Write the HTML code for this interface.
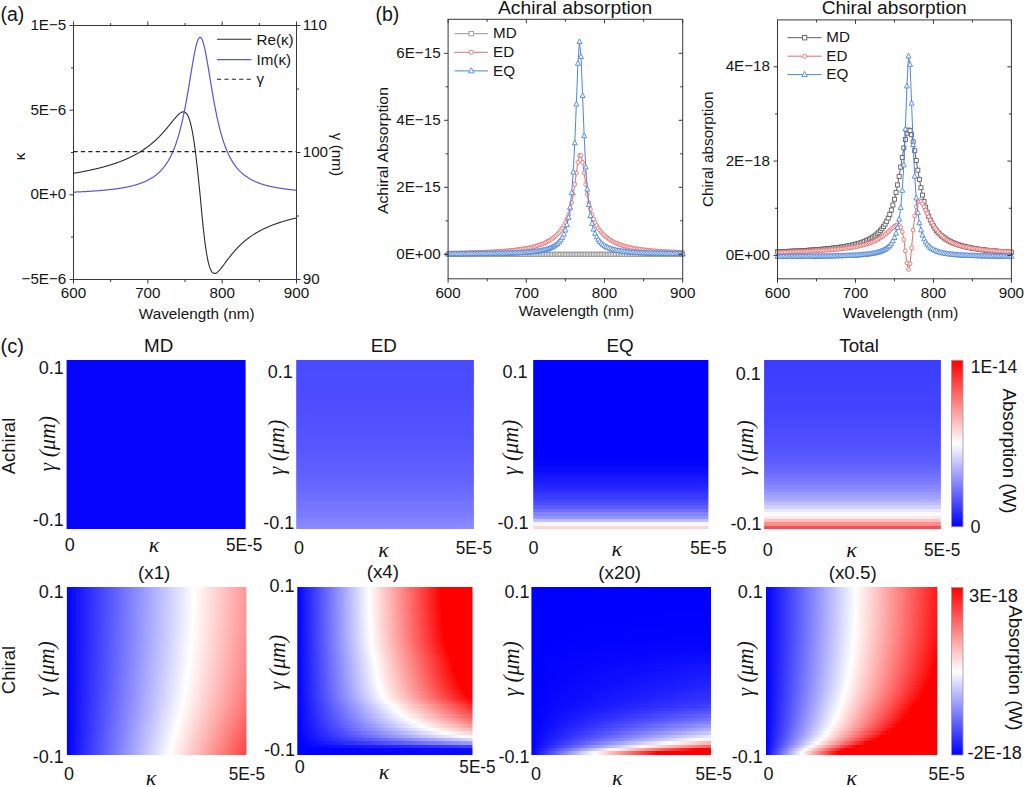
<!DOCTYPE html>
<html><head><meta charset="utf-8"><style>html,body{margin:0;padding:0;background:#fff;width:1025px;height:787px;overflow:hidden}svg{display:block}</style></head>
<body><svg width="1025" height="787" viewBox="0 0 1025 787"><defs><linearGradient id="g0_0"><stop offset="0.0000" stop-color="rgb(0,0,255)"/><stop offset="0.7072" stop-color="rgb(255,255,255)"/><stop offset="1.0000" stop-color="rgb(255,149,149)"/></linearGradient><linearGradient id="g0_1"><stop offset="0.0000" stop-color="rgb(0,0,255)"/><stop offset="0.7070" stop-color="rgb(255,255,255)"/><stop offset="1.0000" stop-color="rgb(255,149,149)"/></linearGradient><linearGradient id="g0_2"><stop offset="0.0000" stop-color="rgb(0,0,255)"/><stop offset="0.7067" stop-color="rgb(255,255,255)"/><stop offset="1.0000" stop-color="rgb(255,149,149)"/></linearGradient><linearGradient id="g0_3"><stop offset="0.0000" stop-color="rgb(0,0,255)"/><stop offset="0.7063" stop-color="rgb(255,255,255)"/><stop offset="1.0000" stop-color="rgb(255,149,149)"/></linearGradient><linearGradient id="g0_4"><stop offset="0.0000" stop-color="rgb(0,0,255)"/><stop offset="0.7058" stop-color="rgb(255,255,255)"/><stop offset="1.0000" stop-color="rgb(255,149,149)"/></linearGradient><linearGradient id="g0_5"><stop offset="0.0000" stop-color="rgb(0,0,255)"/><stop offset="0.7052" stop-color="rgb(255,255,255)"/><stop offset="1.0000" stop-color="rgb(255,148,148)"/></linearGradient><linearGradient id="g0_6"><stop offset="0.0000" stop-color="rgb(0,0,255)"/><stop offset="0.7045" stop-color="rgb(255,255,255)"/><stop offset="1.0000" stop-color="rgb(255,148,148)"/></linearGradient><linearGradient id="g0_7"><stop offset="0.0000" stop-color="rgb(0,0,255)"/><stop offset="0.7037" stop-color="rgb(255,255,255)"/><stop offset="1.0000" stop-color="rgb(255,148,148)"/></linearGradient><linearGradient id="g0_8"><stop offset="0.0000" stop-color="rgb(0,0,255)"/><stop offset="0.7029" stop-color="rgb(255,255,255)"/><stop offset="1.0000" stop-color="rgb(255,147,147)"/></linearGradient><linearGradient id="g0_9"><stop offset="0.0000" stop-color="rgb(0,0,255)"/><stop offset="0.7021" stop-color="rgb(255,255,255)"/><stop offset="1.0000" stop-color="rgb(255,147,147)"/></linearGradient><linearGradient id="g0_10"><stop offset="0.0000" stop-color="rgb(0,0,255)"/><stop offset="0.7012" stop-color="rgb(255,255,255)"/><stop offset="1.0000" stop-color="rgb(255,146,146)"/></linearGradient><linearGradient id="g0_11"><stop offset="0.0000" stop-color="rgb(0,0,255)"/><stop offset="0.7003" stop-color="rgb(255,255,255)"/><stop offset="1.0000" stop-color="rgb(255,146,146)"/></linearGradient><linearGradient id="g0_12"><stop offset="0.0000" stop-color="rgb(0,0,255)"/><stop offset="0.6993" stop-color="rgb(255,255,255)"/><stop offset="1.0000" stop-color="rgb(255,145,145)"/></linearGradient><linearGradient id="g0_13"><stop offset="0.0000" stop-color="rgb(0,0,255)"/><stop offset="0.6981" stop-color="rgb(255,255,255)"/><stop offset="1.0000" stop-color="rgb(255,145,145)"/></linearGradient><linearGradient id="g0_14"><stop offset="0.0000" stop-color="rgb(0,0,255)"/><stop offset="0.6968" stop-color="rgb(255,255,255)"/><stop offset="1.0000" stop-color="rgb(255,144,144)"/></linearGradient><linearGradient id="g0_15"><stop offset="0.0000" stop-color="rgb(0,0,255)"/><stop offset="0.6952" stop-color="rgb(255,255,255)"/><stop offset="1.0000" stop-color="rgb(255,143,143)"/></linearGradient><linearGradient id="g0_16"><stop offset="0.0000" stop-color="rgb(0,0,255)"/><stop offset="0.6936" stop-color="rgb(255,255,255)"/><stop offset="1.0000" stop-color="rgb(255,142,142)"/></linearGradient><linearGradient id="g0_17"><stop offset="0.0000" stop-color="rgb(0,0,255)"/><stop offset="0.6918" stop-color="rgb(255,255,255)"/><stop offset="1.0000" stop-color="rgb(255,141,141)"/></linearGradient><linearGradient id="g0_18"><stop offset="0.0000" stop-color="rgb(0,0,255)"/><stop offset="0.6899" stop-color="rgb(255,255,255)"/><stop offset="1.0000" stop-color="rgb(255,140,140)"/></linearGradient><linearGradient id="g0_19"><stop offset="0.0000" stop-color="rgb(0,0,255)"/><stop offset="0.6879" stop-color="rgb(255,255,255)"/><stop offset="1.0000" stop-color="rgb(255,139,139)"/></linearGradient><linearGradient id="g0_20"><stop offset="0.0000" stop-color="rgb(0,0,255)"/><stop offset="0.6858" stop-color="rgb(255,255,255)"/><stop offset="1.0000" stop-color="rgb(255,138,138)"/></linearGradient><linearGradient id="g0_21"><stop offset="0.0000" stop-color="rgb(0,0,255)"/><stop offset="0.6836" stop-color="rgb(255,255,255)"/><stop offset="1.0000" stop-color="rgb(255,137,137)"/></linearGradient><linearGradient id="g0_22"><stop offset="0.0000" stop-color="rgb(0,0,255)"/><stop offset="0.6814" stop-color="rgb(255,255,255)"/><stop offset="1.0000" stop-color="rgb(255,136,136)"/></linearGradient><linearGradient id="g0_23"><stop offset="0.0000" stop-color="rgb(0,0,255)"/><stop offset="0.6791" stop-color="rgb(255,255,255)"/><stop offset="1.0000" stop-color="rgb(255,135,135)"/></linearGradient><linearGradient id="g0_24"><stop offset="0.0000" stop-color="rgb(0,0,255)"/><stop offset="0.6768" stop-color="rgb(255,255,255)"/><stop offset="1.0000" stop-color="rgb(255,133,133)"/></linearGradient><linearGradient id="g0_25"><stop offset="0.0000" stop-color="rgb(0,0,255)"/><stop offset="0.6745" stop-color="rgb(255,255,255)"/><stop offset="1.0000" stop-color="rgb(255,132,132)"/></linearGradient><linearGradient id="g0_26"><stop offset="0.0000" stop-color="rgb(0,0,255)"/><stop offset="0.6720" stop-color="rgb(255,255,255)"/><stop offset="1.0000" stop-color="rgb(255,131,131)"/></linearGradient><linearGradient id="g0_27"><stop offset="0.0000" stop-color="rgb(0,0,255)"/><stop offset="0.6694" stop-color="rgb(255,255,255)"/><stop offset="1.0000" stop-color="rgb(255,129,129)"/></linearGradient><linearGradient id="g0_28"><stop offset="0.0000" stop-color="rgb(0,0,255)"/><stop offset="0.6666" stop-color="rgb(255,255,255)"/><stop offset="1.0000" stop-color="rgb(255,127,127)"/></linearGradient><linearGradient id="g0_29"><stop offset="0.0000" stop-color="rgb(0,0,255)"/><stop offset="0.6636" stop-color="rgb(255,255,255)"/><stop offset="1.0000" stop-color="rgb(255,126,126)"/></linearGradient><linearGradient id="g0_30"><stop offset="0.0000" stop-color="rgb(0,0,255)"/><stop offset="0.6605" stop-color="rgb(255,255,255)"/><stop offset="1.0000" stop-color="rgb(255,124,124)"/></linearGradient><linearGradient id="g0_31"><stop offset="0.0000" stop-color="rgb(0,0,255)"/><stop offset="0.6572" stop-color="rgb(255,255,255)"/><stop offset="1.0000" stop-color="rgb(255,122,122)"/></linearGradient><linearGradient id="g0_32"><stop offset="0.0000" stop-color="rgb(0,0,255)"/><stop offset="0.6538" stop-color="rgb(255,255,255)"/><stop offset="1.0000" stop-color="rgb(255,120,120)"/></linearGradient><linearGradient id="g0_33"><stop offset="0.0000" stop-color="rgb(0,0,255)"/><stop offset="0.6502" stop-color="rgb(255,255,255)"/><stop offset="1.0000" stop-color="rgb(255,118,118)"/></linearGradient><linearGradient id="g0_34"><stop offset="0.0000" stop-color="rgb(0,0,255)"/><stop offset="0.6465" stop-color="rgb(255,255,255)"/><stop offset="1.0000" stop-color="rgb(255,116,116)"/></linearGradient><linearGradient id="g0_35"><stop offset="0.0000" stop-color="rgb(0,0,255)"/><stop offset="0.6427" stop-color="rgb(255,255,255)"/><stop offset="1.0000" stop-color="rgb(255,113,113)"/></linearGradient><linearGradient id="g0_36"><stop offset="0.0000" stop-color="rgb(0,0,255)"/><stop offset="0.6384" stop-color="rgb(255,255,255)"/><stop offset="1.0000" stop-color="rgb(255,111,111)"/></linearGradient><linearGradient id="g0_37"><stop offset="0.0000" stop-color="rgb(0,0,255)"/><stop offset="0.6336" stop-color="rgb(255,255,255)"/><stop offset="1.0000" stop-color="rgb(255,108,108)"/></linearGradient><linearGradient id="g0_38"><stop offset="0.0000" stop-color="rgb(0,0,255)"/><stop offset="0.6283" stop-color="rgb(255,255,255)"/><stop offset="1.0000" stop-color="rgb(255,104,104)"/></linearGradient><linearGradient id="g0_39"><stop offset="0.0000" stop-color="rgb(0,0,255)"/><stop offset="0.6229" stop-color="rgb(255,255,255)"/><stop offset="1.0000" stop-color="rgb(255,101,101)"/></linearGradient><linearGradient id="g0_40"><stop offset="0.0000" stop-color="rgb(0,0,255)"/><stop offset="0.6175" stop-color="rgb(255,255,255)"/><stop offset="1.0000" stop-color="rgb(255,97,97)"/></linearGradient><linearGradient id="g0_41"><stop offset="0.0000" stop-color="rgb(0,0,255)"/><stop offset="0.6123" stop-color="rgb(255,255,255)"/><stop offset="1.0000" stop-color="rgb(255,94,94)"/></linearGradient><linearGradient id="g0_42"><stop offset="0.0000" stop-color="rgb(0,0,255)"/><stop offset="0.6073" stop-color="rgb(255,255,255)"/><stop offset="1.0000" stop-color="rgb(255,90,90)"/></linearGradient><linearGradient id="g0_43"><stop offset="0.0000" stop-color="rgb(0,0,255)"/><stop offset="0.6024" stop-color="rgb(255,255,255)"/><stop offset="1.0000" stop-color="rgb(255,87,87)"/></linearGradient><linearGradient id="g0_44"><stop offset="0.0000" stop-color="rgb(0,0,255)"/><stop offset="0.5975" stop-color="rgb(255,255,255)"/><stop offset="1.0000" stop-color="rgb(255,83,83)"/></linearGradient><linearGradient id="g0_45"><stop offset="0.0000" stop-color="rgb(0,0,255)"/><stop offset="0.5927" stop-color="rgb(255,255,255)"/><stop offset="1.0000" stop-color="rgb(255,80,80)"/></linearGradient><linearGradient id="g0_46"><stop offset="0.0000" stop-color="rgb(0,0,255)"/><stop offset="0.5879" stop-color="rgb(255,255,255)"/><stop offset="1.0000" stop-color="rgb(255,76,76)"/></linearGradient><linearGradient id="g0_47"><stop offset="0.0000" stop-color="rgb(0,0,255)"/><stop offset="0.5831" stop-color="rgb(255,255,255)"/><stop offset="1.0000" stop-color="rgb(255,73,73)"/></linearGradient><linearGradient id="g0_48"><stop offset="0.0000" stop-color="rgb(0,0,255)"/><stop offset="0.5784" stop-color="rgb(255,255,255)"/><stop offset="1.0000" stop-color="rgb(255,69,69)"/></linearGradient><linearGradient id="g0_49"><stop offset="0.0000" stop-color="rgb(0,0,255)"/><stop offset="0.5738" stop-color="rgb(255,255,255)"/><stop offset="1.0000" stop-color="rgb(255,66,66)"/></linearGradient><linearGradient id="g1_0"><stop offset="0.0000" stop-color="rgb(0,0,255)"/><stop offset="0.4098" stop-color="rgb(255,255,255)"/><stop offset="0.8197" stop-color="rgb(255,0,0)"/><stop offset="1.0000" stop-color="rgb(255,0,0)"/></linearGradient><linearGradient id="g1_1"><stop offset="0.0000" stop-color="rgb(0,0,255)"/><stop offset="0.4099" stop-color="rgb(255,255,255)"/><stop offset="0.8199" stop-color="rgb(255,0,0)"/><stop offset="1.0000" stop-color="rgb(255,0,0)"/></linearGradient><linearGradient id="g1_2"><stop offset="0.0000" stop-color="rgb(0,0,255)"/><stop offset="0.4101" stop-color="rgb(255,255,255)"/><stop offset="0.8202" stop-color="rgb(255,0,0)"/><stop offset="1.0000" stop-color="rgb(255,0,0)"/></linearGradient><linearGradient id="g1_3"><stop offset="0.0000" stop-color="rgb(0,0,255)"/><stop offset="0.4104" stop-color="rgb(255,255,255)"/><stop offset="0.8208" stop-color="rgb(255,0,0)"/><stop offset="1.0000" stop-color="rgb(255,0,0)"/></linearGradient><linearGradient id="g1_4"><stop offset="0.0000" stop-color="rgb(0,0,255)"/><stop offset="0.4107" stop-color="rgb(255,255,255)"/><stop offset="0.8215" stop-color="rgb(255,0,0)"/><stop offset="1.0000" stop-color="rgb(255,0,0)"/></linearGradient><linearGradient id="g1_5"><stop offset="0.0000" stop-color="rgb(0,0,255)"/><stop offset="0.4112" stop-color="rgb(255,255,255)"/><stop offset="0.8223" stop-color="rgb(255,0,0)"/><stop offset="1.0000" stop-color="rgb(255,0,0)"/></linearGradient><linearGradient id="g1_6"><stop offset="0.0000" stop-color="rgb(0,0,255)"/><stop offset="0.4117" stop-color="rgb(255,255,255)"/><stop offset="0.8234" stop-color="rgb(255,0,0)"/><stop offset="1.0000" stop-color="rgb(255,0,0)"/></linearGradient><linearGradient id="g1_7"><stop offset="0.0000" stop-color="rgb(0,0,255)"/><stop offset="0.4123" stop-color="rgb(255,255,255)"/><stop offset="0.8246" stop-color="rgb(255,0,0)"/><stop offset="1.0000" stop-color="rgb(255,0,0)"/></linearGradient><linearGradient id="g1_8"><stop offset="0.0000" stop-color="rgb(0,0,255)"/><stop offset="0.4129" stop-color="rgb(255,255,255)"/><stop offset="0.8259" stop-color="rgb(255,0,0)"/><stop offset="1.0000" stop-color="rgb(255,0,0)"/></linearGradient><linearGradient id="g1_9"><stop offset="0.0000" stop-color="rgb(0,0,255)"/><stop offset="0.4137" stop-color="rgb(255,255,255)"/><stop offset="0.8274" stop-color="rgb(255,0,0)"/><stop offset="1.0000" stop-color="rgb(255,0,0)"/></linearGradient><linearGradient id="g1_10"><stop offset="0.0000" stop-color="rgb(0,0,255)"/><stop offset="0.4145" stop-color="rgb(255,255,255)"/><stop offset="0.8290" stop-color="rgb(255,0,0)"/><stop offset="1.0000" stop-color="rgb(255,0,0)"/></linearGradient><linearGradient id="g1_11"><stop offset="0.0000" stop-color="rgb(0,0,255)"/><stop offset="0.4154" stop-color="rgb(255,255,255)"/><stop offset="0.8308" stop-color="rgb(255,0,0)"/><stop offset="1.0000" stop-color="rgb(255,0,0)"/></linearGradient><linearGradient id="g1_12"><stop offset="0.0000" stop-color="rgb(0,0,255)"/><stop offset="0.4164" stop-color="rgb(255,255,255)"/><stop offset="0.8328" stop-color="rgb(255,0,0)"/><stop offset="1.0000" stop-color="rgb(255,0,0)"/></linearGradient><linearGradient id="g1_13"><stop offset="0.0000" stop-color="rgb(0,0,255)"/><stop offset="0.4174" stop-color="rgb(255,255,255)"/><stop offset="0.8348" stop-color="rgb(255,0,0)"/><stop offset="1.0000" stop-color="rgb(255,0,0)"/></linearGradient><linearGradient id="g1_14"><stop offset="0.0000" stop-color="rgb(0,0,255)"/><stop offset="0.4185" stop-color="rgb(255,255,255)"/><stop offset="0.8370" stop-color="rgb(255,0,0)"/><stop offset="1.0000" stop-color="rgb(255,0,0)"/></linearGradient><linearGradient id="g1_15"><stop offset="0.0000" stop-color="rgb(0,0,255)"/><stop offset="0.4197" stop-color="rgb(255,255,255)"/><stop offset="0.8394" stop-color="rgb(255,0,0)"/><stop offset="1.0000" stop-color="rgb(255,0,0)"/></linearGradient><linearGradient id="g1_16"><stop offset="0.0000" stop-color="rgb(0,0,255)"/><stop offset="0.4212" stop-color="rgb(255,255,255)"/><stop offset="0.8423" stop-color="rgb(255,0,0)"/><stop offset="1.0000" stop-color="rgb(255,0,0)"/></linearGradient><linearGradient id="g1_17"><stop offset="0.0000" stop-color="rgb(0,0,255)"/><stop offset="0.4238" stop-color="rgb(255,255,255)"/><stop offset="0.8475" stop-color="rgb(255,0,0)"/><stop offset="1.0000" stop-color="rgb(255,0,0)"/></linearGradient><linearGradient id="g1_18"><stop offset="0.0000" stop-color="rgb(0,0,255)"/><stop offset="0.4272" stop-color="rgb(255,255,255)"/><stop offset="0.8545" stop-color="rgb(255,0,0)"/><stop offset="1.0000" stop-color="rgb(255,0,0)"/></linearGradient><linearGradient id="g1_19"><stop offset="0.0000" stop-color="rgb(0,0,255)"/><stop offset="0.4312" stop-color="rgb(255,255,255)"/><stop offset="0.8624" stop-color="rgb(255,0,0)"/><stop offset="1.0000" stop-color="rgb(255,0,0)"/></linearGradient><linearGradient id="g1_20"><stop offset="0.0000" stop-color="rgb(0,0,255)"/><stop offset="0.4353" stop-color="rgb(255,255,255)"/><stop offset="0.8707" stop-color="rgb(255,0,0)"/><stop offset="1.0000" stop-color="rgb(255,0,0)"/></linearGradient><linearGradient id="g1_21"><stop offset="0.0000" stop-color="rgb(0,0,255)"/><stop offset="0.4391" stop-color="rgb(255,255,255)"/><stop offset="0.8783" stop-color="rgb(255,0,0)"/><stop offset="1.0000" stop-color="rgb(255,0,0)"/></linearGradient><linearGradient id="g1_22"><stop offset="0.0000" stop-color="rgb(0,0,255)"/><stop offset="0.4423" stop-color="rgb(255,255,255)"/><stop offset="0.8846" stop-color="rgb(255,0,0)"/><stop offset="1.0000" stop-color="rgb(255,0,0)"/></linearGradient><linearGradient id="g1_23"><stop offset="0.0000" stop-color="rgb(0,0,255)"/><stop offset="0.4452" stop-color="rgb(255,255,255)"/><stop offset="0.8904" stop-color="rgb(255,0,0)"/><stop offset="1.0000" stop-color="rgb(255,0,0)"/></linearGradient><linearGradient id="g1_24"><stop offset="0.0000" stop-color="rgb(0,0,255)"/><stop offset="0.4479" stop-color="rgb(255,255,255)"/><stop offset="0.8959" stop-color="rgb(255,0,0)"/><stop offset="1.0000" stop-color="rgb(255,0,0)"/></linearGradient><linearGradient id="g1_25"><stop offset="0.0000" stop-color="rgb(0,0,255)"/><stop offset="0.4508" stop-color="rgb(255,255,255)"/><stop offset="0.9016" stop-color="rgb(255,0,0)"/><stop offset="1.0000" stop-color="rgb(255,0,0)"/></linearGradient><linearGradient id="g1_26"><stop offset="0.0000" stop-color="rgb(0,0,255)"/><stop offset="0.4540" stop-color="rgb(255,255,255)"/><stop offset="0.9079" stop-color="rgb(255,0,0)"/><stop offset="1.0000" stop-color="rgb(255,0,0)"/></linearGradient><linearGradient id="g1_27"><stop offset="0.0000" stop-color="rgb(0,0,255)"/><stop offset="0.4577" stop-color="rgb(255,255,255)"/><stop offset="0.9153" stop-color="rgb(255,0,0)"/><stop offset="1.0000" stop-color="rgb(255,0,0)"/></linearGradient><linearGradient id="g1_28"><stop offset="0.0000" stop-color="rgb(0,0,255)"/><stop offset="0.4620" stop-color="rgb(255,255,255)"/><stop offset="0.9240" stop-color="rgb(255,0,0)"/><stop offset="1.0000" stop-color="rgb(255,0,0)"/></linearGradient><linearGradient id="g1_29"><stop offset="0.0000" stop-color="rgb(0,0,255)"/><stop offset="0.4669" stop-color="rgb(255,255,255)"/><stop offset="0.9338" stop-color="rgb(255,0,0)"/><stop offset="1.0000" stop-color="rgb(255,0,0)"/></linearGradient><linearGradient id="g1_30"><stop offset="0.0000" stop-color="rgb(0,0,255)"/><stop offset="0.4726" stop-color="rgb(255,255,255)"/><stop offset="0.9451" stop-color="rgb(255,0,0)"/><stop offset="1.0000" stop-color="rgb(255,0,0)"/></linearGradient><linearGradient id="g1_31"><stop offset="0.0000" stop-color="rgb(0,0,255)"/><stop offset="0.4794" stop-color="rgb(255,255,255)"/><stop offset="0.9588" stop-color="rgb(255,0,0)"/><stop offset="1.0000" stop-color="rgb(255,0,0)"/></linearGradient><linearGradient id="g1_32"><stop offset="0.0000" stop-color="rgb(0,0,255)"/><stop offset="0.4879" stop-color="rgb(255,255,255)"/><stop offset="0.9758" stop-color="rgb(255,0,0)"/><stop offset="1.0000" stop-color="rgb(255,0,0)"/></linearGradient><linearGradient id="g1_33"><stop offset="0.0000" stop-color="rgb(0,0,255)"/><stop offset="0.4990" stop-color="rgb(255,255,255)"/><stop offset="0.9981" stop-color="rgb(255,0,0)"/><stop offset="1.0000" stop-color="rgb(255,0,0)"/></linearGradient><linearGradient id="g1_34"><stop offset="0.0000" stop-color="rgb(0,0,255)"/><stop offset="0.5193" stop-color="rgb(255,255,255)"/><stop offset="1.0000" stop-color="rgb(255,19,19)"/></linearGradient><linearGradient id="g1_35"><stop offset="0.0000" stop-color="rgb(0,0,255)"/><stop offset="0.5425" stop-color="rgb(255,255,255)"/><stop offset="1.0000" stop-color="rgb(255,40,40)"/></linearGradient><linearGradient id="g1_36"><stop offset="0.0000" stop-color="rgb(0,0,255)"/><stop offset="0.5610" stop-color="rgb(255,255,255)"/><stop offset="1.0000" stop-color="rgb(255,55,55)"/></linearGradient><linearGradient id="g1_37"><stop offset="0.0000" stop-color="rgb(0,0,255)"/><stop offset="0.5796" stop-color="rgb(255,255,255)"/><stop offset="1.0000" stop-color="rgb(255,70,70)"/></linearGradient><linearGradient id="g1_38"><stop offset="0.0000" stop-color="rgb(0,0,255)"/><stop offset="0.6032" stop-color="rgb(255,255,255)"/><stop offset="1.0000" stop-color="rgb(255,87,87)"/></linearGradient><linearGradient id="g1_39"><stop offset="0.0000" stop-color="rgb(0,0,255)"/><stop offset="0.6328" stop-color="rgb(255,255,255)"/><stop offset="1.0000" stop-color="rgb(255,107,107)"/></linearGradient><linearGradient id="g1_40"><stop offset="0.0000" stop-color="rgb(0,0,255)"/><stop offset="0.6673" stop-color="rgb(255,255,255)"/><stop offset="1.0000" stop-color="rgb(255,128,128)"/></linearGradient><linearGradient id="g1_41"><stop offset="0.0000" stop-color="rgb(0,0,255)"/><stop offset="0.7094" stop-color="rgb(255,255,255)"/><stop offset="1.0000" stop-color="rgb(255,151,151)"/></linearGradient><linearGradient id="g1_42"><stop offset="0.0000" stop-color="rgb(0,0,255)"/><stop offset="0.7658" stop-color="rgb(255,255,255)"/><stop offset="1.0000" stop-color="rgb(255,177,177)"/></linearGradient><linearGradient id="g1_43"><stop offset="0.0000" stop-color="rgb(0,0,255)"/><stop offset="0.8438" stop-color="rgb(255,255,255)"/><stop offset="1.0000" stop-color="rgb(255,208,208)"/></linearGradient><linearGradient id="g1_44"><stop offset="0.0000" stop-color="rgb(0,0,255)"/><stop offset="0.9474" stop-color="rgb(255,255,255)"/><stop offset="1.0000" stop-color="rgb(255,241,241)"/></linearGradient><linearGradient id="g1_45"><stop offset="0.0000" stop-color="rgb(0,0,255)"/><stop offset="1.0000" stop-color="rgb(216,216,255)"/></linearGradient><linearGradient id="g1_46"><stop offset="0.0000" stop-color="rgb(0,0,255)"/><stop offset="1.0000" stop-color="rgb(160,160,255)"/></linearGradient><linearGradient id="g1_47"><stop offset="0.0000" stop-color="rgb(0,0,255)"/><stop offset="1.0000" stop-color="rgb(68,68,255)"/></linearGradient><linearGradient id="g1_48"><stop offset="0.0000" stop-color="rgb(0,0,255)"/><stop offset="1.0000" stop-color="rgb(14,14,255)"/></linearGradient><linearGradient id="g1_49"><stop offset="0.0000" stop-color="rgb(0,0,255)"/><stop offset="1.0000" stop-color="rgb(10,10,255)"/></linearGradient><linearGradient id="g2_0"><stop offset="0.0000" stop-color="rgb(0,0,255)"/><stop offset="1.0000" stop-color="rgb(0,0,255)"/></linearGradient><linearGradient id="g2_1"><stop offset="0.0000" stop-color="rgb(0,0,255)"/><stop offset="1.0000" stop-color="rgb(0,0,255)"/></linearGradient><linearGradient id="g2_2"><stop offset="0.0000" stop-color="rgb(0,0,255)"/><stop offset="1.0000" stop-color="rgb(0,0,255)"/></linearGradient><linearGradient id="g2_3"><stop offset="0.0000" stop-color="rgb(0,0,255)"/><stop offset="1.0000" stop-color="rgb(0,0,255)"/></linearGradient><linearGradient id="g2_4"><stop offset="0.0000" stop-color="rgb(0,0,255)"/><stop offset="1.0000" stop-color="rgb(0,0,255)"/></linearGradient><linearGradient id="g2_5"><stop offset="0.0000" stop-color="rgb(0,0,255)"/><stop offset="1.0000" stop-color="rgb(0,0,255)"/></linearGradient><linearGradient id="g2_6"><stop offset="0.0000" stop-color="rgb(0,0,255)"/><stop offset="1.0000" stop-color="rgb(0,0,255)"/></linearGradient><linearGradient id="g2_7"><stop offset="0.0000" stop-color="rgb(0,0,255)"/><stop offset="1.0000" stop-color="rgb(1,1,255)"/></linearGradient><linearGradient id="g2_8"><stop offset="0.0000" stop-color="rgb(0,0,255)"/><stop offset="1.0000" stop-color="rgb(1,1,255)"/></linearGradient><linearGradient id="g2_9"><stop offset="0.0000" stop-color="rgb(0,0,255)"/><stop offset="1.0000" stop-color="rgb(1,1,255)"/></linearGradient><linearGradient id="g2_10"><stop offset="0.0000" stop-color="rgb(0,0,255)"/><stop offset="1.0000" stop-color="rgb(1,1,255)"/></linearGradient><linearGradient id="g2_11"><stop offset="0.0000" stop-color="rgb(0,0,255)"/><stop offset="1.0000" stop-color="rgb(1,1,255)"/></linearGradient><linearGradient id="g2_12"><stop offset="0.0000" stop-color="rgb(0,0,255)"/><stop offset="1.0000" stop-color="rgb(2,2,255)"/></linearGradient><linearGradient id="g2_13"><stop offset="0.0000" stop-color="rgb(0,0,255)"/><stop offset="1.0000" stop-color="rgb(2,2,255)"/></linearGradient><linearGradient id="g2_14"><stop offset="0.0000" stop-color="rgb(0,0,255)"/><stop offset="1.0000" stop-color="rgb(2,2,255)"/></linearGradient><linearGradient id="g2_15"><stop offset="0.0000" stop-color="rgb(0,0,255)"/><stop offset="1.0000" stop-color="rgb(3,3,255)"/></linearGradient><linearGradient id="g2_16"><stop offset="0.0000" stop-color="rgb(0,0,255)"/><stop offset="1.0000" stop-color="rgb(4,4,255)"/></linearGradient><linearGradient id="g2_17"><stop offset="0.0000" stop-color="rgb(0,0,255)"/><stop offset="1.0000" stop-color="rgb(5,5,255)"/></linearGradient><linearGradient id="g2_18"><stop offset="0.0000" stop-color="rgb(0,0,255)"/><stop offset="1.0000" stop-color="rgb(7,7,255)"/></linearGradient><linearGradient id="g2_19"><stop offset="0.0000" stop-color="rgb(0,0,255)"/><stop offset="1.0000" stop-color="rgb(9,9,255)"/></linearGradient><linearGradient id="g2_20"><stop offset="0.0000" stop-color="rgb(0,0,255)"/><stop offset="1.0000" stop-color="rgb(11,11,255)"/></linearGradient><linearGradient id="g2_21"><stop offset="0.0000" stop-color="rgb(0,0,255)"/><stop offset="1.0000" stop-color="rgb(13,13,255)"/></linearGradient><linearGradient id="g2_22"><stop offset="0.0000" stop-color="rgb(0,0,255)"/><stop offset="1.0000" stop-color="rgb(16,16,255)"/></linearGradient><linearGradient id="g2_23"><stop offset="0.0000" stop-color="rgb(0,0,255)"/><stop offset="1.0000" stop-color="rgb(19,19,255)"/></linearGradient><linearGradient id="g2_24"><stop offset="0.0000" stop-color="rgb(0,0,255)"/><stop offset="1.0000" stop-color="rgb(22,22,255)"/></linearGradient><linearGradient id="g2_25"><stop offset="0.0000" stop-color="rgb(0,0,255)"/><stop offset="1.0000" stop-color="rgb(24,24,255)"/></linearGradient><linearGradient id="g2_26"><stop offset="0.0000" stop-color="rgb(0,0,255)"/><stop offset="1.0000" stop-color="rgb(27,27,255)"/></linearGradient><linearGradient id="g2_27"><stop offset="0.0000" stop-color="rgb(0,0,255)"/><stop offset="1.0000" stop-color="rgb(30,30,255)"/></linearGradient><linearGradient id="g2_28"><stop offset="0.0000" stop-color="rgb(0,0,255)"/><stop offset="1.0000" stop-color="rgb(33,33,255)"/></linearGradient><linearGradient id="g2_29"><stop offset="0.0000" stop-color="rgb(0,0,255)"/><stop offset="1.0000" stop-color="rgb(36,36,255)"/></linearGradient><linearGradient id="g2_30"><stop offset="0.0000" stop-color="rgb(0,0,255)"/><stop offset="1.0000" stop-color="rgb(40,40,255)"/></linearGradient><linearGradient id="g2_31"><stop offset="0.0000" stop-color="rgb(0,0,255)"/><stop offset="1.0000" stop-color="rgb(44,44,255)"/></linearGradient><linearGradient id="g2_32"><stop offset="0.0000" stop-color="rgb(0,0,255)"/><stop offset="1.0000" stop-color="rgb(48,48,255)"/></linearGradient><linearGradient id="g2_33"><stop offset="0.0000" stop-color="rgb(0,0,255)"/><stop offset="1.0000" stop-color="rgb(52,52,255)"/></linearGradient><linearGradient id="g2_34"><stop offset="0.0000" stop-color="rgb(0,0,255)"/><stop offset="1.0000" stop-color="rgb(58,58,255)"/></linearGradient><linearGradient id="g2_35"><stop offset="0.0000" stop-color="rgb(0,0,255)"/><stop offset="1.0000" stop-color="rgb(65,65,255)"/></linearGradient><linearGradient id="g2_36"><stop offset="0.0000" stop-color="rgb(0,0,255)"/><stop offset="1.0000" stop-color="rgb(76,76,255)"/></linearGradient><linearGradient id="g2_37"><stop offset="0.0000" stop-color="rgb(0,0,255)"/><stop offset="1.0000" stop-color="rgb(89,89,255)"/></linearGradient><linearGradient id="g2_38"><stop offset="0.0000" stop-color="rgb(0,0,255)"/><stop offset="1.0000" stop-color="rgb(102,102,255)"/></linearGradient><linearGradient id="g2_39"><stop offset="0.0000" stop-color="rgb(0,0,255)"/><stop offset="1.0000" stop-color="rgb(117,117,255)"/></linearGradient><linearGradient id="g2_40"><stop offset="0.0000" stop-color="rgb(0,0,255)"/><stop offset="1.0000" stop-color="rgb(134,134,255)"/></linearGradient><linearGradient id="g2_41"><stop offset="0.0000" stop-color="rgb(0,0,255)"/><stop offset="1.0000" stop-color="rgb(155,155,255)"/></linearGradient><linearGradient id="g2_42"><stop offset="0.0000" stop-color="rgb(0,0,255)"/><stop offset="1.0000" stop-color="rgb(177,177,255)"/></linearGradient><linearGradient id="g2_43"><stop offset="0.0000" stop-color="rgb(0,0,255)"/><stop offset="1.0000" stop-color="rgb(203,203,255)"/></linearGradient><linearGradient id="g2_44"><stop offset="0.0000" stop-color="rgb(0,0,255)"/><stop offset="1.0000" stop-color="rgb(236,236,255)"/></linearGradient><linearGradient id="g2_45"><stop offset="0.0000" stop-color="rgb(0,0,255)"/><stop offset="0.9373" stop-color="rgb(255,255,255)"/><stop offset="1.0000" stop-color="rgb(255,238,238)"/></linearGradient><linearGradient id="g2_46"><stop offset="0.0000" stop-color="rgb(0,0,255)"/><stop offset="0.7681" stop-color="rgb(255,255,255)"/><stop offset="1.0000" stop-color="rgb(255,178,178)"/></linearGradient><linearGradient id="g2_47"><stop offset="0.0000" stop-color="rgb(0,0,255)"/><stop offset="0.6143" stop-color="rgb(255,255,255)"/><stop offset="1.0000" stop-color="rgb(255,95,95)"/></linearGradient><linearGradient id="g2_48"><stop offset="0.0000" stop-color="rgb(0,0,255)"/><stop offset="0.4554" stop-color="rgb(255,255,255)"/><stop offset="0.9108" stop-color="rgb(255,0,0)"/><stop offset="1.0000" stop-color="rgb(255,0,0)"/></linearGradient><linearGradient id="g2_49"><stop offset="0.0000" stop-color="rgb(0,0,255)"/><stop offset="0.3533" stop-color="rgb(255,255,255)"/><stop offset="0.7066" stop-color="rgb(255,0,0)"/><stop offset="1.0000" stop-color="rgb(255,0,0)"/></linearGradient><linearGradient id="g3_0"><stop offset="0.0000" stop-color="rgb(0,0,255)"/><stop offset="0.5235" stop-color="rgb(255,255,255)"/><stop offset="1.0000" stop-color="rgb(255,23,23)"/></linearGradient><linearGradient id="g3_1"><stop offset="0.0000" stop-color="rgb(0,0,255)"/><stop offset="0.5234" stop-color="rgb(255,255,255)"/><stop offset="1.0000" stop-color="rgb(255,23,23)"/></linearGradient><linearGradient id="g3_2"><stop offset="0.0000" stop-color="rgb(0,0,255)"/><stop offset="0.5232" stop-color="rgb(255,255,255)"/><stop offset="1.0000" stop-color="rgb(255,23,23)"/></linearGradient><linearGradient id="g3_3"><stop offset="0.0000" stop-color="rgb(0,0,255)"/><stop offset="0.5229" stop-color="rgb(255,255,255)"/><stop offset="1.0000" stop-color="rgb(255,22,22)"/></linearGradient><linearGradient id="g3_4"><stop offset="0.0000" stop-color="rgb(0,0,255)"/><stop offset="0.5225" stop-color="rgb(255,255,255)"/><stop offset="1.0000" stop-color="rgb(255,22,22)"/></linearGradient><linearGradient id="g3_5"><stop offset="0.0000" stop-color="rgb(0,0,255)"/><stop offset="0.5221" stop-color="rgb(255,255,255)"/><stop offset="1.0000" stop-color="rgb(255,22,22)"/></linearGradient><linearGradient id="g3_6"><stop offset="0.0000" stop-color="rgb(0,0,255)"/><stop offset="0.5216" stop-color="rgb(255,255,255)"/><stop offset="1.0000" stop-color="rgb(255,21,21)"/></linearGradient><linearGradient id="g3_7"><stop offset="0.0000" stop-color="rgb(0,0,255)"/><stop offset="0.5210" stop-color="rgb(255,255,255)"/><stop offset="1.0000" stop-color="rgb(255,21,21)"/></linearGradient><linearGradient id="g3_8"><stop offset="0.0000" stop-color="rgb(0,0,255)"/><stop offset="0.5203" stop-color="rgb(255,255,255)"/><stop offset="1.0000" stop-color="rgb(255,20,20)"/></linearGradient><linearGradient id="g3_9"><stop offset="0.0000" stop-color="rgb(0,0,255)"/><stop offset="0.5196" stop-color="rgb(255,255,255)"/><stop offset="1.0000" stop-color="rgb(255,19,19)"/></linearGradient><linearGradient id="g3_10"><stop offset="0.0000" stop-color="rgb(0,0,255)"/><stop offset="0.5189" stop-color="rgb(255,255,255)"/><stop offset="1.0000" stop-color="rgb(255,19,19)"/></linearGradient><linearGradient id="g3_11"><stop offset="0.0000" stop-color="rgb(0,0,255)"/><stop offset="0.5181" stop-color="rgb(255,255,255)"/><stop offset="1.0000" stop-color="rgb(255,18,18)"/></linearGradient><linearGradient id="g3_12"><stop offset="0.0000" stop-color="rgb(0,0,255)"/><stop offset="0.5172" stop-color="rgb(255,255,255)"/><stop offset="1.0000" stop-color="rgb(255,17,17)"/></linearGradient><linearGradient id="g3_13"><stop offset="0.0000" stop-color="rgb(0,0,255)"/><stop offset="0.5158" stop-color="rgb(255,255,255)"/><stop offset="1.0000" stop-color="rgb(255,16,16)"/></linearGradient><linearGradient id="g3_14"><stop offset="0.0000" stop-color="rgb(0,0,255)"/><stop offset="0.5142" stop-color="rgb(255,255,255)"/><stop offset="1.0000" stop-color="rgb(255,14,14)"/></linearGradient><linearGradient id="g3_15"><stop offset="0.0000" stop-color="rgb(0,0,255)"/><stop offset="0.5123" stop-color="rgb(255,255,255)"/><stop offset="1.0000" stop-color="rgb(255,12,12)"/></linearGradient><linearGradient id="g3_16"><stop offset="0.0000" stop-color="rgb(0,0,255)"/><stop offset="0.5102" stop-color="rgb(255,255,255)"/><stop offset="1.0000" stop-color="rgb(255,10,10)"/></linearGradient><linearGradient id="g3_17"><stop offset="0.0000" stop-color="rgb(0,0,255)"/><stop offset="0.5079" stop-color="rgb(255,255,255)"/><stop offset="1.0000" stop-color="rgb(255,8,8)"/></linearGradient><linearGradient id="g3_18"><stop offset="0.0000" stop-color="rgb(0,0,255)"/><stop offset="0.5055" stop-color="rgb(255,255,255)"/><stop offset="1.0000" stop-color="rgb(255,6,6)"/></linearGradient><linearGradient id="g3_19"><stop offset="0.0000" stop-color="rgb(0,0,255)"/><stop offset="0.5030" stop-color="rgb(255,255,255)"/><stop offset="1.0000" stop-color="rgb(255,3,3)"/></linearGradient><linearGradient id="g3_20"><stop offset="0.0000" stop-color="rgb(0,0,255)"/><stop offset="0.5005" stop-color="rgb(255,255,255)"/><stop offset="1.0000" stop-color="rgb(255,0,0)"/></linearGradient><linearGradient id="g3_21"><stop offset="0.0000" stop-color="rgb(0,0,255)"/><stop offset="0.4979" stop-color="rgb(255,255,255)"/><stop offset="0.9958" stop-color="rgb(255,0,0)"/><stop offset="1.0000" stop-color="rgb(255,0,0)"/></linearGradient><linearGradient id="g3_22"><stop offset="0.0000" stop-color="rgb(0,0,255)"/><stop offset="0.4953" stop-color="rgb(255,255,255)"/><stop offset="0.9906" stop-color="rgb(255,0,0)"/><stop offset="1.0000" stop-color="rgb(255,0,0)"/></linearGradient><linearGradient id="g3_23"><stop offset="0.0000" stop-color="rgb(0,0,255)"/><stop offset="0.4925" stop-color="rgb(255,255,255)"/><stop offset="0.9850" stop-color="rgb(255,0,0)"/><stop offset="1.0000" stop-color="rgb(255,0,0)"/></linearGradient><linearGradient id="g3_24"><stop offset="0.0000" stop-color="rgb(0,0,255)"/><stop offset="0.4894" stop-color="rgb(255,255,255)"/><stop offset="0.9788" stop-color="rgb(255,0,0)"/><stop offset="1.0000" stop-color="rgb(255,0,0)"/></linearGradient><linearGradient id="g3_25"><stop offset="0.0000" stop-color="rgb(0,0,255)"/><stop offset="0.4861" stop-color="rgb(255,255,255)"/><stop offset="0.9721" stop-color="rgb(255,0,0)"/><stop offset="1.0000" stop-color="rgb(255,0,0)"/></linearGradient><linearGradient id="g3_26"><stop offset="0.0000" stop-color="rgb(0,0,255)"/><stop offset="0.4825" stop-color="rgb(255,255,255)"/><stop offset="0.9649" stop-color="rgb(255,0,0)"/><stop offset="1.0000" stop-color="rgb(255,0,0)"/></linearGradient><linearGradient id="g3_27"><stop offset="0.0000" stop-color="rgb(0,0,255)"/><stop offset="0.4786" stop-color="rgb(255,255,255)"/><stop offset="0.9572" stop-color="rgb(255,0,0)"/><stop offset="1.0000" stop-color="rgb(255,0,0)"/></linearGradient><linearGradient id="g3_28"><stop offset="0.0000" stop-color="rgb(0,0,255)"/><stop offset="0.4743" stop-color="rgb(255,255,255)"/><stop offset="0.9487" stop-color="rgb(255,0,0)"/><stop offset="1.0000" stop-color="rgb(255,0,0)"/></linearGradient><linearGradient id="g3_29"><stop offset="0.0000" stop-color="rgb(0,0,255)"/><stop offset="0.4697" stop-color="rgb(255,255,255)"/><stop offset="0.9394" stop-color="rgb(255,0,0)"/><stop offset="1.0000" stop-color="rgb(255,0,0)"/></linearGradient><linearGradient id="g3_30"><stop offset="0.0000" stop-color="rgb(0,0,255)"/><stop offset="0.4647" stop-color="rgb(255,255,255)"/><stop offset="0.9294" stop-color="rgb(255,0,0)"/><stop offset="1.0000" stop-color="rgb(255,0,0)"/></linearGradient><linearGradient id="g3_31"><stop offset="0.0000" stop-color="rgb(0,0,255)"/><stop offset="0.4593" stop-color="rgb(255,255,255)"/><stop offset="0.9186" stop-color="rgb(255,0,0)"/><stop offset="1.0000" stop-color="rgb(255,0,0)"/></linearGradient><linearGradient id="g3_32"><stop offset="0.0000" stop-color="rgb(0,0,255)"/><stop offset="0.4535" stop-color="rgb(255,255,255)"/><stop offset="0.9071" stop-color="rgb(255,0,0)"/><stop offset="1.0000" stop-color="rgb(255,0,0)"/></linearGradient><linearGradient id="g3_33"><stop offset="0.0000" stop-color="rgb(0,0,255)"/><stop offset="0.4471" stop-color="rgb(255,255,255)"/><stop offset="0.8942" stop-color="rgb(255,0,0)"/><stop offset="1.0000" stop-color="rgb(255,0,0)"/></linearGradient><linearGradient id="g3_34"><stop offset="0.0000" stop-color="rgb(0,0,255)"/><stop offset="0.4400" stop-color="rgb(255,255,255)"/><stop offset="0.8801" stop-color="rgb(255,0,0)"/><stop offset="1.0000" stop-color="rgb(255,0,0)"/></linearGradient><linearGradient id="g3_35"><stop offset="0.0000" stop-color="rgb(0,0,255)"/><stop offset="0.4327" stop-color="rgb(255,255,255)"/><stop offset="0.8653" stop-color="rgb(255,0,0)"/><stop offset="1.0000" stop-color="rgb(255,0,0)"/></linearGradient><linearGradient id="g3_36"><stop offset="0.0000" stop-color="rgb(0,0,255)"/><stop offset="0.4251" stop-color="rgb(255,255,255)"/><stop offset="0.8502" stop-color="rgb(255,0,0)"/><stop offset="1.0000" stop-color="rgb(255,0,0)"/></linearGradient><linearGradient id="g3_37"><stop offset="0.0000" stop-color="rgb(0,0,255)"/><stop offset="0.4175" stop-color="rgb(255,255,255)"/><stop offset="0.8351" stop-color="rgb(255,0,0)"/><stop offset="1.0000" stop-color="rgb(255,0,0)"/></linearGradient><linearGradient id="g3_38"><stop offset="0.0000" stop-color="rgb(0,0,255)"/><stop offset="0.4101" stop-color="rgb(255,255,255)"/><stop offset="0.8202" stop-color="rgb(255,0,0)"/><stop offset="1.0000" stop-color="rgb(255,0,0)"/></linearGradient><linearGradient id="g3_39"><stop offset="0.0000" stop-color="rgb(0,0,255)"/><stop offset="0.4022" stop-color="rgb(255,255,255)"/><stop offset="0.8044" stop-color="rgb(255,0,0)"/><stop offset="1.0000" stop-color="rgb(255,0,0)"/></linearGradient><linearGradient id="g3_40"><stop offset="0.0000" stop-color="rgb(0,0,255)"/><stop offset="0.3931" stop-color="rgb(255,255,255)"/><stop offset="0.7862" stop-color="rgb(255,0,0)"/><stop offset="1.0000" stop-color="rgb(255,0,0)"/></linearGradient><linearGradient id="g3_41"><stop offset="0.0000" stop-color="rgb(0,0,255)"/><stop offset="0.3823" stop-color="rgb(255,255,255)"/><stop offset="0.7646" stop-color="rgb(255,0,0)"/><stop offset="1.0000" stop-color="rgb(255,0,0)"/></linearGradient><linearGradient id="g3_42"><stop offset="0.0000" stop-color="rgb(0,0,255)"/><stop offset="0.3692" stop-color="rgb(255,255,255)"/><stop offset="0.7384" stop-color="rgb(255,0,0)"/><stop offset="1.0000" stop-color="rgb(255,0,0)"/></linearGradient><linearGradient id="g3_43"><stop offset="0.0000" stop-color="rgb(0,0,255)"/><stop offset="0.3544" stop-color="rgb(255,255,255)"/><stop offset="0.7088" stop-color="rgb(255,0,0)"/><stop offset="1.0000" stop-color="rgb(255,0,0)"/></linearGradient><linearGradient id="g3_44"><stop offset="0.0000" stop-color="rgb(0,0,255)"/><stop offset="0.3379" stop-color="rgb(255,255,255)"/><stop offset="0.6759" stop-color="rgb(255,0,0)"/><stop offset="1.0000" stop-color="rgb(255,0,0)"/></linearGradient><linearGradient id="g3_45"><stop offset="0.0000" stop-color="rgb(0,0,255)"/><stop offset="0.3186" stop-color="rgb(255,255,255)"/><stop offset="0.6372" stop-color="rgb(255,0,0)"/><stop offset="1.0000" stop-color="rgb(255,0,0)"/></linearGradient><linearGradient id="g3_46"><stop offset="0.0000" stop-color="rgb(0,0,255)"/><stop offset="0.2955" stop-color="rgb(255,255,255)"/><stop offset="0.5910" stop-color="rgb(255,0,0)"/><stop offset="1.0000" stop-color="rgb(255,0,0)"/></linearGradient><linearGradient id="g3_47"><stop offset="0.0000" stop-color="rgb(0,0,255)"/><stop offset="0.2618" stop-color="rgb(255,255,255)"/><stop offset="0.5235" stop-color="rgb(255,0,0)"/><stop offset="1.0000" stop-color="rgb(255,0,0)"/></linearGradient><linearGradient id="g3_48"><stop offset="0.0000" stop-color="rgb(0,0,255)"/><stop offset="0.2299" stop-color="rgb(255,255,255)"/><stop offset="0.4598" stop-color="rgb(255,0,0)"/><stop offset="1.0000" stop-color="rgb(255,0,0)"/></linearGradient><linearGradient id="g3_49"><stop offset="0.0000" stop-color="rgb(0,0,255)"/><stop offset="0.2085" stop-color="rgb(255,255,255)"/><stop offset="0.4170" stop-color="rgb(255,0,0)"/><stop offset="1.0000" stop-color="rgb(255,0,0)"/></linearGradient><linearGradient id="cb360" x1="0" y1="1" x2="0" y2="0"><stop offset="0" stop-color="rgb(0,0,255)"/><stop offset="0.5" stop-color="rgb(255,255,255)"/><stop offset="1" stop-color="rgb(255,0,0)"/></linearGradient><linearGradient id="cb587" x1="0" y1="1" x2="0" y2="0"><stop offset="0" stop-color="rgb(0,0,255)"/><stop offset="0.5" stop-color="rgb(255,255,255)"/><stop offset="1" stop-color="rgb(255,0,0)"/></linearGradient></defs><rect width="1025" height="787" fill="#fff"/><text x="0.50" y="21.00" style="font-family:'Liberation Sans',sans-serif;font-size:19.5px;" text-anchor="start" fill="#151515">(a)</text><rect x="73.5" y="25.5" width="223.0" height="254.0" fill="none" stroke="#383838" stroke-width="1"/><line x1="73.50" y1="279.50" x2="73.50" y2="283.50" stroke="#383838" stroke-width="1" /><line x1="73.50" y1="25.50" x2="73.50" y2="21.50" stroke="#383838" stroke-width="1" /><text x="73.50" y="297.90" style="font-family:'Liberation Sans',sans-serif;font-size:15.2px;" text-anchor="middle" fill="#151515">600</text><line x1="110.67" y1="279.50" x2="110.67" y2="282.00" stroke="#383838" stroke-width="1" /><line x1="110.67" y1="25.50" x2="110.67" y2="23.00" stroke="#383838" stroke-width="1" /><line x1="147.83" y1="279.50" x2="147.83" y2="283.50" stroke="#383838" stroke-width="1" /><line x1="147.83" y1="25.50" x2="147.83" y2="21.50" stroke="#383838" stroke-width="1" /><text x="147.83" y="297.90" style="font-family:'Liberation Sans',sans-serif;font-size:15.2px;" text-anchor="middle" fill="#151515">700</text><line x1="185.00" y1="279.50" x2="185.00" y2="282.00" stroke="#383838" stroke-width="1" /><line x1="185.00" y1="25.50" x2="185.00" y2="23.00" stroke="#383838" stroke-width="1" /><line x1="222.17" y1="279.50" x2="222.17" y2="283.50" stroke="#383838" stroke-width="1" /><line x1="222.17" y1="25.50" x2="222.17" y2="21.50" stroke="#383838" stroke-width="1" /><text x="222.17" y="297.90" style="font-family:'Liberation Sans',sans-serif;font-size:15.2px;" text-anchor="middle" fill="#151515">800</text><line x1="259.33" y1="279.50" x2="259.33" y2="282.00" stroke="#383838" stroke-width="1" /><line x1="259.33" y1="25.50" x2="259.33" y2="23.00" stroke="#383838" stroke-width="1" /><line x1="296.50" y1="279.50" x2="296.50" y2="283.50" stroke="#383838" stroke-width="1" /><line x1="296.50" y1="25.50" x2="296.50" y2="21.50" stroke="#383838" stroke-width="1" /><text x="296.50" y="297.90" style="font-family:'Liberation Sans',sans-serif;font-size:15.2px;" text-anchor="middle" fill="#151515">900</text><line x1="69.50" y1="279.50" x2="73.50" y2="279.50" stroke="#383838" stroke-width="1" /><line x1="71.00" y1="237.17" x2="73.50" y2="237.17" stroke="#383838" stroke-width="1" /><line x1="69.50" y1="194.83" x2="73.50" y2="194.83" stroke="#383838" stroke-width="1" /><line x1="71.00" y1="152.50" x2="73.50" y2="152.50" stroke="#383838" stroke-width="1" /><line x1="69.50" y1="110.17" x2="73.50" y2="110.17" stroke="#383838" stroke-width="1" /><line x1="71.00" y1="67.83" x2="73.50" y2="67.83" stroke="#383838" stroke-width="1" /><line x1="69.50" y1="25.50" x2="73.50" y2="25.50" stroke="#383838" stroke-width="1" /><text x="66.30" y="30.10" style="font-family:'Liberation Sans',sans-serif;font-size:15.2px;" text-anchor="end" fill="#151515">1E−5</text><text x="66.30" y="114.77" style="font-family:'Liberation Sans',sans-serif;font-size:15.2px;" text-anchor="end" fill="#151515">5E−6</text><text x="66.30" y="199.43" style="font-family:'Liberation Sans',sans-serif;font-size:15.2px;" text-anchor="end" fill="#151515">0E+0</text><text x="66.30" y="284.10" style="font-family:'Liberation Sans',sans-serif;font-size:15.2px;" text-anchor="end" fill="#151515">−5E−6</text><line x1="296.50" y1="279.50" x2="300.50" y2="279.50" stroke="#383838" stroke-width="1" /><text x="302.70" y="284.40" style="font-family:'Liberation Sans',sans-serif;font-size:15.2px;" text-anchor="start" fill="#151515">90</text><line x1="296.50" y1="216.00" x2="299.00" y2="216.00" stroke="#383838" stroke-width="1" /><line x1="296.50" y1="152.50" x2="300.50" y2="152.50" stroke="#383838" stroke-width="1" /><text x="302.70" y="157.40" style="font-family:'Liberation Sans',sans-serif;font-size:15.2px;" text-anchor="start" fill="#151515">100</text><line x1="296.50" y1="89.00" x2="299.00" y2="89.00" stroke="#383838" stroke-width="1" /><line x1="296.50" y1="25.50" x2="300.50" y2="25.50" stroke="#383838" stroke-width="1" /><text x="302.70" y="30.40" style="font-family:'Liberation Sans',sans-serif;font-size:15.2px;" text-anchor="start" fill="#151515">110</text><text x="196.70" y="319.30" style="font-family:'Liberation Sans',sans-serif;font-size:15.3px;" text-anchor="middle" fill="#151515" textLength="115.7" lengthAdjust="spacingAndGlyphs">Wavelength (nm)</text><text x="25.00" y="156.50" style="font-family:'Liberation Sans',sans-serif;font-size:15.3px;" text-anchor="middle" fill="#151515" transform="rotate(-90 25.00 156.50)">κ</text><text x="332.00" y="154.50" style="font-family:'Liberation Sans',sans-serif;font-size:15.3px;" text-anchor="middle" fill="#151515" transform="rotate(90 332.00 154.50)">γ (nm)</text><polyline points="73.50,173.28 73.87,173.22 74.24,173.16 74.61,173.10 74.99,173.04 75.36,172.97 75.73,172.91 76.10,172.85 76.47,172.78 76.84,172.72 77.22,172.66 77.59,172.59 77.96,172.53 78.33,172.46 78.70,172.39 79.08,172.33 79.45,172.26 79.82,172.19 80.19,172.13 80.56,172.06 80.93,171.99 81.31,171.92 81.68,171.85 82.05,171.78 82.42,171.71 82.79,171.64 83.16,171.57 83.53,171.50 83.91,171.43 84.28,171.36 84.65,171.29 85.02,171.21 85.39,171.14 85.77,171.07 86.14,170.99 86.51,170.92 86.88,170.84 87.25,170.77 87.62,170.69 88.00,170.61 88.37,170.54 88.74,170.46 89.11,170.38 89.48,170.30 89.85,170.22 90.22,170.14 90.60,170.06 90.97,169.98 91.34,169.90 91.71,169.82 92.08,169.74 92.45,169.66 92.83,169.57 93.20,169.49 93.57,169.40 93.94,169.32 94.31,169.23 94.69,169.15 95.06,169.06 95.43,168.98 95.80,168.89 96.17,168.80 96.54,168.71 96.91,168.62 97.29,168.53 97.66,168.44 98.03,168.35 98.40,168.26 98.77,168.17 99.14,168.07 99.52,167.98 99.89,167.89 100.26,167.79 100.63,167.69 101.00,167.60 101.38,167.50 101.75,167.40 102.12,167.31 102.49,167.21 102.86,167.11 103.23,167.01 103.61,166.91 103.98,166.81 104.35,166.70 104.72,166.60 105.09,166.50 105.46,166.39 105.84,166.29 106.21,166.18 106.58,166.07 106.95,165.97 107.32,165.86 107.69,165.75 108.06,165.64 108.44,165.53 108.81,165.42 109.18,165.30 109.55,165.19 109.92,165.08 110.30,164.96 110.67,164.84 111.04,164.73 111.41,164.61 111.78,164.49 112.15,164.37 112.53,164.25 112.90,164.13 113.27,164.01 113.64,163.89 114.01,163.76 114.38,163.64 114.75,163.51 115.13,163.39 115.50,163.26 115.87,163.13 116.24,163.00 116.61,162.87 116.98,162.74 117.36,162.60 117.73,162.47 118.10,162.33 118.47,162.20 118.84,162.06 119.22,161.92 119.59,161.78 119.96,161.64 120.33,161.50 120.70,161.36 121.07,161.21 121.44,161.07 121.82,160.92 122.19,160.78 122.56,160.63 122.93,160.48 123.30,160.33 123.67,160.17 124.05,160.02 124.42,159.86 124.79,159.71 125.16,159.55 125.53,159.39 125.91,159.23 126.28,159.07 126.65,158.91 127.02,158.74 127.39,158.57 127.76,158.41 128.13,158.24 128.51,158.07 128.88,157.90 129.25,157.72 129.62,157.55 129.99,157.37 130.37,157.19 130.74,157.01 131.11,156.83 131.48,156.65 131.85,156.47 132.22,156.28 132.59,156.09 132.97,155.90 133.34,155.71 133.71,155.52 134.08,155.32 134.45,155.13 134.82,154.93 135.20,154.73 135.57,154.53 135.94,154.32 136.31,154.12 136.68,153.91 137.06,153.70 137.43,153.49 137.80,153.27 138.17,153.06 138.54,152.84 138.91,152.62 139.28,152.40 139.66,152.17 140.03,151.95 140.40,151.72 140.77,151.49 141.14,151.26 141.51,151.02 141.89,150.78 142.26,150.55 142.63,150.30 143.00,150.06 143.37,149.81 143.75,149.56 144.12,149.31 144.49,149.06 144.86,148.80 145.23,148.54 145.60,148.28 145.97,148.02 146.35,147.75 146.72,147.48 147.09,147.21 147.46,146.93 147.83,146.66 148.20,146.38 148.58,146.09 148.95,145.81 149.32,145.52 149.69,145.23 150.06,144.93 150.44,144.63 150.81,144.33 151.18,144.03 151.55,143.72 151.92,143.41 152.29,143.10 152.67,142.78 153.04,142.46 153.41,142.14 153.78,141.82 154.15,141.49 154.52,141.15 154.89,140.82 155.27,140.48 155.64,140.14 156.01,139.79 156.38,139.44 156.75,139.09 157.12,138.74 157.50,138.38 157.87,138.01 158.24,137.65 158.61,137.28 158.98,136.90 159.36,136.53 159.73,136.15 160.10,135.76 160.47,135.38 160.84,134.99 161.21,134.59 161.58,134.19 161.96,133.79 162.33,133.39 162.70,132.98 163.07,132.57 163.44,132.15 163.81,131.73 164.19,131.31 164.56,130.89 164.93,130.46 165.30,130.03 165.67,129.60 166.05,129.16 166.42,128.72 166.79,128.28 167.16,127.83 167.53,127.39 167.90,126.94 168.28,126.48 168.65,126.03 169.02,125.58 169.39,125.12 169.76,124.66 170.13,124.20 170.50,123.74 170.88,123.28 171.25,122.82 171.62,122.36 171.99,121.90 172.36,121.44 172.74,120.98 173.11,120.52 173.48,120.07 173.85,119.62 174.22,119.17 174.59,118.73 174.97,118.29 175.34,117.85 175.71,117.42 176.08,117.00 176.45,116.59 176.82,116.18 177.19,115.79 177.57,115.40 177.94,115.03 178.31,114.67 178.68,114.33 179.05,114.00 179.43,113.68 179.80,113.39 180.17,113.11 180.54,112.86 180.91,112.63 181.28,112.43 181.66,112.25 182.03,112.11 182.40,111.99 182.77,111.91 183.14,111.87 183.51,111.86 183.88,111.90 184.26,111.98 184.63,112.12 185.00,112.30 185.37,112.53 185.74,112.83 186.12,113.18 186.49,113.60 186.86,114.09 187.23,114.65 187.60,115.28 187.97,115.99 188.34,116.79 188.72,117.67 189.09,118.64 189.46,119.71 189.83,120.87 190.20,122.14 190.57,123.51 190.95,124.99 191.32,126.58 191.69,128.28 192.06,130.09 192.43,132.03 192.81,134.08 193.18,136.25 193.55,138.54 193.92,140.95 194.29,143.48 194.66,146.12 195.03,148.88 195.41,151.75 195.78,154.72 196.15,157.80 196.52,160.97 196.89,164.24 197.26,167.58 197.64,171.01 198.01,174.50 198.38,178.05 198.75,181.64 199.12,185.28 199.50,188.94 199.87,192.62 200.24,196.44 200.61,200.47 200.98,204.47 201.35,208.43 201.72,212.34 202.10,216.18 202.47,219.94 202.84,223.61 203.21,227.18 203.58,230.63 203.96,233.96 204.33,237.15 204.70,240.21 205.07,243.12 205.44,245.89 205.81,248.51 206.19,250.98 206.56,253.30 206.93,255.47 207.30,257.50 207.67,259.37 208.04,261.11 208.41,262.70 208.79,264.16 209.16,265.49 209.53,266.70 209.90,267.78 210.27,268.75 210.65,269.61 211.02,270.37 211.39,271.03 211.76,271.59 212.13,272.07 212.50,272.47 212.88,272.79 213.25,273.04 213.62,273.22 213.99,273.34 214.36,273.39 214.73,273.40 215.10,273.36 215.48,273.26 215.85,273.13 216.22,272.96 216.59,272.75 216.96,272.51 217.34,272.23 217.71,271.93 218.08,271.61 218.45,271.26 218.82,270.89 219.19,270.50 219.56,270.10 219.94,269.68 220.31,269.24 220.68,268.80 221.05,268.34 221.42,267.88 221.79,267.41 222.17,266.93 222.54,266.44 222.91,265.95 223.28,265.46 223.65,264.96 224.03,264.46 224.40,263.96 224.77,263.46 225.14,262.95 225.51,262.45 225.88,261.95 226.25,261.44 226.63,260.94 227.00,260.44 227.37,259.95 227.74,259.45 228.11,258.96 228.49,258.47 228.86,257.98 229.23,257.50 229.60,257.02 229.97,256.54 230.34,256.07 230.72,255.60 231.09,255.13 231.46,254.67 231.83,254.21 232.20,253.76 232.57,253.31 232.94,252.87 233.32,252.42 233.69,251.99 234.06,251.56 234.43,251.13 234.80,250.71 235.18,250.29 235.55,249.87 235.92,249.47 236.29,249.06 236.66,248.66 237.03,248.26 237.41,247.87 237.78,247.48 238.15,247.10 238.52,246.72 238.89,246.35 239.26,245.98 239.63,245.61 240.01,245.25 240.38,244.89 240.75,244.54 241.12,244.19 241.49,243.84 241.87,243.50 242.24,243.16 242.61,242.83 242.98,242.50 243.35,242.17 243.72,241.85 244.09,241.53 244.47,241.21 244.84,240.90 245.21,240.59 245.58,240.29 245.95,239.99 246.32,239.69 246.70,239.39 247.07,239.10 247.44,238.82 247.81,238.53 248.18,238.25 248.56,237.97 248.93,237.70 249.30,237.43 249.67,237.16 250.04,236.89 250.41,236.63 250.78,236.37 251.16,236.11 251.53,235.86 251.90,235.61 252.27,235.36 252.64,235.11 253.01,234.87 253.39,234.63 253.76,234.39 254.13,234.15 254.50,233.92 254.87,233.69 255.25,233.46 255.62,233.24 255.99,233.01 256.36,232.79 256.73,232.58 257.10,232.36 257.48,232.15 257.85,231.93 258.22,231.72 258.59,231.52 258.96,231.31 259.33,231.11 259.71,230.91 260.08,230.71 260.45,230.51 260.82,230.32 261.19,230.13 261.56,229.93 261.94,229.75 262.31,229.56 262.68,229.37 263.05,229.19 263.42,229.01 263.79,228.83 264.16,228.65 264.54,228.47 264.91,228.30 265.28,228.13 265.65,227.96 266.02,227.79 266.39,227.62 266.77,227.45 267.14,227.29 267.51,227.13 267.88,226.96 268.25,226.80 268.62,226.65 269.00,226.49 269.37,226.33 269.74,226.18 270.11,226.03 270.48,225.87 270.86,225.72 271.23,225.58 271.60,225.43 271.97,225.28 272.34,225.14 272.71,225.00 273.09,224.85 273.46,224.71 273.83,224.57 274.20,224.44 274.57,224.30 274.94,224.16 275.31,224.03 275.69,223.90 276.06,223.76 276.43,223.63 276.80,223.50 277.17,223.37 277.54,223.25 277.92,223.12 278.29,222.99 278.66,222.87 279.03,222.75 279.40,222.62 279.77,222.50 280.15,222.38 280.52,222.26 280.89,222.14 281.26,222.03 281.63,221.91 282.00,221.80 282.38,221.68 282.75,221.57 283.12,221.45 283.49,221.34 283.86,221.23 284.24,221.12 284.61,221.01 284.98,220.91 285.35,220.80 285.72,220.69 286.09,220.59 286.47,220.48 286.84,220.38 287.21,220.27 287.58,220.17 287.95,220.07 288.32,219.97 288.69,219.87 289.07,219.77 289.44,219.67 289.81,219.57 290.18,219.48 290.55,219.38 290.93,219.29 291.30,219.19 291.67,219.10 292.04,219.00 292.41,218.91 292.78,218.82 293.15,218.73 293.53,218.64 293.90,218.55 294.27,218.46 294.64,218.37 295.01,218.28 295.38,218.19 295.76,218.11 296.13,218.02 296.50,217.94" fill="none" stroke="#2a2a2a" stroke-width="1.1" stroke-linejoin="round" /><polyline points="73.50,192.13 73.87,192.12 74.24,192.10 74.61,192.08 74.99,192.07 75.36,192.05 75.73,192.04 76.10,192.02 76.47,192.00 76.84,191.99 77.22,191.97 77.59,191.95 77.96,191.93 78.33,191.92 78.70,191.90 79.08,191.88 79.45,191.86 79.82,191.85 80.19,191.83 80.56,191.81 80.93,191.79 81.31,191.77 81.68,191.75 82.05,191.73 82.42,191.71 82.79,191.70 83.16,191.68 83.53,191.66 83.91,191.64 84.28,191.62 84.65,191.60 85.02,191.58 85.39,191.55 85.77,191.53 86.14,191.51 86.51,191.49 86.88,191.47 87.25,191.45 87.62,191.43 88.00,191.40 88.37,191.38 88.74,191.36 89.11,191.34 89.48,191.31 89.85,191.29 90.22,191.27 90.60,191.24 90.97,191.22 91.34,191.19 91.71,191.17 92.08,191.15 92.45,191.12 92.83,191.10 93.20,191.07 93.57,191.04 93.94,191.02 94.31,190.99 94.69,190.97 95.06,190.94 95.43,190.91 95.80,190.88 96.17,190.86 96.54,190.83 96.91,190.80 97.29,190.77 97.66,190.74 98.03,190.71 98.40,190.69 98.77,190.66 99.14,190.63 99.52,190.60 99.89,190.56 100.26,190.53 100.63,190.50 101.00,190.47 101.38,190.44 101.75,190.41 102.12,190.37 102.49,190.34 102.86,190.31 103.23,190.27 103.61,190.24 103.98,190.20 104.35,190.17 104.72,190.13 105.09,190.10 105.46,190.06 105.84,190.03 106.21,189.99 106.58,189.95 106.95,189.91 107.32,189.88 107.69,189.84 108.06,189.80 108.44,189.76 108.81,189.72 109.18,189.68 109.55,189.64 109.92,189.60 110.30,189.55 110.67,189.51 111.04,189.47 111.41,189.42 111.78,189.38 112.15,189.34 112.53,189.29 112.90,189.24 113.27,189.20 113.64,189.15 114.01,189.10 114.38,189.06 114.75,189.01 115.13,188.96 115.50,188.91 115.87,188.86 116.24,188.81 116.61,188.76 116.98,188.70 117.36,188.65 117.73,188.60 118.10,188.54 118.47,188.49 118.84,188.43 119.22,188.37 119.59,188.32 119.96,188.26 120.33,188.20 120.70,188.14 121.07,188.08 121.44,188.02 121.82,187.96 122.19,187.89 122.56,187.83 122.93,187.77 123.30,187.70 123.67,187.63 124.05,187.57 124.42,187.50 124.79,187.43 125.16,187.36 125.53,187.29 125.91,187.22 126.28,187.14 126.65,187.07 127.02,186.99 127.39,186.92 127.76,186.84 128.13,186.76 128.51,186.68 128.88,186.60 129.25,186.52 129.62,186.44 129.99,186.35 130.37,186.27 130.74,186.18 131.11,186.09 131.48,186.00 131.85,185.91 132.22,185.82 132.59,185.72 132.97,185.63 133.34,185.53 133.71,185.43 134.08,185.33 134.45,185.23 134.82,185.13 135.20,185.02 135.57,184.92 135.94,184.81 136.31,184.70 136.68,184.59 137.06,184.48 137.43,184.36 137.80,184.24 138.17,184.13 138.54,184.00 138.91,183.88 139.28,183.76 139.66,183.63 140.03,183.50 140.40,183.37 140.77,183.24 141.14,183.10 141.51,182.96 141.89,182.82 142.26,182.68 142.63,182.53 143.00,182.39 143.37,182.23 143.75,182.08 144.12,181.93 144.49,181.77 144.86,181.60 145.23,181.44 145.60,181.27 145.97,181.10 146.35,180.93 146.72,180.75 147.09,180.57 147.46,180.39 147.83,180.20 148.20,180.01 148.58,179.82 148.95,179.62 149.32,179.42 149.69,179.21 150.06,179.00 150.44,178.79 150.81,178.57 151.18,178.35 151.55,178.12 151.92,177.89 152.29,177.65 152.67,177.41 153.04,177.17 153.41,176.92 153.78,176.66 154.15,176.40 154.52,176.14 154.89,175.86 155.27,175.59 155.64,175.30 156.01,175.01 156.38,174.72 156.75,174.42 157.12,174.11 157.50,173.80 157.87,173.47 158.24,173.15 158.61,172.81 158.98,172.47 159.36,172.12 159.73,171.76 160.10,171.39 160.47,171.01 160.84,170.63 161.21,170.24 161.58,169.84 161.96,169.43 162.33,169.01 162.70,168.58 163.07,168.14 163.44,167.69 163.81,167.23 164.19,166.75 164.56,166.27 164.93,165.77 165.30,165.27 165.67,164.75 166.05,164.22 166.42,163.67 166.79,163.11 167.16,162.54 167.53,161.95 167.90,161.35 168.28,160.74 168.65,160.10 169.02,159.46 169.39,158.79 169.76,158.11 170.13,157.41 170.50,156.69 170.88,155.96 171.25,155.20 171.62,154.43 171.99,153.63 172.36,152.82 172.74,151.98 173.11,151.12 173.48,150.24 173.85,149.34 174.22,148.41 174.59,147.46 174.97,146.48 175.34,145.47 175.71,144.44 176.08,143.38 176.45,142.30 176.82,141.18 177.19,140.04 177.57,138.86 177.94,137.65 178.31,136.42 178.68,135.15 179.05,133.84 179.43,132.50 179.80,131.13 180.17,129.73 180.54,128.28 180.91,126.80 181.28,125.29 181.66,123.73 182.03,122.14 182.40,120.51 182.77,118.84 183.14,117.14 183.51,115.39 183.88,113.61 184.26,111.78 184.63,109.92 185.00,108.02 185.37,106.08 185.74,104.11 186.12,102.10 186.49,100.05 186.86,97.97 187.23,95.86 187.60,93.72 187.97,91.56 188.34,89.36 188.72,87.15 189.09,84.91 189.46,82.66 189.83,80.40 190.20,78.13 190.57,75.86 190.95,73.59 191.32,71.32 191.69,69.07 192.06,66.84 192.43,64.64 192.81,62.46 193.18,60.33 193.55,58.25 193.92,56.22 194.29,54.25 194.66,52.35 195.03,50.53 195.41,48.80 195.78,47.17 196.15,45.63 196.52,44.21 196.89,42.90 197.26,41.72 197.64,40.67 198.01,39.75 198.38,38.98 198.75,38.35 199.12,37.88 199.50,37.55 199.87,37.38 200.24,37.37 200.61,37.51 200.98,37.80 201.35,38.25 201.72,38.84 202.10,39.59 202.47,40.48 202.84,41.50 203.21,42.66 203.58,43.94 203.96,45.34 204.33,46.85 204.70,48.47 205.07,50.18 205.44,51.98 205.81,53.86 206.19,55.82 206.56,57.84 206.93,59.91 207.30,62.03 207.67,64.20 208.04,66.40 208.41,68.63 208.79,70.87 209.16,73.13 209.53,75.40 209.90,77.68 210.27,79.95 210.65,82.21 211.02,84.46 211.39,86.70 211.76,88.92 212.13,91.12 212.50,93.29 212.88,95.44 213.25,97.55 213.62,99.64 213.99,101.69 214.36,103.71 214.73,105.69 215.10,107.64 215.48,109.54 215.85,111.41 216.22,113.24 216.59,115.04 216.96,116.79 217.34,118.50 217.71,120.18 218.08,121.82 218.45,123.42 218.82,124.98 219.19,126.50 219.56,127.99 219.94,129.44 220.31,130.85 220.68,132.23 221.05,133.58 221.42,134.89 221.79,136.16 222.17,137.41 222.54,138.62 222.91,139.80 223.28,140.95 223.65,142.08 224.03,143.17 224.40,144.23 224.77,145.27 225.14,146.28 225.51,147.26 225.88,148.22 226.25,149.15 226.63,150.06 227.00,150.95 227.37,151.81 227.74,152.65 228.11,153.47 228.49,154.27 228.86,155.05 229.23,155.81 229.60,156.55 229.97,157.27 230.34,157.97 230.72,158.66 231.09,159.32 231.46,159.97 231.83,160.61 232.20,161.23 232.57,161.83 232.94,162.42 233.32,163.00 233.69,163.56 234.06,164.11 234.43,164.64 234.80,165.16 235.18,165.67 235.55,166.17 235.92,166.66 236.29,167.13 236.66,167.59 237.03,168.05 237.41,168.49 237.78,168.92 238.15,169.34 238.52,169.76 238.89,170.16 239.26,170.55 239.63,170.94 240.01,171.32 240.38,171.68 240.75,172.04 241.12,172.40 241.49,172.74 241.87,173.08 242.24,173.41 242.61,173.73 242.98,174.05 243.35,174.36 243.72,174.66 244.09,174.96 244.47,175.25 244.84,175.53 245.21,175.81 245.58,176.08 245.95,176.35 246.32,176.61 246.70,176.87 247.07,177.12 247.44,177.37 247.81,177.61 248.18,177.84 248.56,178.08 248.93,178.30 249.30,178.53 249.67,178.74 250.04,178.96 250.41,179.17 250.78,179.38 251.16,179.58 251.53,179.78 251.90,179.97 252.27,180.16 252.64,180.35 253.01,180.53 253.39,180.72 253.76,180.89 254.13,181.07 254.50,181.24 254.87,181.41 255.25,181.57 255.62,181.73 255.99,181.89 256.36,182.05 256.73,182.20 257.10,182.36 257.48,182.50 257.85,182.65 258.22,182.79 258.59,182.93 258.96,183.07 259.33,183.21 259.71,183.34 260.08,183.47 260.45,183.60 260.82,183.73 261.19,183.86 261.56,183.98 261.94,184.10 262.31,184.22 262.68,184.34 263.05,184.45 263.42,184.57 263.79,184.68 264.16,184.79 264.54,184.90 264.91,185.00 265.28,185.11 265.65,185.21 266.02,185.31 266.39,185.41 266.77,185.51 267.14,185.61 267.51,185.70 267.88,185.80 268.25,185.89 268.62,185.98 269.00,186.07 269.37,186.16 269.74,186.25 270.11,186.33 270.48,186.42 270.86,186.50 271.23,186.58 271.60,186.67 271.97,186.75 272.34,186.82 272.71,186.90 273.09,186.98 273.46,187.05 273.83,187.13 274.20,187.20 274.57,187.27 274.94,187.35 275.31,187.42 275.69,187.48 276.06,187.55 276.43,187.62 276.80,187.69 277.17,187.75 277.54,187.82 277.92,187.88 278.29,187.94 278.66,188.01 279.03,188.07 279.40,188.13 279.77,188.19 280.15,188.25 280.52,188.31 280.89,188.36 281.26,188.42 281.63,188.48 282.00,188.53 282.38,188.59 282.75,188.64 283.12,188.69 283.49,188.75 283.86,188.80 284.24,188.85 284.61,188.90 284.98,188.95 285.35,189.00 285.72,189.05 286.09,189.09 286.47,189.14 286.84,189.19 287.21,189.24 287.58,189.28 287.95,189.33 288.32,189.37 288.69,189.42 289.07,189.46 289.44,189.50 289.81,189.54 290.18,189.59 290.55,189.63 290.93,189.67 291.30,189.71 291.67,189.75 292.04,189.79 292.41,189.83 292.78,189.87 293.15,189.91 293.53,189.94 293.90,189.98 294.27,190.02 294.64,190.06 295.01,190.09 295.38,190.13 295.76,190.16 296.13,190.20 296.50,190.23" fill="none" stroke="#5a55d0" stroke-width="1.2" stroke-linejoin="round" /><line x1="73.50" y1="151.60" x2="296.50" y2="151.60" stroke="#222" stroke-width="1.1" stroke-dasharray="4.2,3.2"/><line x1="217.00" y1="39.30" x2="251.50" y2="39.30" stroke="#2a2a2a" stroke-width="1.1" /><line x1="217.00" y1="59.60" x2="251.50" y2="59.60" stroke="#5a55d0" stroke-width="1.2" /><line x1="217.00" y1="79.30" x2="251.50" y2="79.30" stroke="#222" stroke-width="1.1" stroke-dasharray="4.2,3.2"/><text x="256.50" y="44.80" style="font-family:'Liberation Sans',sans-serif;font-size:15.2px;" text-anchor="start" fill="#151515">Re(κ)</text><text x="256.50" y="65.10" style="font-family:'Liberation Sans',sans-serif;font-size:15.2px;" text-anchor="start" fill="#151515">Im(κ)</text><text x="256.50" y="84.00" style="font-family:'Liberation Sans',sans-serif;font-size:15.2px;" text-anchor="start" fill="#151515">γ</text><text x="375.50" y="21.00" style="font-family:'Liberation Sans',sans-serif;font-size:19.5px;" text-anchor="start" fill="#151515">(b)</text><polyline points="448.10,254.30 449.66,254.30 451.23,254.30 452.79,254.30 454.36,254.30 455.92,254.30 457.48,254.30 459.05,254.30 460.61,254.30 462.18,254.30 463.74,254.30 465.30,254.30 466.87,254.30 468.43,254.30 470.00,254.30 471.56,254.30 473.12,254.30 474.69,254.30 476.25,254.30 477.82,254.30 479.38,254.30 480.94,254.30 482.51,254.30 484.07,254.30 485.64,254.30 487.20,254.30 488.76,254.30 490.33,254.30 491.89,254.30 493.46,254.30 495.02,254.30 496.58,254.30 498.15,254.30 499.71,254.30 501.28,254.30 502.84,254.30 504.40,254.30 505.97,254.30 507.53,254.30 509.10,254.30 510.66,254.30 512.22,254.30 513.79,254.30 515.35,254.30 516.92,254.30 518.48,254.30 520.04,254.30 521.61,254.30 523.17,254.30 524.74,254.30 526.30,254.30 527.86,254.30 529.43,254.30 530.99,254.30 532.56,254.30 534.12,254.30 535.68,254.30 537.25,254.30 538.81,254.30 540.38,254.30 541.94,254.30 543.50,254.30 545.07,254.30 546.63,254.30 548.20,254.30 549.76,254.30 551.32,254.30 552.89,254.30 554.45,254.30 556.02,254.30 557.58,254.30 559.14,254.30 560.71,254.30 562.27,254.30 563.84,254.30 565.40,254.30 566.96,254.30 568.53,254.30 570.09,254.30 571.66,254.30 573.22,254.30 574.78,254.30 576.35,254.30 577.91,254.30 579.48,254.30 581.04,254.30 582.60,254.30 584.17,254.30 585.73,254.30 587.30,254.30 588.86,254.30 590.42,254.30 591.99,254.30 593.55,254.30 595.12,254.30 596.68,254.30 598.24,254.30 599.81,254.30 601.37,254.30 602.94,254.30 604.50,254.30 606.06,254.30 607.63,254.30 609.19,254.30 610.76,254.30 612.32,254.30 613.88,254.30 615.45,254.30 617.01,254.30 618.58,254.30 620.14,254.30 621.70,254.30 623.27,254.30 624.83,254.30 626.40,254.30 627.96,254.30 629.52,254.30 631.09,254.30 632.65,254.30 634.22,254.30 635.78,254.30 637.34,254.30 638.91,254.30 640.47,254.30 642.04,254.30 643.60,254.30 645.16,254.30 646.73,254.30 648.29,254.30 649.86,254.30 651.42,254.30 652.98,254.30 654.55,254.30 656.11,254.30 657.68,254.30 659.24,254.30 660.80,254.30 662.37,254.30 663.93,254.30 665.50,254.30 667.06,254.30 668.62,254.30 670.19,254.30 671.75,254.30 673.32,254.30 674.88,254.30 676.44,254.30 678.01,254.30 679.57,254.30 681.14,254.30 682.70,254.30" fill="none" stroke="rgb(150,150,150)" stroke-width="1.0" stroke-linejoin="round" /><rect x="446.10" y="252.30" width="4.00" height="4.00" fill="white" stroke="rgb(150,150,150)" stroke-width="0.9"/><rect x="447.66" y="252.30" width="4.00" height="4.00" fill="white" stroke="rgb(150,150,150)" stroke-width="0.9"/><rect x="449.23" y="252.30" width="4.00" height="4.00" fill="white" stroke="rgb(150,150,150)" stroke-width="0.9"/><rect x="450.79" y="252.30" width="4.00" height="4.00" fill="white" stroke="rgb(150,150,150)" stroke-width="0.9"/><rect x="452.36" y="252.30" width="4.00" height="4.00" fill="white" stroke="rgb(150,150,150)" stroke-width="0.9"/><rect x="453.92" y="252.30" width="4.00" height="4.00" fill="white" stroke="rgb(150,150,150)" stroke-width="0.9"/><rect x="455.48" y="252.30" width="4.00" height="4.00" fill="white" stroke="rgb(150,150,150)" stroke-width="0.9"/><rect x="457.05" y="252.30" width="4.00" height="4.00" fill="white" stroke="rgb(150,150,150)" stroke-width="0.9"/><rect x="458.61" y="252.30" width="4.00" height="4.00" fill="white" stroke="rgb(150,150,150)" stroke-width="0.9"/><rect x="460.18" y="252.30" width="4.00" height="4.00" fill="white" stroke="rgb(150,150,150)" stroke-width="0.9"/><rect x="461.74" y="252.30" width="4.00" height="4.00" fill="white" stroke="rgb(150,150,150)" stroke-width="0.9"/><rect x="463.30" y="252.30" width="4.00" height="4.00" fill="white" stroke="rgb(150,150,150)" stroke-width="0.9"/><rect x="464.87" y="252.30" width="4.00" height="4.00" fill="white" stroke="rgb(150,150,150)" stroke-width="0.9"/><rect x="466.43" y="252.30" width="4.00" height="4.00" fill="white" stroke="rgb(150,150,150)" stroke-width="0.9"/><rect x="468.00" y="252.30" width="4.00" height="4.00" fill="white" stroke="rgb(150,150,150)" stroke-width="0.9"/><rect x="469.56" y="252.30" width="4.00" height="4.00" fill="white" stroke="rgb(150,150,150)" stroke-width="0.9"/><rect x="471.12" y="252.30" width="4.00" height="4.00" fill="white" stroke="rgb(150,150,150)" stroke-width="0.9"/><rect x="472.69" y="252.30" width="4.00" height="4.00" fill="white" stroke="rgb(150,150,150)" stroke-width="0.9"/><rect x="474.25" y="252.30" width="4.00" height="4.00" fill="white" stroke="rgb(150,150,150)" stroke-width="0.9"/><rect x="475.82" y="252.30" width="4.00" height="4.00" fill="white" stroke="rgb(150,150,150)" stroke-width="0.9"/><rect x="477.38" y="252.30" width="4.00" height="4.00" fill="white" stroke="rgb(150,150,150)" stroke-width="0.9"/><rect x="478.94" y="252.30" width="4.00" height="4.00" fill="white" stroke="rgb(150,150,150)" stroke-width="0.9"/><rect x="480.51" y="252.30" width="4.00" height="4.00" fill="white" stroke="rgb(150,150,150)" stroke-width="0.9"/><rect x="482.07" y="252.30" width="4.00" height="4.00" fill="white" stroke="rgb(150,150,150)" stroke-width="0.9"/><rect x="483.64" y="252.30" width="4.00" height="4.00" fill="white" stroke="rgb(150,150,150)" stroke-width="0.9"/><rect x="485.20" y="252.30" width="4.00" height="4.00" fill="white" stroke="rgb(150,150,150)" stroke-width="0.9"/><rect x="486.76" y="252.30" width="4.00" height="4.00" fill="white" stroke="rgb(150,150,150)" stroke-width="0.9"/><rect x="488.33" y="252.30" width="4.00" height="4.00" fill="white" stroke="rgb(150,150,150)" stroke-width="0.9"/><rect x="489.89" y="252.30" width="4.00" height="4.00" fill="white" stroke="rgb(150,150,150)" stroke-width="0.9"/><rect x="491.46" y="252.30" width="4.00" height="4.00" fill="white" stroke="rgb(150,150,150)" stroke-width="0.9"/><rect x="493.02" y="252.30" width="4.00" height="4.00" fill="white" stroke="rgb(150,150,150)" stroke-width="0.9"/><rect x="494.58" y="252.30" width="4.00" height="4.00" fill="white" stroke="rgb(150,150,150)" stroke-width="0.9"/><rect x="496.15" y="252.30" width="4.00" height="4.00" fill="white" stroke="rgb(150,150,150)" stroke-width="0.9"/><rect x="497.71" y="252.30" width="4.00" height="4.00" fill="white" stroke="rgb(150,150,150)" stroke-width="0.9"/><rect x="499.28" y="252.30" width="4.00" height="4.00" fill="white" stroke="rgb(150,150,150)" stroke-width="0.9"/><rect x="500.84" y="252.30" width="4.00" height="4.00" fill="white" stroke="rgb(150,150,150)" stroke-width="0.9"/><rect x="502.40" y="252.30" width="4.00" height="4.00" fill="white" stroke="rgb(150,150,150)" stroke-width="0.9"/><rect x="503.97" y="252.30" width="4.00" height="4.00" fill="white" stroke="rgb(150,150,150)" stroke-width="0.9"/><rect x="505.53" y="252.30" width="4.00" height="4.00" fill="white" stroke="rgb(150,150,150)" stroke-width="0.9"/><rect x="507.10" y="252.30" width="4.00" height="4.00" fill="white" stroke="rgb(150,150,150)" stroke-width="0.9"/><rect x="508.66" y="252.30" width="4.00" height="4.00" fill="white" stroke="rgb(150,150,150)" stroke-width="0.9"/><rect x="510.22" y="252.30" width="4.00" height="4.00" fill="white" stroke="rgb(150,150,150)" stroke-width="0.9"/><rect x="511.79" y="252.30" width="4.00" height="4.00" fill="white" stroke="rgb(150,150,150)" stroke-width="0.9"/><rect x="513.35" y="252.30" width="4.00" height="4.00" fill="white" stroke="rgb(150,150,150)" stroke-width="0.9"/><rect x="514.92" y="252.30" width="4.00" height="4.00" fill="white" stroke="rgb(150,150,150)" stroke-width="0.9"/><rect x="516.48" y="252.30" width="4.00" height="4.00" fill="white" stroke="rgb(150,150,150)" stroke-width="0.9"/><rect x="518.04" y="252.30" width="4.00" height="4.00" fill="white" stroke="rgb(150,150,150)" stroke-width="0.9"/><rect x="519.61" y="252.30" width="4.00" height="4.00" fill="white" stroke="rgb(150,150,150)" stroke-width="0.9"/><rect x="521.17" y="252.30" width="4.00" height="4.00" fill="white" stroke="rgb(150,150,150)" stroke-width="0.9"/><rect x="522.74" y="252.30" width="4.00" height="4.00" fill="white" stroke="rgb(150,150,150)" stroke-width="0.9"/><rect x="524.30" y="252.30" width="4.00" height="4.00" fill="white" stroke="rgb(150,150,150)" stroke-width="0.9"/><rect x="525.86" y="252.30" width="4.00" height="4.00" fill="white" stroke="rgb(150,150,150)" stroke-width="0.9"/><rect x="527.43" y="252.30" width="4.00" height="4.00" fill="white" stroke="rgb(150,150,150)" stroke-width="0.9"/><rect x="528.99" y="252.30" width="4.00" height="4.00" fill="white" stroke="rgb(150,150,150)" stroke-width="0.9"/><rect x="530.56" y="252.30" width="4.00" height="4.00" fill="white" stroke="rgb(150,150,150)" stroke-width="0.9"/><rect x="532.12" y="252.30" width="4.00" height="4.00" fill="white" stroke="rgb(150,150,150)" stroke-width="0.9"/><rect x="533.68" y="252.30" width="4.00" height="4.00" fill="white" stroke="rgb(150,150,150)" stroke-width="0.9"/><rect x="535.25" y="252.30" width="4.00" height="4.00" fill="white" stroke="rgb(150,150,150)" stroke-width="0.9"/><rect x="536.81" y="252.30" width="4.00" height="4.00" fill="white" stroke="rgb(150,150,150)" stroke-width="0.9"/><rect x="538.38" y="252.30" width="4.00" height="4.00" fill="white" stroke="rgb(150,150,150)" stroke-width="0.9"/><rect x="539.94" y="252.30" width="4.00" height="4.00" fill="white" stroke="rgb(150,150,150)" stroke-width="0.9"/><rect x="541.50" y="252.30" width="4.00" height="4.00" fill="white" stroke="rgb(150,150,150)" stroke-width="0.9"/><rect x="543.07" y="252.30" width="4.00" height="4.00" fill="white" stroke="rgb(150,150,150)" stroke-width="0.9"/><rect x="544.63" y="252.30" width="4.00" height="4.00" fill="white" stroke="rgb(150,150,150)" stroke-width="0.9"/><rect x="546.20" y="252.30" width="4.00" height="4.00" fill="white" stroke="rgb(150,150,150)" stroke-width="0.9"/><rect x="547.76" y="252.30" width="4.00" height="4.00" fill="white" stroke="rgb(150,150,150)" stroke-width="0.9"/><rect x="549.32" y="252.30" width="4.00" height="4.00" fill="white" stroke="rgb(150,150,150)" stroke-width="0.9"/><rect x="550.89" y="252.30" width="4.00" height="4.00" fill="white" stroke="rgb(150,150,150)" stroke-width="0.9"/><rect x="552.45" y="252.30" width="4.00" height="4.00" fill="white" stroke="rgb(150,150,150)" stroke-width="0.9"/><rect x="554.02" y="252.30" width="4.00" height="4.00" fill="white" stroke="rgb(150,150,150)" stroke-width="0.9"/><rect x="555.58" y="252.30" width="4.00" height="4.00" fill="white" stroke="rgb(150,150,150)" stroke-width="0.9"/><rect x="557.14" y="252.30" width="4.00" height="4.00" fill="white" stroke="rgb(150,150,150)" stroke-width="0.9"/><rect x="558.71" y="252.30" width="4.00" height="4.00" fill="white" stroke="rgb(150,150,150)" stroke-width="0.9"/><rect x="560.27" y="252.30" width="4.00" height="4.00" fill="white" stroke="rgb(150,150,150)" stroke-width="0.9"/><rect x="561.84" y="252.30" width="4.00" height="4.00" fill="white" stroke="rgb(150,150,150)" stroke-width="0.9"/><rect x="563.40" y="252.30" width="4.00" height="4.00" fill="white" stroke="rgb(150,150,150)" stroke-width="0.9"/><rect x="564.96" y="252.30" width="4.00" height="4.00" fill="white" stroke="rgb(150,150,150)" stroke-width="0.9"/><rect x="566.53" y="252.30" width="4.00" height="4.00" fill="white" stroke="rgb(150,150,150)" stroke-width="0.9"/><rect x="568.09" y="252.30" width="4.00" height="4.00" fill="white" stroke="rgb(150,150,150)" stroke-width="0.9"/><rect x="569.66" y="252.30" width="4.00" height="4.00" fill="white" stroke="rgb(150,150,150)" stroke-width="0.9"/><rect x="571.22" y="252.30" width="4.00" height="4.00" fill="white" stroke="rgb(150,150,150)" stroke-width="0.9"/><rect x="572.78" y="252.30" width="4.00" height="4.00" fill="white" stroke="rgb(150,150,150)" stroke-width="0.9"/><rect x="574.35" y="252.30" width="4.00" height="4.00" fill="white" stroke="rgb(150,150,150)" stroke-width="0.9"/><rect x="575.91" y="252.30" width="4.00" height="4.00" fill="white" stroke="rgb(150,150,150)" stroke-width="0.9"/><rect x="577.48" y="252.30" width="4.00" height="4.00" fill="white" stroke="rgb(150,150,150)" stroke-width="0.9"/><rect x="579.04" y="252.30" width="4.00" height="4.00" fill="white" stroke="rgb(150,150,150)" stroke-width="0.9"/><rect x="580.60" y="252.30" width="4.00" height="4.00" fill="white" stroke="rgb(150,150,150)" stroke-width="0.9"/><rect x="582.17" y="252.30" width="4.00" height="4.00" fill="white" stroke="rgb(150,150,150)" stroke-width="0.9"/><rect x="583.73" y="252.30" width="4.00" height="4.00" fill="white" stroke="rgb(150,150,150)" stroke-width="0.9"/><rect x="585.30" y="252.30" width="4.00" height="4.00" fill="white" stroke="rgb(150,150,150)" stroke-width="0.9"/><rect x="586.86" y="252.30" width="4.00" height="4.00" fill="white" stroke="rgb(150,150,150)" stroke-width="0.9"/><rect x="588.42" y="252.30" width="4.00" height="4.00" fill="white" stroke="rgb(150,150,150)" stroke-width="0.9"/><rect x="589.99" y="252.30" width="4.00" height="4.00" fill="white" stroke="rgb(150,150,150)" stroke-width="0.9"/><rect x="591.55" y="252.30" width="4.00" height="4.00" fill="white" stroke="rgb(150,150,150)" stroke-width="0.9"/><rect x="593.12" y="252.30" width="4.00" height="4.00" fill="white" stroke="rgb(150,150,150)" stroke-width="0.9"/><rect x="594.68" y="252.30" width="4.00" height="4.00" fill="white" stroke="rgb(150,150,150)" stroke-width="0.9"/><rect x="596.24" y="252.30" width="4.00" height="4.00" fill="white" stroke="rgb(150,150,150)" stroke-width="0.9"/><rect x="597.81" y="252.30" width="4.00" height="4.00" fill="white" stroke="rgb(150,150,150)" stroke-width="0.9"/><rect x="599.37" y="252.30" width="4.00" height="4.00" fill="white" stroke="rgb(150,150,150)" stroke-width="0.9"/><rect x="600.94" y="252.30" width="4.00" height="4.00" fill="white" stroke="rgb(150,150,150)" stroke-width="0.9"/><rect x="602.50" y="252.30" width="4.00" height="4.00" fill="white" stroke="rgb(150,150,150)" stroke-width="0.9"/><rect x="604.06" y="252.30" width="4.00" height="4.00" fill="white" stroke="rgb(150,150,150)" stroke-width="0.9"/><rect x="605.63" y="252.30" width="4.00" height="4.00" fill="white" stroke="rgb(150,150,150)" stroke-width="0.9"/><rect x="607.19" y="252.30" width="4.00" height="4.00" fill="white" stroke="rgb(150,150,150)" stroke-width="0.9"/><rect x="608.76" y="252.30" width="4.00" height="4.00" fill="white" stroke="rgb(150,150,150)" stroke-width="0.9"/><rect x="610.32" y="252.30" width="4.00" height="4.00" fill="white" stroke="rgb(150,150,150)" stroke-width="0.9"/><rect x="611.88" y="252.30" width="4.00" height="4.00" fill="white" stroke="rgb(150,150,150)" stroke-width="0.9"/><rect x="613.45" y="252.30" width="4.00" height="4.00" fill="white" stroke="rgb(150,150,150)" stroke-width="0.9"/><rect x="615.01" y="252.30" width="4.00" height="4.00" fill="white" stroke="rgb(150,150,150)" stroke-width="0.9"/><rect x="616.58" y="252.30" width="4.00" height="4.00" fill="white" stroke="rgb(150,150,150)" stroke-width="0.9"/><rect x="618.14" y="252.30" width="4.00" height="4.00" fill="white" stroke="rgb(150,150,150)" stroke-width="0.9"/><rect x="619.70" y="252.30" width="4.00" height="4.00" fill="white" stroke="rgb(150,150,150)" stroke-width="0.9"/><rect x="621.27" y="252.30" width="4.00" height="4.00" fill="white" stroke="rgb(150,150,150)" stroke-width="0.9"/><rect x="622.83" y="252.30" width="4.00" height="4.00" fill="white" stroke="rgb(150,150,150)" stroke-width="0.9"/><rect x="624.40" y="252.30" width="4.00" height="4.00" fill="white" stroke="rgb(150,150,150)" stroke-width="0.9"/><rect x="625.96" y="252.30" width="4.00" height="4.00" fill="white" stroke="rgb(150,150,150)" stroke-width="0.9"/><rect x="627.52" y="252.30" width="4.00" height="4.00" fill="white" stroke="rgb(150,150,150)" stroke-width="0.9"/><rect x="629.09" y="252.30" width="4.00" height="4.00" fill="white" stroke="rgb(150,150,150)" stroke-width="0.9"/><rect x="630.65" y="252.30" width="4.00" height="4.00" fill="white" stroke="rgb(150,150,150)" stroke-width="0.9"/><rect x="632.22" y="252.30" width="4.00" height="4.00" fill="white" stroke="rgb(150,150,150)" stroke-width="0.9"/><rect x="633.78" y="252.30" width="4.00" height="4.00" fill="white" stroke="rgb(150,150,150)" stroke-width="0.9"/><rect x="635.34" y="252.30" width="4.00" height="4.00" fill="white" stroke="rgb(150,150,150)" stroke-width="0.9"/><rect x="636.91" y="252.30" width="4.00" height="4.00" fill="white" stroke="rgb(150,150,150)" stroke-width="0.9"/><rect x="638.47" y="252.30" width="4.00" height="4.00" fill="white" stroke="rgb(150,150,150)" stroke-width="0.9"/><rect x="640.04" y="252.30" width="4.00" height="4.00" fill="white" stroke="rgb(150,150,150)" stroke-width="0.9"/><rect x="641.60" y="252.30" width="4.00" height="4.00" fill="white" stroke="rgb(150,150,150)" stroke-width="0.9"/><rect x="643.16" y="252.30" width="4.00" height="4.00" fill="white" stroke="rgb(150,150,150)" stroke-width="0.9"/><rect x="644.73" y="252.30" width="4.00" height="4.00" fill="white" stroke="rgb(150,150,150)" stroke-width="0.9"/><rect x="646.29" y="252.30" width="4.00" height="4.00" fill="white" stroke="rgb(150,150,150)" stroke-width="0.9"/><rect x="647.86" y="252.30" width="4.00" height="4.00" fill="white" stroke="rgb(150,150,150)" stroke-width="0.9"/><rect x="649.42" y="252.30" width="4.00" height="4.00" fill="white" stroke="rgb(150,150,150)" stroke-width="0.9"/><rect x="650.98" y="252.30" width="4.00" height="4.00" fill="white" stroke="rgb(150,150,150)" stroke-width="0.9"/><rect x="652.55" y="252.30" width="4.00" height="4.00" fill="white" stroke="rgb(150,150,150)" stroke-width="0.9"/><rect x="654.11" y="252.30" width="4.00" height="4.00" fill="white" stroke="rgb(150,150,150)" stroke-width="0.9"/><rect x="655.68" y="252.30" width="4.00" height="4.00" fill="white" stroke="rgb(150,150,150)" stroke-width="0.9"/><rect x="657.24" y="252.30" width="4.00" height="4.00" fill="white" stroke="rgb(150,150,150)" stroke-width="0.9"/><rect x="658.80" y="252.30" width="4.00" height="4.00" fill="white" stroke="rgb(150,150,150)" stroke-width="0.9"/><rect x="660.37" y="252.30" width="4.00" height="4.00" fill="white" stroke="rgb(150,150,150)" stroke-width="0.9"/><rect x="661.93" y="252.30" width="4.00" height="4.00" fill="white" stroke="rgb(150,150,150)" stroke-width="0.9"/><rect x="663.50" y="252.30" width="4.00" height="4.00" fill="white" stroke="rgb(150,150,150)" stroke-width="0.9"/><rect x="665.06" y="252.30" width="4.00" height="4.00" fill="white" stroke="rgb(150,150,150)" stroke-width="0.9"/><rect x="666.62" y="252.30" width="4.00" height="4.00" fill="white" stroke="rgb(150,150,150)" stroke-width="0.9"/><rect x="668.19" y="252.30" width="4.00" height="4.00" fill="white" stroke="rgb(150,150,150)" stroke-width="0.9"/><rect x="669.75" y="252.30" width="4.00" height="4.00" fill="white" stroke="rgb(150,150,150)" stroke-width="0.9"/><rect x="671.32" y="252.30" width="4.00" height="4.00" fill="white" stroke="rgb(150,150,150)" stroke-width="0.9"/><rect x="672.88" y="252.30" width="4.00" height="4.00" fill="white" stroke="rgb(150,150,150)" stroke-width="0.9"/><rect x="674.44" y="252.30" width="4.00" height="4.00" fill="white" stroke="rgb(150,150,150)" stroke-width="0.9"/><rect x="676.01" y="252.30" width="4.00" height="4.00" fill="white" stroke="rgb(150,150,150)" stroke-width="0.9"/><rect x="677.57" y="252.30" width="4.00" height="4.00" fill="white" stroke="rgb(150,150,150)" stroke-width="0.9"/><rect x="679.14" y="252.30" width="4.00" height="4.00" fill="white" stroke="rgb(150,150,150)" stroke-width="0.9"/><rect x="680.70" y="252.30" width="4.00" height="4.00" fill="white" stroke="rgb(150,150,150)" stroke-width="0.9"/><polyline points="448.10,253.15 449.66,253.12 451.23,253.09 452.79,253.06 454.36,253.03 455.92,253.00 457.48,252.97 459.05,252.94 460.61,252.90 462.18,252.87 463.74,252.83 465.30,252.79 466.87,252.75 468.43,252.71 470.00,252.67 471.56,252.62 473.12,252.57 474.69,252.52 476.25,252.47 477.82,252.42 479.38,252.36 480.94,252.31 482.51,252.25 484.07,252.18 485.64,252.12 487.20,252.05 488.76,251.98 490.33,251.90 491.89,251.82 493.46,251.74 495.02,251.65 496.58,251.56 498.15,251.46 499.71,251.36 501.28,251.25 502.84,251.14 504.40,251.02 505.97,250.89 507.53,250.76 509.10,250.62 510.66,250.47 512.22,250.31 513.79,250.14 515.35,249.97 516.92,249.78 518.48,249.58 520.04,249.36 521.61,249.13 523.17,248.89 524.74,248.63 526.30,248.35 527.86,248.05 529.43,247.73 530.99,247.39 532.56,247.02 534.12,246.62 535.68,246.19 537.25,245.72 538.81,245.22 540.38,244.68 541.94,244.09 543.50,243.45 545.07,242.75 546.63,241.99 548.20,241.16 549.76,240.24 551.32,239.24 552.89,238.13 554.45,236.91 556.02,235.54 557.58,234.02 559.14,232.31 560.71,230.38 562.27,228.16 563.84,225.59 565.40,222.59 566.96,219.00 568.53,214.66 570.09,209.32 571.66,202.67 573.22,194.41 574.78,184.39 576.35,173.10 577.91,162.34 579.48,155.43 581.04,155.43 582.60,162.34 584.17,173.10 585.73,184.39 587.30,194.41 588.86,202.67 590.42,209.32 591.99,214.66 593.55,219.00 595.12,222.59 596.68,225.59 598.24,228.16 599.81,230.38 601.37,232.31 602.94,234.02 604.50,235.54 606.06,236.91 607.63,238.13 609.19,239.24 610.76,240.24 612.32,241.16 613.88,241.99 615.45,242.75 617.01,243.45 618.58,244.09 620.14,244.68 621.70,245.22 623.27,245.72 624.83,246.19 626.40,246.62 627.96,247.02 629.52,247.39 631.09,247.73 632.65,248.05 634.22,248.35 635.78,248.63 637.34,248.89 638.91,249.13 640.47,249.36 642.04,249.58 643.60,249.78 645.16,249.97 646.73,250.14 648.29,250.31 649.86,250.47 651.42,250.62 652.98,250.76 654.55,250.89 656.11,251.02 657.68,251.14 659.24,251.25 660.80,251.36 662.37,251.46 663.93,251.56 665.50,251.65 667.06,251.74 668.62,251.82 670.19,251.90 671.75,251.98 673.32,252.05 674.88,252.12 676.44,252.18 678.01,252.25 679.57,252.31 681.14,252.36 682.70,252.42" fill="none" stroke="rgb(234,108,108)" stroke-width="1.0" stroke-linejoin="round" /><circle cx="448.10" cy="253.15" r="1.90" fill="white" stroke="rgb(234,108,108)" stroke-width="0.9"/><circle cx="449.66" cy="253.12" r="1.90" fill="white" stroke="rgb(234,108,108)" stroke-width="0.9"/><circle cx="451.23" cy="253.09" r="1.90" fill="white" stroke="rgb(234,108,108)" stroke-width="0.9"/><circle cx="452.79" cy="253.06" r="1.90" fill="white" stroke="rgb(234,108,108)" stroke-width="0.9"/><circle cx="454.36" cy="253.03" r="1.90" fill="white" stroke="rgb(234,108,108)" stroke-width="0.9"/><circle cx="455.92" cy="253.00" r="1.90" fill="white" stroke="rgb(234,108,108)" stroke-width="0.9"/><circle cx="457.48" cy="252.97" r="1.90" fill="white" stroke="rgb(234,108,108)" stroke-width="0.9"/><circle cx="459.05" cy="252.94" r="1.90" fill="white" stroke="rgb(234,108,108)" stroke-width="0.9"/><circle cx="460.61" cy="252.90" r="1.90" fill="white" stroke="rgb(234,108,108)" stroke-width="0.9"/><circle cx="462.18" cy="252.87" r="1.90" fill="white" stroke="rgb(234,108,108)" stroke-width="0.9"/><circle cx="463.74" cy="252.83" r="1.90" fill="white" stroke="rgb(234,108,108)" stroke-width="0.9"/><circle cx="465.30" cy="252.79" r="1.90" fill="white" stroke="rgb(234,108,108)" stroke-width="0.9"/><circle cx="466.87" cy="252.75" r="1.90" fill="white" stroke="rgb(234,108,108)" stroke-width="0.9"/><circle cx="468.43" cy="252.71" r="1.90" fill="white" stroke="rgb(234,108,108)" stroke-width="0.9"/><circle cx="470.00" cy="252.67" r="1.90" fill="white" stroke="rgb(234,108,108)" stroke-width="0.9"/><circle cx="471.56" cy="252.62" r="1.90" fill="white" stroke="rgb(234,108,108)" stroke-width="0.9"/><circle cx="473.12" cy="252.57" r="1.90" fill="white" stroke="rgb(234,108,108)" stroke-width="0.9"/><circle cx="474.69" cy="252.52" r="1.90" fill="white" stroke="rgb(234,108,108)" stroke-width="0.9"/><circle cx="476.25" cy="252.47" r="1.90" fill="white" stroke="rgb(234,108,108)" stroke-width="0.9"/><circle cx="477.82" cy="252.42" r="1.90" fill="white" stroke="rgb(234,108,108)" stroke-width="0.9"/><circle cx="479.38" cy="252.36" r="1.90" fill="white" stroke="rgb(234,108,108)" stroke-width="0.9"/><circle cx="480.94" cy="252.31" r="1.90" fill="white" stroke="rgb(234,108,108)" stroke-width="0.9"/><circle cx="482.51" cy="252.25" r="1.90" fill="white" stroke="rgb(234,108,108)" stroke-width="0.9"/><circle cx="484.07" cy="252.18" r="1.90" fill="white" stroke="rgb(234,108,108)" stroke-width="0.9"/><circle cx="485.64" cy="252.12" r="1.90" fill="white" stroke="rgb(234,108,108)" stroke-width="0.9"/><circle cx="487.20" cy="252.05" r="1.90" fill="white" stroke="rgb(234,108,108)" stroke-width="0.9"/><circle cx="488.76" cy="251.98" r="1.90" fill="white" stroke="rgb(234,108,108)" stroke-width="0.9"/><circle cx="490.33" cy="251.90" r="1.90" fill="white" stroke="rgb(234,108,108)" stroke-width="0.9"/><circle cx="491.89" cy="251.82" r="1.90" fill="white" stroke="rgb(234,108,108)" stroke-width="0.9"/><circle cx="493.46" cy="251.74" r="1.90" fill="white" stroke="rgb(234,108,108)" stroke-width="0.9"/><circle cx="495.02" cy="251.65" r="1.90" fill="white" stroke="rgb(234,108,108)" stroke-width="0.9"/><circle cx="496.58" cy="251.56" r="1.90" fill="white" stroke="rgb(234,108,108)" stroke-width="0.9"/><circle cx="498.15" cy="251.46" r="1.90" fill="white" stroke="rgb(234,108,108)" stroke-width="0.9"/><circle cx="499.71" cy="251.36" r="1.90" fill="white" stroke="rgb(234,108,108)" stroke-width="0.9"/><circle cx="501.28" cy="251.25" r="1.90" fill="white" stroke="rgb(234,108,108)" stroke-width="0.9"/><circle cx="502.84" cy="251.14" r="1.90" fill="white" stroke="rgb(234,108,108)" stroke-width="0.9"/><circle cx="504.40" cy="251.02" r="1.90" fill="white" stroke="rgb(234,108,108)" stroke-width="0.9"/><circle cx="505.97" cy="250.89" r="1.90" fill="white" stroke="rgb(234,108,108)" stroke-width="0.9"/><circle cx="507.53" cy="250.76" r="1.90" fill="white" stroke="rgb(234,108,108)" stroke-width="0.9"/><circle cx="509.10" cy="250.62" r="1.90" fill="white" stroke="rgb(234,108,108)" stroke-width="0.9"/><circle cx="510.66" cy="250.47" r="1.90" fill="white" stroke="rgb(234,108,108)" stroke-width="0.9"/><circle cx="512.22" cy="250.31" r="1.90" fill="white" stroke="rgb(234,108,108)" stroke-width="0.9"/><circle cx="513.79" cy="250.14" r="1.90" fill="white" stroke="rgb(234,108,108)" stroke-width="0.9"/><circle cx="515.35" cy="249.97" r="1.90" fill="white" stroke="rgb(234,108,108)" stroke-width="0.9"/><circle cx="516.92" cy="249.78" r="1.90" fill="white" stroke="rgb(234,108,108)" stroke-width="0.9"/><circle cx="518.48" cy="249.58" r="1.90" fill="white" stroke="rgb(234,108,108)" stroke-width="0.9"/><circle cx="520.04" cy="249.36" r="1.90" fill="white" stroke="rgb(234,108,108)" stroke-width="0.9"/><circle cx="521.61" cy="249.13" r="1.90" fill="white" stroke="rgb(234,108,108)" stroke-width="0.9"/><circle cx="523.17" cy="248.89" r="1.90" fill="white" stroke="rgb(234,108,108)" stroke-width="0.9"/><circle cx="524.74" cy="248.63" r="1.90" fill="white" stroke="rgb(234,108,108)" stroke-width="0.9"/><circle cx="526.30" cy="248.35" r="1.90" fill="white" stroke="rgb(234,108,108)" stroke-width="0.9"/><circle cx="527.86" cy="248.05" r="1.90" fill="white" stroke="rgb(234,108,108)" stroke-width="0.9"/><circle cx="529.43" cy="247.73" r="1.90" fill="white" stroke="rgb(234,108,108)" stroke-width="0.9"/><circle cx="530.99" cy="247.39" r="1.90" fill="white" stroke="rgb(234,108,108)" stroke-width="0.9"/><circle cx="532.56" cy="247.02" r="1.90" fill="white" stroke="rgb(234,108,108)" stroke-width="0.9"/><circle cx="534.12" cy="246.62" r="1.90" fill="white" stroke="rgb(234,108,108)" stroke-width="0.9"/><circle cx="535.68" cy="246.19" r="1.90" fill="white" stroke="rgb(234,108,108)" stroke-width="0.9"/><circle cx="537.25" cy="245.72" r="1.90" fill="white" stroke="rgb(234,108,108)" stroke-width="0.9"/><circle cx="538.81" cy="245.22" r="1.90" fill="white" stroke="rgb(234,108,108)" stroke-width="0.9"/><circle cx="540.38" cy="244.68" r="1.90" fill="white" stroke="rgb(234,108,108)" stroke-width="0.9"/><circle cx="541.94" cy="244.09" r="1.90" fill="white" stroke="rgb(234,108,108)" stroke-width="0.9"/><circle cx="543.50" cy="243.45" r="1.90" fill="white" stroke="rgb(234,108,108)" stroke-width="0.9"/><circle cx="545.07" cy="242.75" r="1.90" fill="white" stroke="rgb(234,108,108)" stroke-width="0.9"/><circle cx="546.63" cy="241.99" r="1.90" fill="white" stroke="rgb(234,108,108)" stroke-width="0.9"/><circle cx="548.20" cy="241.16" r="1.90" fill="white" stroke="rgb(234,108,108)" stroke-width="0.9"/><circle cx="549.76" cy="240.24" r="1.90" fill="white" stroke="rgb(234,108,108)" stroke-width="0.9"/><circle cx="551.32" cy="239.24" r="1.90" fill="white" stroke="rgb(234,108,108)" stroke-width="0.9"/><circle cx="552.89" cy="238.13" r="1.90" fill="white" stroke="rgb(234,108,108)" stroke-width="0.9"/><circle cx="554.45" cy="236.91" r="1.90" fill="white" stroke="rgb(234,108,108)" stroke-width="0.9"/><circle cx="556.02" cy="235.54" r="1.90" fill="white" stroke="rgb(234,108,108)" stroke-width="0.9"/><circle cx="557.58" cy="234.02" r="1.90" fill="white" stroke="rgb(234,108,108)" stroke-width="0.9"/><circle cx="559.14" cy="232.31" r="1.90" fill="white" stroke="rgb(234,108,108)" stroke-width="0.9"/><circle cx="560.71" cy="230.38" r="1.90" fill="white" stroke="rgb(234,108,108)" stroke-width="0.9"/><circle cx="562.27" cy="228.16" r="1.90" fill="white" stroke="rgb(234,108,108)" stroke-width="0.9"/><circle cx="563.84" cy="225.59" r="1.90" fill="white" stroke="rgb(234,108,108)" stroke-width="0.9"/><circle cx="565.40" cy="222.59" r="1.90" fill="white" stroke="rgb(234,108,108)" stroke-width="0.9"/><circle cx="566.96" cy="219.00" r="1.90" fill="white" stroke="rgb(234,108,108)" stroke-width="0.9"/><circle cx="568.53" cy="214.66" r="1.90" fill="white" stroke="rgb(234,108,108)" stroke-width="0.9"/><circle cx="570.09" cy="209.32" r="1.90" fill="white" stroke="rgb(234,108,108)" stroke-width="0.9"/><circle cx="571.66" cy="202.67" r="1.90" fill="white" stroke="rgb(234,108,108)" stroke-width="0.9"/><circle cx="573.22" cy="194.41" r="1.90" fill="white" stroke="rgb(234,108,108)" stroke-width="0.9"/><circle cx="574.78" cy="184.39" r="1.90" fill="white" stroke="rgb(234,108,108)" stroke-width="0.9"/><circle cx="576.35" cy="173.10" r="1.90" fill="white" stroke="rgb(234,108,108)" stroke-width="0.9"/><circle cx="577.91" cy="162.34" r="1.90" fill="white" stroke="rgb(234,108,108)" stroke-width="0.9"/><circle cx="579.48" cy="155.43" r="1.90" fill="white" stroke="rgb(234,108,108)" stroke-width="0.9"/><circle cx="581.04" cy="155.43" r="1.90" fill="white" stroke="rgb(234,108,108)" stroke-width="0.9"/><circle cx="582.60" cy="162.34" r="1.90" fill="white" stroke="rgb(234,108,108)" stroke-width="0.9"/><circle cx="584.17" cy="173.10" r="1.90" fill="white" stroke="rgb(234,108,108)" stroke-width="0.9"/><circle cx="585.73" cy="184.39" r="1.90" fill="white" stroke="rgb(234,108,108)" stroke-width="0.9"/><circle cx="587.30" cy="194.41" r="1.90" fill="white" stroke="rgb(234,108,108)" stroke-width="0.9"/><circle cx="588.86" cy="202.67" r="1.90" fill="white" stroke="rgb(234,108,108)" stroke-width="0.9"/><circle cx="590.42" cy="209.32" r="1.90" fill="white" stroke="rgb(234,108,108)" stroke-width="0.9"/><circle cx="591.99" cy="214.66" r="1.90" fill="white" stroke="rgb(234,108,108)" stroke-width="0.9"/><circle cx="593.55" cy="219.00" r="1.90" fill="white" stroke="rgb(234,108,108)" stroke-width="0.9"/><circle cx="595.12" cy="222.59" r="1.90" fill="white" stroke="rgb(234,108,108)" stroke-width="0.9"/><circle cx="596.68" cy="225.59" r="1.90" fill="white" stroke="rgb(234,108,108)" stroke-width="0.9"/><circle cx="598.24" cy="228.16" r="1.90" fill="white" stroke="rgb(234,108,108)" stroke-width="0.9"/><circle cx="599.81" cy="230.38" r="1.90" fill="white" stroke="rgb(234,108,108)" stroke-width="0.9"/><circle cx="601.37" cy="232.31" r="1.90" fill="white" stroke="rgb(234,108,108)" stroke-width="0.9"/><circle cx="602.94" cy="234.02" r="1.90" fill="white" stroke="rgb(234,108,108)" stroke-width="0.9"/><circle cx="604.50" cy="235.54" r="1.90" fill="white" stroke="rgb(234,108,108)" stroke-width="0.9"/><circle cx="606.06" cy="236.91" r="1.90" fill="white" stroke="rgb(234,108,108)" stroke-width="0.9"/><circle cx="607.63" cy="238.13" r="1.90" fill="white" stroke="rgb(234,108,108)" stroke-width="0.9"/><circle cx="609.19" cy="239.24" r="1.90" fill="white" stroke="rgb(234,108,108)" stroke-width="0.9"/><circle cx="610.76" cy="240.24" r="1.90" fill="white" stroke="rgb(234,108,108)" stroke-width="0.9"/><circle cx="612.32" cy="241.16" r="1.90" fill="white" stroke="rgb(234,108,108)" stroke-width="0.9"/><circle cx="613.88" cy="241.99" r="1.90" fill="white" stroke="rgb(234,108,108)" stroke-width="0.9"/><circle cx="615.45" cy="242.75" r="1.90" fill="white" stroke="rgb(234,108,108)" stroke-width="0.9"/><circle cx="617.01" cy="243.45" r="1.90" fill="white" stroke="rgb(234,108,108)" stroke-width="0.9"/><circle cx="618.58" cy="244.09" r="1.90" fill="white" stroke="rgb(234,108,108)" stroke-width="0.9"/><circle cx="620.14" cy="244.68" r="1.90" fill="white" stroke="rgb(234,108,108)" stroke-width="0.9"/><circle cx="621.70" cy="245.22" r="1.90" fill="white" stroke="rgb(234,108,108)" stroke-width="0.9"/><circle cx="623.27" cy="245.72" r="1.90" fill="white" stroke="rgb(234,108,108)" stroke-width="0.9"/><circle cx="624.83" cy="246.19" r="1.90" fill="white" stroke="rgb(234,108,108)" stroke-width="0.9"/><circle cx="626.40" cy="246.62" r="1.90" fill="white" stroke="rgb(234,108,108)" stroke-width="0.9"/><circle cx="627.96" cy="247.02" r="1.90" fill="white" stroke="rgb(234,108,108)" stroke-width="0.9"/><circle cx="629.52" cy="247.39" r="1.90" fill="white" stroke="rgb(234,108,108)" stroke-width="0.9"/><circle cx="631.09" cy="247.73" r="1.90" fill="white" stroke="rgb(234,108,108)" stroke-width="0.9"/><circle cx="632.65" cy="248.05" r="1.90" fill="white" stroke="rgb(234,108,108)" stroke-width="0.9"/><circle cx="634.22" cy="248.35" r="1.90" fill="white" stroke="rgb(234,108,108)" stroke-width="0.9"/><circle cx="635.78" cy="248.63" r="1.90" fill="white" stroke="rgb(234,108,108)" stroke-width="0.9"/><circle cx="637.34" cy="248.89" r="1.90" fill="white" stroke="rgb(234,108,108)" stroke-width="0.9"/><circle cx="638.91" cy="249.13" r="1.90" fill="white" stroke="rgb(234,108,108)" stroke-width="0.9"/><circle cx="640.47" cy="249.36" r="1.90" fill="white" stroke="rgb(234,108,108)" stroke-width="0.9"/><circle cx="642.04" cy="249.58" r="1.90" fill="white" stroke="rgb(234,108,108)" stroke-width="0.9"/><circle cx="643.60" cy="249.78" r="1.90" fill="white" stroke="rgb(234,108,108)" stroke-width="0.9"/><circle cx="645.16" cy="249.97" r="1.90" fill="white" stroke="rgb(234,108,108)" stroke-width="0.9"/><circle cx="646.73" cy="250.14" r="1.90" fill="white" stroke="rgb(234,108,108)" stroke-width="0.9"/><circle cx="648.29" cy="250.31" r="1.90" fill="white" stroke="rgb(234,108,108)" stroke-width="0.9"/><circle cx="649.86" cy="250.47" r="1.90" fill="white" stroke="rgb(234,108,108)" stroke-width="0.9"/><circle cx="651.42" cy="250.62" r="1.90" fill="white" stroke="rgb(234,108,108)" stroke-width="0.9"/><circle cx="652.98" cy="250.76" r="1.90" fill="white" stroke="rgb(234,108,108)" stroke-width="0.9"/><circle cx="654.55" cy="250.89" r="1.90" fill="white" stroke="rgb(234,108,108)" stroke-width="0.9"/><circle cx="656.11" cy="251.02" r="1.90" fill="white" stroke="rgb(234,108,108)" stroke-width="0.9"/><circle cx="657.68" cy="251.14" r="1.90" fill="white" stroke="rgb(234,108,108)" stroke-width="0.9"/><circle cx="659.24" cy="251.25" r="1.90" fill="white" stroke="rgb(234,108,108)" stroke-width="0.9"/><circle cx="660.80" cy="251.36" r="1.90" fill="white" stroke="rgb(234,108,108)" stroke-width="0.9"/><circle cx="662.37" cy="251.46" r="1.90" fill="white" stroke="rgb(234,108,108)" stroke-width="0.9"/><circle cx="663.93" cy="251.56" r="1.90" fill="white" stroke="rgb(234,108,108)" stroke-width="0.9"/><circle cx="665.50" cy="251.65" r="1.90" fill="white" stroke="rgb(234,108,108)" stroke-width="0.9"/><circle cx="667.06" cy="251.74" r="1.90" fill="white" stroke="rgb(234,108,108)" stroke-width="0.9"/><circle cx="668.62" cy="251.82" r="1.90" fill="white" stroke="rgb(234,108,108)" stroke-width="0.9"/><circle cx="670.19" cy="251.90" r="1.90" fill="white" stroke="rgb(234,108,108)" stroke-width="0.9"/><circle cx="671.75" cy="251.98" r="1.90" fill="white" stroke="rgb(234,108,108)" stroke-width="0.9"/><circle cx="673.32" cy="252.05" r="1.90" fill="white" stroke="rgb(234,108,108)" stroke-width="0.9"/><circle cx="674.88" cy="252.12" r="1.90" fill="white" stroke="rgb(234,108,108)" stroke-width="0.9"/><circle cx="676.44" cy="252.18" r="1.90" fill="white" stroke="rgb(234,108,108)" stroke-width="0.9"/><circle cx="678.01" cy="252.25" r="1.90" fill="white" stroke="rgb(234,108,108)" stroke-width="0.9"/><circle cx="679.57" cy="252.31" r="1.90" fill="white" stroke="rgb(234,108,108)" stroke-width="0.9"/><circle cx="681.14" cy="252.36" r="1.90" fill="white" stroke="rgb(234,108,108)" stroke-width="0.9"/><circle cx="682.70" cy="252.42" r="1.90" fill="white" stroke="rgb(234,108,108)" stroke-width="0.9"/><polyline points="448.10,253.98 449.66,253.98 451.23,253.97 452.79,253.96 454.36,253.95 455.92,253.94 457.48,253.93 459.05,253.92 460.61,253.91 462.18,253.90 463.74,253.89 465.30,253.88 466.87,253.87 468.43,253.86 470.00,253.84 471.56,253.83 473.12,253.82 474.69,253.80 476.25,253.79 477.82,253.77 479.38,253.75 480.94,253.74 482.51,253.72 484.07,253.70 485.64,253.68 487.20,253.66 488.76,253.64 490.33,253.61 491.89,253.59 493.46,253.56 495.02,253.54 496.58,253.51 498.15,253.48 499.71,253.44 501.28,253.41 502.84,253.37 504.40,253.33 505.97,253.29 507.53,253.25 509.10,253.20 510.66,253.15 512.22,253.10 513.79,253.04 515.35,252.98 516.92,252.91 518.48,252.84 520.04,252.76 521.61,252.68 523.17,252.59 524.74,252.49 526.30,252.39 527.86,252.27 529.43,252.14 530.99,252.00 532.56,251.85 534.12,251.68 535.68,251.49 537.25,251.28 538.81,251.05 540.38,250.79 541.94,250.50 543.50,250.17 545.07,249.80 546.63,249.37 548.20,248.88 549.76,248.31 551.32,247.66 552.89,246.88 554.45,245.97 556.02,244.88 557.58,243.57 559.14,241.97 560.71,239.99 562.27,237.50 563.84,234.34 565.40,230.24 566.96,224.80 568.53,217.45 570.09,207.27 571.66,192.86 573.22,172.21 574.78,142.92 576.35,104.23 577.91,63.44 579.48,41.78 581.04,56.73 582.60,95.76 584.17,135.87 585.73,167.12 587.30,189.31 588.86,204.78 590.42,215.68 591.99,223.51 593.55,229.27 595.12,233.61 596.68,236.93 598.24,239.53 599.81,241.60 601.37,243.27 602.94,244.64 604.50,245.77 606.06,246.71 607.63,247.51 609.19,248.19 610.76,248.77 612.32,249.28 613.88,249.72 615.45,250.10 617.01,250.44 618.58,250.74 620.14,251.00 621.70,251.24 623.27,251.45 624.83,251.64 626.40,251.82 627.96,251.97 629.52,252.11 631.09,252.24 632.65,252.36 634.22,252.47 635.78,252.57 637.34,252.66 638.91,252.75 640.47,252.83 642.04,252.90 643.60,252.97 645.16,253.03 646.73,253.09 648.29,253.14 649.86,253.19 651.42,253.24 652.98,253.28 654.55,253.33 656.11,253.36 657.68,253.40 659.24,253.44 660.80,253.47 662.37,253.50 663.93,253.53 665.50,253.56 667.06,253.58 668.62,253.61 670.19,253.63 671.75,253.65 673.32,253.68 674.88,253.70 676.44,253.72 678.01,253.73 679.57,253.75 681.14,253.77 682.70,253.78" fill="none" stroke="rgb(78,134,222)" stroke-width="1.0" stroke-linejoin="round" /><path d="M448.10,251.08 L450.60,255.78 L445.60,255.78 Z" fill="white" stroke="rgb(78,134,222)" stroke-width="0.9"/><path d="M449.66,251.08 L452.16,255.78 L447.16,255.78 Z" fill="white" stroke="rgb(78,134,222)" stroke-width="0.9"/><path d="M451.23,251.07 L453.73,255.77 L448.73,255.77 Z" fill="white" stroke="rgb(78,134,222)" stroke-width="0.9"/><path d="M452.79,251.06 L455.29,255.76 L450.29,255.76 Z" fill="white" stroke="rgb(78,134,222)" stroke-width="0.9"/><path d="M454.36,251.05 L456.86,255.75 L451.86,255.75 Z" fill="white" stroke="rgb(78,134,222)" stroke-width="0.9"/><path d="M455.92,251.04 L458.42,255.74 L453.42,255.74 Z" fill="white" stroke="rgb(78,134,222)" stroke-width="0.9"/><path d="M457.48,251.03 L459.98,255.73 L454.98,255.73 Z" fill="white" stroke="rgb(78,134,222)" stroke-width="0.9"/><path d="M459.05,251.02 L461.55,255.72 L456.55,255.72 Z" fill="white" stroke="rgb(78,134,222)" stroke-width="0.9"/><path d="M460.61,251.01 L463.11,255.71 L458.11,255.71 Z" fill="white" stroke="rgb(78,134,222)" stroke-width="0.9"/><path d="M462.18,251.00 L464.68,255.70 L459.68,255.70 Z" fill="white" stroke="rgb(78,134,222)" stroke-width="0.9"/><path d="M463.74,250.99 L466.24,255.69 L461.24,255.69 Z" fill="white" stroke="rgb(78,134,222)" stroke-width="0.9"/><path d="M465.30,250.98 L467.80,255.68 L462.80,255.68 Z" fill="white" stroke="rgb(78,134,222)" stroke-width="0.9"/><path d="M466.87,250.97 L469.37,255.67 L464.37,255.67 Z" fill="white" stroke="rgb(78,134,222)" stroke-width="0.9"/><path d="M468.43,250.96 L470.93,255.66 L465.93,255.66 Z" fill="white" stroke="rgb(78,134,222)" stroke-width="0.9"/><path d="M470.00,250.94 L472.50,255.64 L467.50,255.64 Z" fill="white" stroke="rgb(78,134,222)" stroke-width="0.9"/><path d="M471.56,250.93 L474.06,255.63 L469.06,255.63 Z" fill="white" stroke="rgb(78,134,222)" stroke-width="0.9"/><path d="M473.12,250.92 L475.62,255.62 L470.62,255.62 Z" fill="white" stroke="rgb(78,134,222)" stroke-width="0.9"/><path d="M474.69,250.90 L477.19,255.60 L472.19,255.60 Z" fill="white" stroke="rgb(78,134,222)" stroke-width="0.9"/><path d="M476.25,250.89 L478.75,255.59 L473.75,255.59 Z" fill="white" stroke="rgb(78,134,222)" stroke-width="0.9"/><path d="M477.82,250.87 L480.32,255.57 L475.32,255.57 Z" fill="white" stroke="rgb(78,134,222)" stroke-width="0.9"/><path d="M479.38,250.85 L481.88,255.55 L476.88,255.55 Z" fill="white" stroke="rgb(78,134,222)" stroke-width="0.9"/><path d="M480.94,250.84 L483.44,255.54 L478.44,255.54 Z" fill="white" stroke="rgb(78,134,222)" stroke-width="0.9"/><path d="M482.51,250.82 L485.01,255.52 L480.01,255.52 Z" fill="white" stroke="rgb(78,134,222)" stroke-width="0.9"/><path d="M484.07,250.80 L486.57,255.50 L481.57,255.50 Z" fill="white" stroke="rgb(78,134,222)" stroke-width="0.9"/><path d="M485.64,250.78 L488.14,255.48 L483.14,255.48 Z" fill="white" stroke="rgb(78,134,222)" stroke-width="0.9"/><path d="M487.20,250.76 L489.70,255.46 L484.70,255.46 Z" fill="white" stroke="rgb(78,134,222)" stroke-width="0.9"/><path d="M488.76,250.74 L491.26,255.44 L486.26,255.44 Z" fill="white" stroke="rgb(78,134,222)" stroke-width="0.9"/><path d="M490.33,250.71 L492.83,255.41 L487.83,255.41 Z" fill="white" stroke="rgb(78,134,222)" stroke-width="0.9"/><path d="M491.89,250.69 L494.39,255.39 L489.39,255.39 Z" fill="white" stroke="rgb(78,134,222)" stroke-width="0.9"/><path d="M493.46,250.66 L495.96,255.36 L490.96,255.36 Z" fill="white" stroke="rgb(78,134,222)" stroke-width="0.9"/><path d="M495.02,250.64 L497.52,255.34 L492.52,255.34 Z" fill="white" stroke="rgb(78,134,222)" stroke-width="0.9"/><path d="M496.58,250.61 L499.08,255.31 L494.08,255.31 Z" fill="white" stroke="rgb(78,134,222)" stroke-width="0.9"/><path d="M498.15,250.58 L500.65,255.28 L495.65,255.28 Z" fill="white" stroke="rgb(78,134,222)" stroke-width="0.9"/><path d="M499.71,250.54 L502.21,255.24 L497.21,255.24 Z" fill="white" stroke="rgb(78,134,222)" stroke-width="0.9"/><path d="M501.28,250.51 L503.78,255.21 L498.78,255.21 Z" fill="white" stroke="rgb(78,134,222)" stroke-width="0.9"/><path d="M502.84,250.47 L505.34,255.17 L500.34,255.17 Z" fill="white" stroke="rgb(78,134,222)" stroke-width="0.9"/><path d="M504.40,250.43 L506.90,255.13 L501.90,255.13 Z" fill="white" stroke="rgb(78,134,222)" stroke-width="0.9"/><path d="M505.97,250.39 L508.47,255.09 L503.47,255.09 Z" fill="white" stroke="rgb(78,134,222)" stroke-width="0.9"/><path d="M507.53,250.35 L510.03,255.05 L505.03,255.05 Z" fill="white" stroke="rgb(78,134,222)" stroke-width="0.9"/><path d="M509.10,250.30 L511.60,255.00 L506.60,255.00 Z" fill="white" stroke="rgb(78,134,222)" stroke-width="0.9"/><path d="M510.66,250.25 L513.16,254.95 L508.16,254.95 Z" fill="white" stroke="rgb(78,134,222)" stroke-width="0.9"/><path d="M512.22,250.20 L514.72,254.90 L509.72,254.90 Z" fill="white" stroke="rgb(78,134,222)" stroke-width="0.9"/><path d="M513.79,250.14 L516.29,254.84 L511.29,254.84 Z" fill="white" stroke="rgb(78,134,222)" stroke-width="0.9"/><path d="M515.35,250.08 L517.85,254.78 L512.85,254.78 Z" fill="white" stroke="rgb(78,134,222)" stroke-width="0.9"/><path d="M516.92,250.01 L519.42,254.71 L514.42,254.71 Z" fill="white" stroke="rgb(78,134,222)" stroke-width="0.9"/><path d="M518.48,249.94 L520.98,254.64 L515.98,254.64 Z" fill="white" stroke="rgb(78,134,222)" stroke-width="0.9"/><path d="M520.04,249.86 L522.54,254.56 L517.54,254.56 Z" fill="white" stroke="rgb(78,134,222)" stroke-width="0.9"/><path d="M521.61,249.78 L524.11,254.48 L519.11,254.48 Z" fill="white" stroke="rgb(78,134,222)" stroke-width="0.9"/><path d="M523.17,249.69 L525.67,254.39 L520.67,254.39 Z" fill="white" stroke="rgb(78,134,222)" stroke-width="0.9"/><path d="M524.74,249.59 L527.24,254.29 L522.24,254.29 Z" fill="white" stroke="rgb(78,134,222)" stroke-width="0.9"/><path d="M526.30,249.49 L528.80,254.19 L523.80,254.19 Z" fill="white" stroke="rgb(78,134,222)" stroke-width="0.9"/><path d="M527.86,249.37 L530.36,254.07 L525.36,254.07 Z" fill="white" stroke="rgb(78,134,222)" stroke-width="0.9"/><path d="M529.43,249.24 L531.93,253.94 L526.93,253.94 Z" fill="white" stroke="rgb(78,134,222)" stroke-width="0.9"/><path d="M530.99,249.10 L533.49,253.80 L528.49,253.80 Z" fill="white" stroke="rgb(78,134,222)" stroke-width="0.9"/><path d="M532.56,248.95 L535.06,253.65 L530.06,253.65 Z" fill="white" stroke="rgb(78,134,222)" stroke-width="0.9"/><path d="M534.12,248.78 L536.62,253.48 L531.62,253.48 Z" fill="white" stroke="rgb(78,134,222)" stroke-width="0.9"/><path d="M535.68,248.59 L538.18,253.29 L533.18,253.29 Z" fill="white" stroke="rgb(78,134,222)" stroke-width="0.9"/><path d="M537.25,248.38 L539.75,253.08 L534.75,253.08 Z" fill="white" stroke="rgb(78,134,222)" stroke-width="0.9"/><path d="M538.81,248.15 L541.31,252.85 L536.31,252.85 Z" fill="white" stroke="rgb(78,134,222)" stroke-width="0.9"/><path d="M540.38,247.89 L542.88,252.59 L537.88,252.59 Z" fill="white" stroke="rgb(78,134,222)" stroke-width="0.9"/><path d="M541.94,247.60 L544.44,252.30 L539.44,252.30 Z" fill="white" stroke="rgb(78,134,222)" stroke-width="0.9"/><path d="M543.50,247.27 L546.00,251.97 L541.00,251.97 Z" fill="white" stroke="rgb(78,134,222)" stroke-width="0.9"/><path d="M545.07,246.90 L547.57,251.60 L542.57,251.60 Z" fill="white" stroke="rgb(78,134,222)" stroke-width="0.9"/><path d="M546.63,246.47 L549.13,251.17 L544.13,251.17 Z" fill="white" stroke="rgb(78,134,222)" stroke-width="0.9"/><path d="M548.20,245.98 L550.70,250.68 L545.70,250.68 Z" fill="white" stroke="rgb(78,134,222)" stroke-width="0.9"/><path d="M549.76,245.41 L552.26,250.11 L547.26,250.11 Z" fill="white" stroke="rgb(78,134,222)" stroke-width="0.9"/><path d="M551.32,244.76 L553.82,249.46 L548.82,249.46 Z" fill="white" stroke="rgb(78,134,222)" stroke-width="0.9"/><path d="M552.89,243.98 L555.39,248.68 L550.39,248.68 Z" fill="white" stroke="rgb(78,134,222)" stroke-width="0.9"/><path d="M554.45,243.07 L556.95,247.77 L551.95,247.77 Z" fill="white" stroke="rgb(78,134,222)" stroke-width="0.9"/><path d="M556.02,241.98 L558.52,246.68 L553.52,246.68 Z" fill="white" stroke="rgb(78,134,222)" stroke-width="0.9"/><path d="M557.58,240.67 L560.08,245.37 L555.08,245.37 Z" fill="white" stroke="rgb(78,134,222)" stroke-width="0.9"/><path d="M559.14,239.07 L561.64,243.77 L556.64,243.77 Z" fill="white" stroke="rgb(78,134,222)" stroke-width="0.9"/><path d="M560.71,237.09 L563.21,241.79 L558.21,241.79 Z" fill="white" stroke="rgb(78,134,222)" stroke-width="0.9"/><path d="M562.27,234.60 L564.77,239.30 L559.77,239.30 Z" fill="white" stroke="rgb(78,134,222)" stroke-width="0.9"/><path d="M563.84,231.44 L566.34,236.14 L561.34,236.14 Z" fill="white" stroke="rgb(78,134,222)" stroke-width="0.9"/><path d="M565.40,227.34 L567.90,232.04 L562.90,232.04 Z" fill="white" stroke="rgb(78,134,222)" stroke-width="0.9"/><path d="M566.96,221.90 L569.46,226.60 L564.46,226.60 Z" fill="white" stroke="rgb(78,134,222)" stroke-width="0.9"/><path d="M568.53,214.55 L571.03,219.25 L566.03,219.25 Z" fill="white" stroke="rgb(78,134,222)" stroke-width="0.9"/><path d="M570.09,204.37 L572.59,209.07 L567.59,209.07 Z" fill="white" stroke="rgb(78,134,222)" stroke-width="0.9"/><path d="M571.66,189.96 L574.16,194.66 L569.16,194.66 Z" fill="white" stroke="rgb(78,134,222)" stroke-width="0.9"/><path d="M573.22,169.31 L575.72,174.01 L570.72,174.01 Z" fill="white" stroke="rgb(78,134,222)" stroke-width="0.9"/><path d="M574.78,140.02 L577.28,144.72 L572.28,144.72 Z" fill="white" stroke="rgb(78,134,222)" stroke-width="0.9"/><path d="M576.35,101.33 L578.85,106.03 L573.85,106.03 Z" fill="white" stroke="rgb(78,134,222)" stroke-width="0.9"/><path d="M577.91,60.54 L580.41,65.24 L575.41,65.24 Z" fill="white" stroke="rgb(78,134,222)" stroke-width="0.9"/><path d="M579.48,38.88 L581.98,43.58 L576.98,43.58 Z" fill="white" stroke="rgb(78,134,222)" stroke-width="0.9"/><path d="M581.04,53.83 L583.54,58.53 L578.54,58.53 Z" fill="white" stroke="rgb(78,134,222)" stroke-width="0.9"/><path d="M582.60,92.86 L585.10,97.56 L580.10,97.56 Z" fill="white" stroke="rgb(78,134,222)" stroke-width="0.9"/><path d="M584.17,132.97 L586.67,137.67 L581.67,137.67 Z" fill="white" stroke="rgb(78,134,222)" stroke-width="0.9"/><path d="M585.73,164.22 L588.23,168.92 L583.23,168.92 Z" fill="white" stroke="rgb(78,134,222)" stroke-width="0.9"/><path d="M587.30,186.41 L589.80,191.11 L584.80,191.11 Z" fill="white" stroke="rgb(78,134,222)" stroke-width="0.9"/><path d="M588.86,201.88 L591.36,206.58 L586.36,206.58 Z" fill="white" stroke="rgb(78,134,222)" stroke-width="0.9"/><path d="M590.42,212.78 L592.92,217.48 L587.92,217.48 Z" fill="white" stroke="rgb(78,134,222)" stroke-width="0.9"/><path d="M591.99,220.61 L594.49,225.31 L589.49,225.31 Z" fill="white" stroke="rgb(78,134,222)" stroke-width="0.9"/><path d="M593.55,226.37 L596.05,231.07 L591.05,231.07 Z" fill="white" stroke="rgb(78,134,222)" stroke-width="0.9"/><path d="M595.12,230.71 L597.62,235.41 L592.62,235.41 Z" fill="white" stroke="rgb(78,134,222)" stroke-width="0.9"/><path d="M596.68,234.03 L599.18,238.73 L594.18,238.73 Z" fill="white" stroke="rgb(78,134,222)" stroke-width="0.9"/><path d="M598.24,236.63 L600.74,241.33 L595.74,241.33 Z" fill="white" stroke="rgb(78,134,222)" stroke-width="0.9"/><path d="M599.81,238.70 L602.31,243.40 L597.31,243.40 Z" fill="white" stroke="rgb(78,134,222)" stroke-width="0.9"/><path d="M601.37,240.37 L603.87,245.07 L598.87,245.07 Z" fill="white" stroke="rgb(78,134,222)" stroke-width="0.9"/><path d="M602.94,241.74 L605.44,246.44 L600.44,246.44 Z" fill="white" stroke="rgb(78,134,222)" stroke-width="0.9"/><path d="M604.50,242.87 L607.00,247.57 L602.00,247.57 Z" fill="white" stroke="rgb(78,134,222)" stroke-width="0.9"/><path d="M606.06,243.81 L608.56,248.51 L603.56,248.51 Z" fill="white" stroke="rgb(78,134,222)" stroke-width="0.9"/><path d="M607.63,244.61 L610.13,249.31 L605.13,249.31 Z" fill="white" stroke="rgb(78,134,222)" stroke-width="0.9"/><path d="M609.19,245.29 L611.69,249.99 L606.69,249.99 Z" fill="white" stroke="rgb(78,134,222)" stroke-width="0.9"/><path d="M610.76,245.87 L613.26,250.57 L608.26,250.57 Z" fill="white" stroke="rgb(78,134,222)" stroke-width="0.9"/><path d="M612.32,246.38 L614.82,251.08 L609.82,251.08 Z" fill="white" stroke="rgb(78,134,222)" stroke-width="0.9"/><path d="M613.88,246.82 L616.38,251.52 L611.38,251.52 Z" fill="white" stroke="rgb(78,134,222)" stroke-width="0.9"/><path d="M615.45,247.20 L617.95,251.90 L612.95,251.90 Z" fill="white" stroke="rgb(78,134,222)" stroke-width="0.9"/><path d="M617.01,247.54 L619.51,252.24 L614.51,252.24 Z" fill="white" stroke="rgb(78,134,222)" stroke-width="0.9"/><path d="M618.58,247.84 L621.08,252.54 L616.08,252.54 Z" fill="white" stroke="rgb(78,134,222)" stroke-width="0.9"/><path d="M620.14,248.10 L622.64,252.80 L617.64,252.80 Z" fill="white" stroke="rgb(78,134,222)" stroke-width="0.9"/><path d="M621.70,248.34 L624.20,253.04 L619.20,253.04 Z" fill="white" stroke="rgb(78,134,222)" stroke-width="0.9"/><path d="M623.27,248.55 L625.77,253.25 L620.77,253.25 Z" fill="white" stroke="rgb(78,134,222)" stroke-width="0.9"/><path d="M624.83,248.74 L627.33,253.44 L622.33,253.44 Z" fill="white" stroke="rgb(78,134,222)" stroke-width="0.9"/><path d="M626.40,248.92 L628.90,253.62 L623.90,253.62 Z" fill="white" stroke="rgb(78,134,222)" stroke-width="0.9"/><path d="M627.96,249.07 L630.46,253.77 L625.46,253.77 Z" fill="white" stroke="rgb(78,134,222)" stroke-width="0.9"/><path d="M629.52,249.21 L632.02,253.91 L627.02,253.91 Z" fill="white" stroke="rgb(78,134,222)" stroke-width="0.9"/><path d="M631.09,249.34 L633.59,254.04 L628.59,254.04 Z" fill="white" stroke="rgb(78,134,222)" stroke-width="0.9"/><path d="M632.65,249.46 L635.15,254.16 L630.15,254.16 Z" fill="white" stroke="rgb(78,134,222)" stroke-width="0.9"/><path d="M634.22,249.57 L636.72,254.27 L631.72,254.27 Z" fill="white" stroke="rgb(78,134,222)" stroke-width="0.9"/><path d="M635.78,249.67 L638.28,254.37 L633.28,254.37 Z" fill="white" stroke="rgb(78,134,222)" stroke-width="0.9"/><path d="M637.34,249.76 L639.84,254.46 L634.84,254.46 Z" fill="white" stroke="rgb(78,134,222)" stroke-width="0.9"/><path d="M638.91,249.85 L641.41,254.55 L636.41,254.55 Z" fill="white" stroke="rgb(78,134,222)" stroke-width="0.9"/><path d="M640.47,249.93 L642.97,254.63 L637.97,254.63 Z" fill="white" stroke="rgb(78,134,222)" stroke-width="0.9"/><path d="M642.04,250.00 L644.54,254.70 L639.54,254.70 Z" fill="white" stroke="rgb(78,134,222)" stroke-width="0.9"/><path d="M643.60,250.07 L646.10,254.77 L641.10,254.77 Z" fill="white" stroke="rgb(78,134,222)" stroke-width="0.9"/><path d="M645.16,250.13 L647.66,254.83 L642.66,254.83 Z" fill="white" stroke="rgb(78,134,222)" stroke-width="0.9"/><path d="M646.73,250.19 L649.23,254.89 L644.23,254.89 Z" fill="white" stroke="rgb(78,134,222)" stroke-width="0.9"/><path d="M648.29,250.24 L650.79,254.94 L645.79,254.94 Z" fill="white" stroke="rgb(78,134,222)" stroke-width="0.9"/><path d="M649.86,250.29 L652.36,254.99 L647.36,254.99 Z" fill="white" stroke="rgb(78,134,222)" stroke-width="0.9"/><path d="M651.42,250.34 L653.92,255.04 L648.92,255.04 Z" fill="white" stroke="rgb(78,134,222)" stroke-width="0.9"/><path d="M652.98,250.38 L655.48,255.08 L650.48,255.08 Z" fill="white" stroke="rgb(78,134,222)" stroke-width="0.9"/><path d="M654.55,250.43 L657.05,255.13 L652.05,255.13 Z" fill="white" stroke="rgb(78,134,222)" stroke-width="0.9"/><path d="M656.11,250.46 L658.61,255.16 L653.61,255.16 Z" fill="white" stroke="rgb(78,134,222)" stroke-width="0.9"/><path d="M657.68,250.50 L660.18,255.20 L655.18,255.20 Z" fill="white" stroke="rgb(78,134,222)" stroke-width="0.9"/><path d="M659.24,250.54 L661.74,255.24 L656.74,255.24 Z" fill="white" stroke="rgb(78,134,222)" stroke-width="0.9"/><path d="M660.80,250.57 L663.30,255.27 L658.30,255.27 Z" fill="white" stroke="rgb(78,134,222)" stroke-width="0.9"/><path d="M662.37,250.60 L664.87,255.30 L659.87,255.30 Z" fill="white" stroke="rgb(78,134,222)" stroke-width="0.9"/><path d="M663.93,250.63 L666.43,255.33 L661.43,255.33 Z" fill="white" stroke="rgb(78,134,222)" stroke-width="0.9"/><path d="M665.50,250.66 L668.00,255.36 L663.00,255.36 Z" fill="white" stroke="rgb(78,134,222)" stroke-width="0.9"/><path d="M667.06,250.68 L669.56,255.38 L664.56,255.38 Z" fill="white" stroke="rgb(78,134,222)" stroke-width="0.9"/><path d="M668.62,250.71 L671.12,255.41 L666.12,255.41 Z" fill="white" stroke="rgb(78,134,222)" stroke-width="0.9"/><path d="M670.19,250.73 L672.69,255.43 L667.69,255.43 Z" fill="white" stroke="rgb(78,134,222)" stroke-width="0.9"/><path d="M671.75,250.75 L674.25,255.45 L669.25,255.45 Z" fill="white" stroke="rgb(78,134,222)" stroke-width="0.9"/><path d="M673.32,250.78 L675.82,255.48 L670.82,255.48 Z" fill="white" stroke="rgb(78,134,222)" stroke-width="0.9"/><path d="M674.88,250.80 L677.38,255.50 L672.38,255.50 Z" fill="white" stroke="rgb(78,134,222)" stroke-width="0.9"/><path d="M676.44,250.82 L678.94,255.52 L673.94,255.52 Z" fill="white" stroke="rgb(78,134,222)" stroke-width="0.9"/><path d="M678.01,250.83 L680.51,255.53 L675.51,255.53 Z" fill="white" stroke="rgb(78,134,222)" stroke-width="0.9"/><path d="M679.57,250.85 L682.07,255.55 L677.07,255.55 Z" fill="white" stroke="rgb(78,134,222)" stroke-width="0.9"/><path d="M681.14,250.87 L683.64,255.57 L678.64,255.57 Z" fill="white" stroke="rgb(78,134,222)" stroke-width="0.9"/><path d="M682.70,250.88 L685.20,255.58 L680.20,255.58 Z" fill="white" stroke="rgb(78,134,222)" stroke-width="0.9"/><rect x="448.1" y="19.3" width="234.60000000000002" height="259.5" fill="none" stroke="#383838" stroke-width="1"/><line x1="448.10" y1="278.80" x2="448.10" y2="282.80" stroke="#383838" stroke-width="1" /><line x1="448.10" y1="19.30" x2="448.10" y2="23.30" stroke="#383838" stroke-width="1" /><text x="448.10" y="297.80" style="font-family:'Liberation Sans',sans-serif;font-size:15.2px;" text-anchor="middle" fill="#151515">600</text><line x1="487.20" y1="278.80" x2="487.20" y2="281.30" stroke="#383838" stroke-width="1" /><line x1="487.20" y1="19.30" x2="487.20" y2="21.80" stroke="#383838" stroke-width="1" /><line x1="526.30" y1="278.80" x2="526.30" y2="282.80" stroke="#383838" stroke-width="1" /><line x1="526.30" y1="19.30" x2="526.30" y2="23.30" stroke="#383838" stroke-width="1" /><text x="526.30" y="297.80" style="font-family:'Liberation Sans',sans-serif;font-size:15.2px;" text-anchor="middle" fill="#151515">700</text><line x1="565.40" y1="278.80" x2="565.40" y2="281.30" stroke="#383838" stroke-width="1" /><line x1="565.40" y1="19.30" x2="565.40" y2="21.80" stroke="#383838" stroke-width="1" /><line x1="604.50" y1="278.80" x2="604.50" y2="282.80" stroke="#383838" stroke-width="1" /><line x1="604.50" y1="19.30" x2="604.50" y2="23.30" stroke="#383838" stroke-width="1" /><text x="604.50" y="297.80" style="font-family:'Liberation Sans',sans-serif;font-size:15.2px;" text-anchor="middle" fill="#151515">800</text><line x1="643.60" y1="278.80" x2="643.60" y2="281.30" stroke="#383838" stroke-width="1" /><line x1="643.60" y1="19.30" x2="643.60" y2="21.80" stroke="#383838" stroke-width="1" /><line x1="682.70" y1="278.80" x2="682.70" y2="282.80" stroke="#383838" stroke-width="1" /><line x1="682.70" y1="19.30" x2="682.70" y2="23.30" stroke="#383838" stroke-width="1" /><text x="682.70" y="297.80" style="font-family:'Liberation Sans',sans-serif;font-size:15.2px;" text-anchor="middle" fill="#151515">900</text><line x1="444.10" y1="254.30" x2="448.10" y2="254.30" stroke="#383838" stroke-width="1" /><line x1="678.70" y1="254.30" x2="682.70" y2="254.30" stroke="#383838" stroke-width="1" /><line x1="445.60" y1="220.80" x2="448.10" y2="220.80" stroke="#383838" stroke-width="1" /><line x1="680.20" y1="220.80" x2="682.70" y2="220.80" stroke="#383838" stroke-width="1" /><line x1="444.10" y1="187.30" x2="448.10" y2="187.30" stroke="#383838" stroke-width="1" /><line x1="678.70" y1="187.30" x2="682.70" y2="187.30" stroke="#383838" stroke-width="1" /><line x1="445.60" y1="153.80" x2="448.10" y2="153.80" stroke="#383838" stroke-width="1" /><line x1="680.20" y1="153.80" x2="682.70" y2="153.80" stroke="#383838" stroke-width="1" /><line x1="444.10" y1="120.30" x2="448.10" y2="120.30" stroke="#383838" stroke-width="1" /><line x1="678.70" y1="120.30" x2="682.70" y2="120.30" stroke="#383838" stroke-width="1" /><line x1="445.60" y1="86.80" x2="448.10" y2="86.80" stroke="#383838" stroke-width="1" /><line x1="680.20" y1="86.80" x2="682.70" y2="86.80" stroke="#383838" stroke-width="1" /><line x1="444.10" y1="53.30" x2="448.10" y2="53.30" stroke="#383838" stroke-width="1" /><line x1="678.70" y1="53.30" x2="682.70" y2="53.30" stroke="#383838" stroke-width="1" /><line x1="444.10" y1="254.30" x2="448.10" y2="254.30" stroke="#383838" stroke-width="1" /><line x1="678.70" y1="254.30" x2="682.70" y2="254.30" stroke="#383838" stroke-width="1" /><text x="440.60" y="258.70" style="font-family:'Liberation Sans',sans-serif;font-size:15.2px;" text-anchor="end" fill="#151515">0E+00</text><text x="440.60" y="191.70" style="font-family:'Liberation Sans',sans-serif;font-size:15.2px;" text-anchor="end" fill="#151515">2E−15</text><text x="440.60" y="124.70" style="font-family:'Liberation Sans',sans-serif;font-size:15.2px;" text-anchor="end" fill="#151515">4E−15</text><text x="440.60" y="57.70" style="font-family:'Liberation Sans',sans-serif;font-size:15.2px;" text-anchor="end" fill="#151515">6E−15</text><text x="576.40" y="315.80" style="font-family:'Liberation Sans',sans-serif;font-size:15.3px;" text-anchor="middle" fill="#151515" textLength="115.5" lengthAdjust="spacingAndGlyphs">Wavelength (nm)</text><text x="575.10" y="14.30" style="font-family:'Liberation Sans',sans-serif;font-size:18.0px;" text-anchor="middle" fill="#151515" textLength="154.2" lengthAdjust="spacingAndGlyphs">Achiral absorption</text><text x="388.00" y="150.60" style="font-family:'Liberation Sans',sans-serif;font-size:15.5px;" text-anchor="middle" fill="#151515" textLength="127.0" lengthAdjust="spacingAndGlyphs" transform="rotate(-90 388.00 150.60)">Achiral Absorption</text><line x1="454.50" y1="33.70" x2="488.00" y2="33.70" stroke="rgb(150,150,150)" stroke-width="1.0" /><rect x="469.05" y="31.50" width="4.40" height="4.40" fill="white" stroke="rgb(150,150,150)" stroke-width="0.9"/><text x="493.00" y="38.30" style="font-family:'Liberation Sans',sans-serif;font-size:15.2px;" text-anchor="start" fill="#151515">MD</text><line x1="454.50" y1="52.30" x2="488.00" y2="52.30" stroke="rgb(234,108,108)" stroke-width="1.0" /><circle cx="471.25" cy="52.30" r="2.09" fill="white" stroke="rgb(234,108,108)" stroke-width="0.9"/><text x="493.00" y="56.90" style="font-family:'Liberation Sans',sans-serif;font-size:15.2px;" text-anchor="start" fill="#151515">ED</text><line x1="454.50" y1="70.90" x2="488.00" y2="70.90" stroke="rgb(78,134,222)" stroke-width="1.0" /><path d="M471.25,67.71 L474.00,72.88 L468.50,72.88 Z" fill="white" stroke="rgb(78,134,222)" stroke-width="0.9"/><text x="493.00" y="75.50" style="font-family:'Liberation Sans',sans-serif;font-size:15.2px;" text-anchor="start" fill="#151515">EQ</text><polyline points="777.50,251.80 779.06,251.74 780.62,251.68 782.18,251.62 783.74,251.56 785.30,251.49 786.86,251.42 788.42,251.35 789.97,251.28 791.53,251.21 793.09,251.14 794.65,251.06 796.21,250.98 797.77,250.90 799.33,250.82 800.89,250.73 802.45,250.64 804.01,250.55 805.57,250.46 807.13,250.36 808.69,250.26 810.25,250.15 811.81,250.05 813.36,249.94 814.92,249.82 816.48,249.70 818.04,249.58 819.60,249.45 821.16,249.32 822.72,249.18 824.28,249.04 825.84,248.89 827.40,248.74 828.96,248.58 830.52,248.41 832.08,248.24 833.64,248.06 835.20,247.87 836.75,247.67 838.31,247.46 839.87,247.24 841.43,247.01 842.99,246.77 844.55,246.52 846.11,246.25 847.67,245.97 849.23,245.67 850.79,245.35 852.35,245.01 853.91,244.65 855.47,244.27 857.03,243.86 858.59,243.42 860.14,242.94 861.70,242.43 863.26,241.88 864.82,241.28 866.38,240.62 867.94,239.91 869.50,239.12 871.06,238.26 872.62,237.31 874.18,236.26 875.74,235.08 877.30,233.77 878.86,232.29 880.42,230.63 881.98,228.75 883.53,226.60 885.09,224.15 886.65,221.34 888.21,218.10 889.77,214.36 891.33,210.03 892.89,205.01 894.45,199.21 896.01,192.53 897.57,184.92 899.13,176.40 900.69,167.11 902.25,157.40 903.81,147.88 905.37,139.45 906.92,133.19 908.48,130.06 910.04,130.63 911.60,134.79 913.16,141.84 914.72,150.74 916.28,160.46 917.84,170.18 919.40,179.35 920.96,187.69 922.52,195.10 924.08,201.59 925.64,207.23 927.20,212.11 928.76,216.33 930.31,219.98 931.87,223.16 933.43,225.92 934.99,228.33 936.55,230.45 938.11,232.32 939.67,233.98 941.23,235.45 942.79,236.77 944.35,237.96 945.91,239.02 947.47,239.99 949.03,240.86 950.59,241.66 952.15,242.39 953.70,243.06 955.26,243.68 956.82,244.25 958.38,244.77 959.94,245.26 961.50,245.72 963.06,246.14 964.62,246.54 966.18,246.91 967.74,247.26 969.30,247.59 970.86,247.89 972.42,248.19 973.98,248.46 975.54,248.72 977.09,248.97 978.65,249.20 980.21,249.42 981.77,249.63 983.33,249.84 984.89,250.03 986.45,250.21 988.01,250.38 989.57,250.55 991.13,250.71 992.69,250.86 994.25,251.01 995.81,251.15 997.37,251.28 998.93,251.41 1000.48,251.53 1002.04,251.65 1003.60,251.76 1005.16,251.87 1006.72,251.98 1008.28,252.08 1009.84,252.18 1011.40,252.27" fill="none" stroke="rgb(95,95,95)" stroke-width="1.0" stroke-linejoin="round" /><rect x="775.50" y="249.80" width="4.00" height="4.00" fill="white" stroke="rgb(95,95,95)" stroke-width="0.9"/><rect x="777.06" y="249.74" width="4.00" height="4.00" fill="white" stroke="rgb(95,95,95)" stroke-width="0.9"/><rect x="778.62" y="249.68" width="4.00" height="4.00" fill="white" stroke="rgb(95,95,95)" stroke-width="0.9"/><rect x="780.18" y="249.62" width="4.00" height="4.00" fill="white" stroke="rgb(95,95,95)" stroke-width="0.9"/><rect x="781.74" y="249.56" width="4.00" height="4.00" fill="white" stroke="rgb(95,95,95)" stroke-width="0.9"/><rect x="783.30" y="249.49" width="4.00" height="4.00" fill="white" stroke="rgb(95,95,95)" stroke-width="0.9"/><rect x="784.86" y="249.42" width="4.00" height="4.00" fill="white" stroke="rgb(95,95,95)" stroke-width="0.9"/><rect x="786.42" y="249.35" width="4.00" height="4.00" fill="white" stroke="rgb(95,95,95)" stroke-width="0.9"/><rect x="787.97" y="249.28" width="4.00" height="4.00" fill="white" stroke="rgb(95,95,95)" stroke-width="0.9"/><rect x="789.53" y="249.21" width="4.00" height="4.00" fill="white" stroke="rgb(95,95,95)" stroke-width="0.9"/><rect x="791.09" y="249.14" width="4.00" height="4.00" fill="white" stroke="rgb(95,95,95)" stroke-width="0.9"/><rect x="792.65" y="249.06" width="4.00" height="4.00" fill="white" stroke="rgb(95,95,95)" stroke-width="0.9"/><rect x="794.21" y="248.98" width="4.00" height="4.00" fill="white" stroke="rgb(95,95,95)" stroke-width="0.9"/><rect x="795.77" y="248.90" width="4.00" height="4.00" fill="white" stroke="rgb(95,95,95)" stroke-width="0.9"/><rect x="797.33" y="248.82" width="4.00" height="4.00" fill="white" stroke="rgb(95,95,95)" stroke-width="0.9"/><rect x="798.89" y="248.73" width="4.00" height="4.00" fill="white" stroke="rgb(95,95,95)" stroke-width="0.9"/><rect x="800.45" y="248.64" width="4.00" height="4.00" fill="white" stroke="rgb(95,95,95)" stroke-width="0.9"/><rect x="802.01" y="248.55" width="4.00" height="4.00" fill="white" stroke="rgb(95,95,95)" stroke-width="0.9"/><rect x="803.57" y="248.46" width="4.00" height="4.00" fill="white" stroke="rgb(95,95,95)" stroke-width="0.9"/><rect x="805.13" y="248.36" width="4.00" height="4.00" fill="white" stroke="rgb(95,95,95)" stroke-width="0.9"/><rect x="806.69" y="248.26" width="4.00" height="4.00" fill="white" stroke="rgb(95,95,95)" stroke-width="0.9"/><rect x="808.25" y="248.15" width="4.00" height="4.00" fill="white" stroke="rgb(95,95,95)" stroke-width="0.9"/><rect x="809.81" y="248.05" width="4.00" height="4.00" fill="white" stroke="rgb(95,95,95)" stroke-width="0.9"/><rect x="811.36" y="247.94" width="4.00" height="4.00" fill="white" stroke="rgb(95,95,95)" stroke-width="0.9"/><rect x="812.92" y="247.82" width="4.00" height="4.00" fill="white" stroke="rgb(95,95,95)" stroke-width="0.9"/><rect x="814.48" y="247.70" width="4.00" height="4.00" fill="white" stroke="rgb(95,95,95)" stroke-width="0.9"/><rect x="816.04" y="247.58" width="4.00" height="4.00" fill="white" stroke="rgb(95,95,95)" stroke-width="0.9"/><rect x="817.60" y="247.45" width="4.00" height="4.00" fill="white" stroke="rgb(95,95,95)" stroke-width="0.9"/><rect x="819.16" y="247.32" width="4.00" height="4.00" fill="white" stroke="rgb(95,95,95)" stroke-width="0.9"/><rect x="820.72" y="247.18" width="4.00" height="4.00" fill="white" stroke="rgb(95,95,95)" stroke-width="0.9"/><rect x="822.28" y="247.04" width="4.00" height="4.00" fill="white" stroke="rgb(95,95,95)" stroke-width="0.9"/><rect x="823.84" y="246.89" width="4.00" height="4.00" fill="white" stroke="rgb(95,95,95)" stroke-width="0.9"/><rect x="825.40" y="246.74" width="4.00" height="4.00" fill="white" stroke="rgb(95,95,95)" stroke-width="0.9"/><rect x="826.96" y="246.58" width="4.00" height="4.00" fill="white" stroke="rgb(95,95,95)" stroke-width="0.9"/><rect x="828.52" y="246.41" width="4.00" height="4.00" fill="white" stroke="rgb(95,95,95)" stroke-width="0.9"/><rect x="830.08" y="246.24" width="4.00" height="4.00" fill="white" stroke="rgb(95,95,95)" stroke-width="0.9"/><rect x="831.64" y="246.06" width="4.00" height="4.00" fill="white" stroke="rgb(95,95,95)" stroke-width="0.9"/><rect x="833.20" y="245.87" width="4.00" height="4.00" fill="white" stroke="rgb(95,95,95)" stroke-width="0.9"/><rect x="834.75" y="245.67" width="4.00" height="4.00" fill="white" stroke="rgb(95,95,95)" stroke-width="0.9"/><rect x="836.31" y="245.46" width="4.00" height="4.00" fill="white" stroke="rgb(95,95,95)" stroke-width="0.9"/><rect x="837.87" y="245.24" width="4.00" height="4.00" fill="white" stroke="rgb(95,95,95)" stroke-width="0.9"/><rect x="839.43" y="245.01" width="4.00" height="4.00" fill="white" stroke="rgb(95,95,95)" stroke-width="0.9"/><rect x="840.99" y="244.77" width="4.00" height="4.00" fill="white" stroke="rgb(95,95,95)" stroke-width="0.9"/><rect x="842.55" y="244.52" width="4.00" height="4.00" fill="white" stroke="rgb(95,95,95)" stroke-width="0.9"/><rect x="844.11" y="244.25" width="4.00" height="4.00" fill="white" stroke="rgb(95,95,95)" stroke-width="0.9"/><rect x="845.67" y="243.97" width="4.00" height="4.00" fill="white" stroke="rgb(95,95,95)" stroke-width="0.9"/><rect x="847.23" y="243.67" width="4.00" height="4.00" fill="white" stroke="rgb(95,95,95)" stroke-width="0.9"/><rect x="848.79" y="243.35" width="4.00" height="4.00" fill="white" stroke="rgb(95,95,95)" stroke-width="0.9"/><rect x="850.35" y="243.01" width="4.00" height="4.00" fill="white" stroke="rgb(95,95,95)" stroke-width="0.9"/><rect x="851.91" y="242.65" width="4.00" height="4.00" fill="white" stroke="rgb(95,95,95)" stroke-width="0.9"/><rect x="853.47" y="242.27" width="4.00" height="4.00" fill="white" stroke="rgb(95,95,95)" stroke-width="0.9"/><rect x="855.03" y="241.86" width="4.00" height="4.00" fill="white" stroke="rgb(95,95,95)" stroke-width="0.9"/><rect x="856.59" y="241.42" width="4.00" height="4.00" fill="white" stroke="rgb(95,95,95)" stroke-width="0.9"/><rect x="858.14" y="240.94" width="4.00" height="4.00" fill="white" stroke="rgb(95,95,95)" stroke-width="0.9"/><rect x="859.70" y="240.43" width="4.00" height="4.00" fill="white" stroke="rgb(95,95,95)" stroke-width="0.9"/><rect x="861.26" y="239.88" width="4.00" height="4.00" fill="white" stroke="rgb(95,95,95)" stroke-width="0.9"/><rect x="862.82" y="239.28" width="4.00" height="4.00" fill="white" stroke="rgb(95,95,95)" stroke-width="0.9"/><rect x="864.38" y="238.62" width="4.00" height="4.00" fill="white" stroke="rgb(95,95,95)" stroke-width="0.9"/><rect x="865.94" y="237.91" width="4.00" height="4.00" fill="white" stroke="rgb(95,95,95)" stroke-width="0.9"/><rect x="867.50" y="237.12" width="4.00" height="4.00" fill="white" stroke="rgb(95,95,95)" stroke-width="0.9"/><rect x="869.06" y="236.26" width="4.00" height="4.00" fill="white" stroke="rgb(95,95,95)" stroke-width="0.9"/><rect x="870.62" y="235.31" width="4.00" height="4.00" fill="white" stroke="rgb(95,95,95)" stroke-width="0.9"/><rect x="872.18" y="234.26" width="4.00" height="4.00" fill="white" stroke="rgb(95,95,95)" stroke-width="0.9"/><rect x="873.74" y="233.08" width="4.00" height="4.00" fill="white" stroke="rgb(95,95,95)" stroke-width="0.9"/><rect x="875.30" y="231.77" width="4.00" height="4.00" fill="white" stroke="rgb(95,95,95)" stroke-width="0.9"/><rect x="876.86" y="230.29" width="4.00" height="4.00" fill="white" stroke="rgb(95,95,95)" stroke-width="0.9"/><rect x="878.42" y="228.63" width="4.00" height="4.00" fill="white" stroke="rgb(95,95,95)" stroke-width="0.9"/><rect x="879.98" y="226.75" width="4.00" height="4.00" fill="white" stroke="rgb(95,95,95)" stroke-width="0.9"/><rect x="881.53" y="224.60" width="4.00" height="4.00" fill="white" stroke="rgb(95,95,95)" stroke-width="0.9"/><rect x="883.09" y="222.15" width="4.00" height="4.00" fill="white" stroke="rgb(95,95,95)" stroke-width="0.9"/><rect x="884.65" y="219.34" width="4.00" height="4.00" fill="white" stroke="rgb(95,95,95)" stroke-width="0.9"/><rect x="886.21" y="216.10" width="4.00" height="4.00" fill="white" stroke="rgb(95,95,95)" stroke-width="0.9"/><rect x="887.77" y="212.36" width="4.00" height="4.00" fill="white" stroke="rgb(95,95,95)" stroke-width="0.9"/><rect x="889.33" y="208.03" width="4.00" height="4.00" fill="white" stroke="rgb(95,95,95)" stroke-width="0.9"/><rect x="890.89" y="203.01" width="4.00" height="4.00" fill="white" stroke="rgb(95,95,95)" stroke-width="0.9"/><rect x="892.45" y="197.21" width="4.00" height="4.00" fill="white" stroke="rgb(95,95,95)" stroke-width="0.9"/><rect x="894.01" y="190.53" width="4.00" height="4.00" fill="white" stroke="rgb(95,95,95)" stroke-width="0.9"/><rect x="895.57" y="182.92" width="4.00" height="4.00" fill="white" stroke="rgb(95,95,95)" stroke-width="0.9"/><rect x="897.13" y="174.40" width="4.00" height="4.00" fill="white" stroke="rgb(95,95,95)" stroke-width="0.9"/><rect x="898.69" y="165.11" width="4.00" height="4.00" fill="white" stroke="rgb(95,95,95)" stroke-width="0.9"/><rect x="900.25" y="155.40" width="4.00" height="4.00" fill="white" stroke="rgb(95,95,95)" stroke-width="0.9"/><rect x="901.81" y="145.88" width="4.00" height="4.00" fill="white" stroke="rgb(95,95,95)" stroke-width="0.9"/><rect x="903.37" y="137.45" width="4.00" height="4.00" fill="white" stroke="rgb(95,95,95)" stroke-width="0.9"/><rect x="904.92" y="131.19" width="4.00" height="4.00" fill="white" stroke="rgb(95,95,95)" stroke-width="0.9"/><rect x="906.48" y="128.06" width="4.00" height="4.00" fill="white" stroke="rgb(95,95,95)" stroke-width="0.9"/><rect x="908.04" y="128.63" width="4.00" height="4.00" fill="white" stroke="rgb(95,95,95)" stroke-width="0.9"/><rect x="909.60" y="132.79" width="4.00" height="4.00" fill="white" stroke="rgb(95,95,95)" stroke-width="0.9"/><rect x="911.16" y="139.84" width="4.00" height="4.00" fill="white" stroke="rgb(95,95,95)" stroke-width="0.9"/><rect x="912.72" y="148.74" width="4.00" height="4.00" fill="white" stroke="rgb(95,95,95)" stroke-width="0.9"/><rect x="914.28" y="158.46" width="4.00" height="4.00" fill="white" stroke="rgb(95,95,95)" stroke-width="0.9"/><rect x="915.84" y="168.18" width="4.00" height="4.00" fill="white" stroke="rgb(95,95,95)" stroke-width="0.9"/><rect x="917.40" y="177.35" width="4.00" height="4.00" fill="white" stroke="rgb(95,95,95)" stroke-width="0.9"/><rect x="918.96" y="185.69" width="4.00" height="4.00" fill="white" stroke="rgb(95,95,95)" stroke-width="0.9"/><rect x="920.52" y="193.10" width="4.00" height="4.00" fill="white" stroke="rgb(95,95,95)" stroke-width="0.9"/><rect x="922.08" y="199.59" width="4.00" height="4.00" fill="white" stroke="rgb(95,95,95)" stroke-width="0.9"/><rect x="923.64" y="205.23" width="4.00" height="4.00" fill="white" stroke="rgb(95,95,95)" stroke-width="0.9"/><rect x="925.20" y="210.11" width="4.00" height="4.00" fill="white" stroke="rgb(95,95,95)" stroke-width="0.9"/><rect x="926.76" y="214.33" width="4.00" height="4.00" fill="white" stroke="rgb(95,95,95)" stroke-width="0.9"/><rect x="928.31" y="217.98" width="4.00" height="4.00" fill="white" stroke="rgb(95,95,95)" stroke-width="0.9"/><rect x="929.87" y="221.16" width="4.00" height="4.00" fill="white" stroke="rgb(95,95,95)" stroke-width="0.9"/><rect x="931.43" y="223.92" width="4.00" height="4.00" fill="white" stroke="rgb(95,95,95)" stroke-width="0.9"/><rect x="932.99" y="226.33" width="4.00" height="4.00" fill="white" stroke="rgb(95,95,95)" stroke-width="0.9"/><rect x="934.55" y="228.45" width="4.00" height="4.00" fill="white" stroke="rgb(95,95,95)" stroke-width="0.9"/><rect x="936.11" y="230.32" width="4.00" height="4.00" fill="white" stroke="rgb(95,95,95)" stroke-width="0.9"/><rect x="937.67" y="231.98" width="4.00" height="4.00" fill="white" stroke="rgb(95,95,95)" stroke-width="0.9"/><rect x="939.23" y="233.45" width="4.00" height="4.00" fill="white" stroke="rgb(95,95,95)" stroke-width="0.9"/><rect x="940.79" y="234.77" width="4.00" height="4.00" fill="white" stroke="rgb(95,95,95)" stroke-width="0.9"/><rect x="942.35" y="235.96" width="4.00" height="4.00" fill="white" stroke="rgb(95,95,95)" stroke-width="0.9"/><rect x="943.91" y="237.02" width="4.00" height="4.00" fill="white" stroke="rgb(95,95,95)" stroke-width="0.9"/><rect x="945.47" y="237.99" width="4.00" height="4.00" fill="white" stroke="rgb(95,95,95)" stroke-width="0.9"/><rect x="947.03" y="238.86" width="4.00" height="4.00" fill="white" stroke="rgb(95,95,95)" stroke-width="0.9"/><rect x="948.59" y="239.66" width="4.00" height="4.00" fill="white" stroke="rgb(95,95,95)" stroke-width="0.9"/><rect x="950.15" y="240.39" width="4.00" height="4.00" fill="white" stroke="rgb(95,95,95)" stroke-width="0.9"/><rect x="951.70" y="241.06" width="4.00" height="4.00" fill="white" stroke="rgb(95,95,95)" stroke-width="0.9"/><rect x="953.26" y="241.68" width="4.00" height="4.00" fill="white" stroke="rgb(95,95,95)" stroke-width="0.9"/><rect x="954.82" y="242.25" width="4.00" height="4.00" fill="white" stroke="rgb(95,95,95)" stroke-width="0.9"/><rect x="956.38" y="242.77" width="4.00" height="4.00" fill="white" stroke="rgb(95,95,95)" stroke-width="0.9"/><rect x="957.94" y="243.26" width="4.00" height="4.00" fill="white" stroke="rgb(95,95,95)" stroke-width="0.9"/><rect x="959.50" y="243.72" width="4.00" height="4.00" fill="white" stroke="rgb(95,95,95)" stroke-width="0.9"/><rect x="961.06" y="244.14" width="4.00" height="4.00" fill="white" stroke="rgb(95,95,95)" stroke-width="0.9"/><rect x="962.62" y="244.54" width="4.00" height="4.00" fill="white" stroke="rgb(95,95,95)" stroke-width="0.9"/><rect x="964.18" y="244.91" width="4.00" height="4.00" fill="white" stroke="rgb(95,95,95)" stroke-width="0.9"/><rect x="965.74" y="245.26" width="4.00" height="4.00" fill="white" stroke="rgb(95,95,95)" stroke-width="0.9"/><rect x="967.30" y="245.59" width="4.00" height="4.00" fill="white" stroke="rgb(95,95,95)" stroke-width="0.9"/><rect x="968.86" y="245.89" width="4.00" height="4.00" fill="white" stroke="rgb(95,95,95)" stroke-width="0.9"/><rect x="970.42" y="246.19" width="4.00" height="4.00" fill="white" stroke="rgb(95,95,95)" stroke-width="0.9"/><rect x="971.98" y="246.46" width="4.00" height="4.00" fill="white" stroke="rgb(95,95,95)" stroke-width="0.9"/><rect x="973.54" y="246.72" width="4.00" height="4.00" fill="white" stroke="rgb(95,95,95)" stroke-width="0.9"/><rect x="975.09" y="246.97" width="4.00" height="4.00" fill="white" stroke="rgb(95,95,95)" stroke-width="0.9"/><rect x="976.65" y="247.20" width="4.00" height="4.00" fill="white" stroke="rgb(95,95,95)" stroke-width="0.9"/><rect x="978.21" y="247.42" width="4.00" height="4.00" fill="white" stroke="rgb(95,95,95)" stroke-width="0.9"/><rect x="979.77" y="247.63" width="4.00" height="4.00" fill="white" stroke="rgb(95,95,95)" stroke-width="0.9"/><rect x="981.33" y="247.84" width="4.00" height="4.00" fill="white" stroke="rgb(95,95,95)" stroke-width="0.9"/><rect x="982.89" y="248.03" width="4.00" height="4.00" fill="white" stroke="rgb(95,95,95)" stroke-width="0.9"/><rect x="984.45" y="248.21" width="4.00" height="4.00" fill="white" stroke="rgb(95,95,95)" stroke-width="0.9"/><rect x="986.01" y="248.38" width="4.00" height="4.00" fill="white" stroke="rgb(95,95,95)" stroke-width="0.9"/><rect x="987.57" y="248.55" width="4.00" height="4.00" fill="white" stroke="rgb(95,95,95)" stroke-width="0.9"/><rect x="989.13" y="248.71" width="4.00" height="4.00" fill="white" stroke="rgb(95,95,95)" stroke-width="0.9"/><rect x="990.69" y="248.86" width="4.00" height="4.00" fill="white" stroke="rgb(95,95,95)" stroke-width="0.9"/><rect x="992.25" y="249.01" width="4.00" height="4.00" fill="white" stroke="rgb(95,95,95)" stroke-width="0.9"/><rect x="993.81" y="249.15" width="4.00" height="4.00" fill="white" stroke="rgb(95,95,95)" stroke-width="0.9"/><rect x="995.37" y="249.28" width="4.00" height="4.00" fill="white" stroke="rgb(95,95,95)" stroke-width="0.9"/><rect x="996.93" y="249.41" width="4.00" height="4.00" fill="white" stroke="rgb(95,95,95)" stroke-width="0.9"/><rect x="998.48" y="249.53" width="4.00" height="4.00" fill="white" stroke="rgb(95,95,95)" stroke-width="0.9"/><rect x="1000.04" y="249.65" width="4.00" height="4.00" fill="white" stroke="rgb(95,95,95)" stroke-width="0.9"/><rect x="1001.60" y="249.76" width="4.00" height="4.00" fill="white" stroke="rgb(95,95,95)" stroke-width="0.9"/><rect x="1003.16" y="249.87" width="4.00" height="4.00" fill="white" stroke="rgb(95,95,95)" stroke-width="0.9"/><rect x="1004.72" y="249.98" width="4.00" height="4.00" fill="white" stroke="rgb(95,95,95)" stroke-width="0.9"/><rect x="1006.28" y="250.08" width="4.00" height="4.00" fill="white" stroke="rgb(95,95,95)" stroke-width="0.9"/><rect x="1007.84" y="250.18" width="4.00" height="4.00" fill="white" stroke="rgb(95,95,95)" stroke-width="0.9"/><rect x="1009.40" y="250.27" width="4.00" height="4.00" fill="white" stroke="rgb(95,95,95)" stroke-width="0.9"/><polyline points="777.50,252.42 779.06,252.38 780.62,252.33 782.18,252.29 783.74,252.24 785.30,252.19 786.86,252.14 788.42,252.09 789.97,252.03 791.53,251.98 793.09,251.92 794.65,251.87 796.21,251.81 797.77,251.75 799.33,251.68 800.89,251.62 802.45,251.55 804.01,251.48 805.57,251.41 807.13,251.34 808.69,251.27 810.25,251.19 811.81,251.11 813.36,251.03 814.92,250.94 816.48,250.86 818.04,250.76 819.60,250.67 821.16,250.57 822.72,250.47 824.28,250.36 825.84,250.25 827.40,250.14 828.96,250.02 830.52,249.90 832.08,249.77 833.64,249.63 835.20,249.49 836.75,249.34 838.31,249.19 839.87,249.02 841.43,248.85 842.99,248.67 844.55,248.48 846.11,248.28 847.67,248.07 849.23,247.84 850.79,247.61 852.35,247.36 853.91,247.09 855.47,246.80 857.03,246.50 858.59,246.18 860.14,245.83 861.70,245.46 863.26,245.06 864.82,244.64 866.38,244.18 867.94,243.68 869.50,243.14 871.06,242.56 872.62,241.94 874.18,241.26 875.74,240.52 877.30,239.72 878.86,238.85 880.42,237.90 881.98,236.87 883.53,235.76 885.09,234.56 886.65,233.27 888.21,231.90 889.77,230.48 891.33,229.02 892.89,227.59 894.45,226.29 896.01,225.28 897.57,224.83 899.13,225.34 900.69,227.43 902.25,231.92 903.81,239.69 905.37,250.88 906.92,263.01 908.48,269.44 910.04,263.78 911.60,247.97 913.16,230.08 914.72,215.81 916.28,206.66 917.84,201.97 919.40,200.60 920.96,201.46 922.52,203.69 924.08,206.69 925.64,210.03 927.20,213.45 928.76,216.76 930.31,219.89 931.87,222.79 933.43,225.43 934.99,227.83 936.55,229.98 938.11,231.93 939.67,233.67 941.23,235.23 942.79,236.64 944.35,237.90 945.91,239.04 947.47,240.07 949.03,240.99 950.59,241.84 952.15,242.60 953.70,243.29 955.26,243.93 956.82,244.51 958.38,245.04 959.94,245.53 961.50,245.98 963.06,246.39 964.62,246.78 966.18,247.13 967.74,247.46 969.30,247.77 970.86,248.05 972.42,248.32 973.98,248.57 975.54,248.80 977.09,249.02 978.65,249.23 980.21,249.43 981.77,249.61 983.33,249.78 984.89,249.95 986.45,250.10 988.01,250.25 989.57,250.39 991.13,250.52 992.69,250.65 994.25,250.77 995.81,250.89 997.37,251.00 998.93,251.10 1000.48,251.20 1002.04,251.30 1003.60,251.39 1005.16,251.48 1006.72,251.57 1008.28,251.65 1009.84,251.73 1011.40,251.81" fill="none" stroke="rgb(234,108,108)" stroke-width="1.0" stroke-linejoin="round" /><circle cx="777.50" cy="252.42" r="1.90" fill="white" stroke="rgb(234,108,108)" stroke-width="0.9"/><circle cx="779.06" cy="252.38" r="1.90" fill="white" stroke="rgb(234,108,108)" stroke-width="0.9"/><circle cx="780.62" cy="252.33" r="1.90" fill="white" stroke="rgb(234,108,108)" stroke-width="0.9"/><circle cx="782.18" cy="252.29" r="1.90" fill="white" stroke="rgb(234,108,108)" stroke-width="0.9"/><circle cx="783.74" cy="252.24" r="1.90" fill="white" stroke="rgb(234,108,108)" stroke-width="0.9"/><circle cx="785.30" cy="252.19" r="1.90" fill="white" stroke="rgb(234,108,108)" stroke-width="0.9"/><circle cx="786.86" cy="252.14" r="1.90" fill="white" stroke="rgb(234,108,108)" stroke-width="0.9"/><circle cx="788.42" cy="252.09" r="1.90" fill="white" stroke="rgb(234,108,108)" stroke-width="0.9"/><circle cx="789.97" cy="252.03" r="1.90" fill="white" stroke="rgb(234,108,108)" stroke-width="0.9"/><circle cx="791.53" cy="251.98" r="1.90" fill="white" stroke="rgb(234,108,108)" stroke-width="0.9"/><circle cx="793.09" cy="251.92" r="1.90" fill="white" stroke="rgb(234,108,108)" stroke-width="0.9"/><circle cx="794.65" cy="251.87" r="1.90" fill="white" stroke="rgb(234,108,108)" stroke-width="0.9"/><circle cx="796.21" cy="251.81" r="1.90" fill="white" stroke="rgb(234,108,108)" stroke-width="0.9"/><circle cx="797.77" cy="251.75" r="1.90" fill="white" stroke="rgb(234,108,108)" stroke-width="0.9"/><circle cx="799.33" cy="251.68" r="1.90" fill="white" stroke="rgb(234,108,108)" stroke-width="0.9"/><circle cx="800.89" cy="251.62" r="1.90" fill="white" stroke="rgb(234,108,108)" stroke-width="0.9"/><circle cx="802.45" cy="251.55" r="1.90" fill="white" stroke="rgb(234,108,108)" stroke-width="0.9"/><circle cx="804.01" cy="251.48" r="1.90" fill="white" stroke="rgb(234,108,108)" stroke-width="0.9"/><circle cx="805.57" cy="251.41" r="1.90" fill="white" stroke="rgb(234,108,108)" stroke-width="0.9"/><circle cx="807.13" cy="251.34" r="1.90" fill="white" stroke="rgb(234,108,108)" stroke-width="0.9"/><circle cx="808.69" cy="251.27" r="1.90" fill="white" stroke="rgb(234,108,108)" stroke-width="0.9"/><circle cx="810.25" cy="251.19" r="1.90" fill="white" stroke="rgb(234,108,108)" stroke-width="0.9"/><circle cx="811.81" cy="251.11" r="1.90" fill="white" stroke="rgb(234,108,108)" stroke-width="0.9"/><circle cx="813.36" cy="251.03" r="1.90" fill="white" stroke="rgb(234,108,108)" stroke-width="0.9"/><circle cx="814.92" cy="250.94" r="1.90" fill="white" stroke="rgb(234,108,108)" stroke-width="0.9"/><circle cx="816.48" cy="250.86" r="1.90" fill="white" stroke="rgb(234,108,108)" stroke-width="0.9"/><circle cx="818.04" cy="250.76" r="1.90" fill="white" stroke="rgb(234,108,108)" stroke-width="0.9"/><circle cx="819.60" cy="250.67" r="1.90" fill="white" stroke="rgb(234,108,108)" stroke-width="0.9"/><circle cx="821.16" cy="250.57" r="1.90" fill="white" stroke="rgb(234,108,108)" stroke-width="0.9"/><circle cx="822.72" cy="250.47" r="1.90" fill="white" stroke="rgb(234,108,108)" stroke-width="0.9"/><circle cx="824.28" cy="250.36" r="1.90" fill="white" stroke="rgb(234,108,108)" stroke-width="0.9"/><circle cx="825.84" cy="250.25" r="1.90" fill="white" stroke="rgb(234,108,108)" stroke-width="0.9"/><circle cx="827.40" cy="250.14" r="1.90" fill="white" stroke="rgb(234,108,108)" stroke-width="0.9"/><circle cx="828.96" cy="250.02" r="1.90" fill="white" stroke="rgb(234,108,108)" stroke-width="0.9"/><circle cx="830.52" cy="249.90" r="1.90" fill="white" stroke="rgb(234,108,108)" stroke-width="0.9"/><circle cx="832.08" cy="249.77" r="1.90" fill="white" stroke="rgb(234,108,108)" stroke-width="0.9"/><circle cx="833.64" cy="249.63" r="1.90" fill="white" stroke="rgb(234,108,108)" stroke-width="0.9"/><circle cx="835.20" cy="249.49" r="1.90" fill="white" stroke="rgb(234,108,108)" stroke-width="0.9"/><circle cx="836.75" cy="249.34" r="1.90" fill="white" stroke="rgb(234,108,108)" stroke-width="0.9"/><circle cx="838.31" cy="249.19" r="1.90" fill="white" stroke="rgb(234,108,108)" stroke-width="0.9"/><circle cx="839.87" cy="249.02" r="1.90" fill="white" stroke="rgb(234,108,108)" stroke-width="0.9"/><circle cx="841.43" cy="248.85" r="1.90" fill="white" stroke="rgb(234,108,108)" stroke-width="0.9"/><circle cx="842.99" cy="248.67" r="1.90" fill="white" stroke="rgb(234,108,108)" stroke-width="0.9"/><circle cx="844.55" cy="248.48" r="1.90" fill="white" stroke="rgb(234,108,108)" stroke-width="0.9"/><circle cx="846.11" cy="248.28" r="1.90" fill="white" stroke="rgb(234,108,108)" stroke-width="0.9"/><circle cx="847.67" cy="248.07" r="1.90" fill="white" stroke="rgb(234,108,108)" stroke-width="0.9"/><circle cx="849.23" cy="247.84" r="1.90" fill="white" stroke="rgb(234,108,108)" stroke-width="0.9"/><circle cx="850.79" cy="247.61" r="1.90" fill="white" stroke="rgb(234,108,108)" stroke-width="0.9"/><circle cx="852.35" cy="247.36" r="1.90" fill="white" stroke="rgb(234,108,108)" stroke-width="0.9"/><circle cx="853.91" cy="247.09" r="1.90" fill="white" stroke="rgb(234,108,108)" stroke-width="0.9"/><circle cx="855.47" cy="246.80" r="1.90" fill="white" stroke="rgb(234,108,108)" stroke-width="0.9"/><circle cx="857.03" cy="246.50" r="1.90" fill="white" stroke="rgb(234,108,108)" stroke-width="0.9"/><circle cx="858.59" cy="246.18" r="1.90" fill="white" stroke="rgb(234,108,108)" stroke-width="0.9"/><circle cx="860.14" cy="245.83" r="1.90" fill="white" stroke="rgb(234,108,108)" stroke-width="0.9"/><circle cx="861.70" cy="245.46" r="1.90" fill="white" stroke="rgb(234,108,108)" stroke-width="0.9"/><circle cx="863.26" cy="245.06" r="1.90" fill="white" stroke="rgb(234,108,108)" stroke-width="0.9"/><circle cx="864.82" cy="244.64" r="1.90" fill="white" stroke="rgb(234,108,108)" stroke-width="0.9"/><circle cx="866.38" cy="244.18" r="1.90" fill="white" stroke="rgb(234,108,108)" stroke-width="0.9"/><circle cx="867.94" cy="243.68" r="1.90" fill="white" stroke="rgb(234,108,108)" stroke-width="0.9"/><circle cx="869.50" cy="243.14" r="1.90" fill="white" stroke="rgb(234,108,108)" stroke-width="0.9"/><circle cx="871.06" cy="242.56" r="1.90" fill="white" stroke="rgb(234,108,108)" stroke-width="0.9"/><circle cx="872.62" cy="241.94" r="1.90" fill="white" stroke="rgb(234,108,108)" stroke-width="0.9"/><circle cx="874.18" cy="241.26" r="1.90" fill="white" stroke="rgb(234,108,108)" stroke-width="0.9"/><circle cx="875.74" cy="240.52" r="1.90" fill="white" stroke="rgb(234,108,108)" stroke-width="0.9"/><circle cx="877.30" cy="239.72" r="1.90" fill="white" stroke="rgb(234,108,108)" stroke-width="0.9"/><circle cx="878.86" cy="238.85" r="1.90" fill="white" stroke="rgb(234,108,108)" stroke-width="0.9"/><circle cx="880.42" cy="237.90" r="1.90" fill="white" stroke="rgb(234,108,108)" stroke-width="0.9"/><circle cx="881.98" cy="236.87" r="1.90" fill="white" stroke="rgb(234,108,108)" stroke-width="0.9"/><circle cx="883.53" cy="235.76" r="1.90" fill="white" stroke="rgb(234,108,108)" stroke-width="0.9"/><circle cx="885.09" cy="234.56" r="1.90" fill="white" stroke="rgb(234,108,108)" stroke-width="0.9"/><circle cx="886.65" cy="233.27" r="1.90" fill="white" stroke="rgb(234,108,108)" stroke-width="0.9"/><circle cx="888.21" cy="231.90" r="1.90" fill="white" stroke="rgb(234,108,108)" stroke-width="0.9"/><circle cx="889.77" cy="230.48" r="1.90" fill="white" stroke="rgb(234,108,108)" stroke-width="0.9"/><circle cx="891.33" cy="229.02" r="1.90" fill="white" stroke="rgb(234,108,108)" stroke-width="0.9"/><circle cx="892.89" cy="227.59" r="1.90" fill="white" stroke="rgb(234,108,108)" stroke-width="0.9"/><circle cx="894.45" cy="226.29" r="1.90" fill="white" stroke="rgb(234,108,108)" stroke-width="0.9"/><circle cx="896.01" cy="225.28" r="1.90" fill="white" stroke="rgb(234,108,108)" stroke-width="0.9"/><circle cx="897.57" cy="224.83" r="1.90" fill="white" stroke="rgb(234,108,108)" stroke-width="0.9"/><circle cx="899.13" cy="225.34" r="1.90" fill="white" stroke="rgb(234,108,108)" stroke-width="0.9"/><circle cx="900.69" cy="227.43" r="1.90" fill="white" stroke="rgb(234,108,108)" stroke-width="0.9"/><circle cx="902.25" cy="231.92" r="1.90" fill="white" stroke="rgb(234,108,108)" stroke-width="0.9"/><circle cx="903.81" cy="239.69" r="1.90" fill="white" stroke="rgb(234,108,108)" stroke-width="0.9"/><circle cx="905.37" cy="250.88" r="1.90" fill="white" stroke="rgb(234,108,108)" stroke-width="0.9"/><circle cx="906.92" cy="263.01" r="1.90" fill="white" stroke="rgb(234,108,108)" stroke-width="0.9"/><circle cx="908.48" cy="269.44" r="1.90" fill="white" stroke="rgb(234,108,108)" stroke-width="0.9"/><circle cx="910.04" cy="263.78" r="1.90" fill="white" stroke="rgb(234,108,108)" stroke-width="0.9"/><circle cx="911.60" cy="247.97" r="1.90" fill="white" stroke="rgb(234,108,108)" stroke-width="0.9"/><circle cx="913.16" cy="230.08" r="1.90" fill="white" stroke="rgb(234,108,108)" stroke-width="0.9"/><circle cx="914.72" cy="215.81" r="1.90" fill="white" stroke="rgb(234,108,108)" stroke-width="0.9"/><circle cx="916.28" cy="206.66" r="1.90" fill="white" stroke="rgb(234,108,108)" stroke-width="0.9"/><circle cx="917.84" cy="201.97" r="1.90" fill="white" stroke="rgb(234,108,108)" stroke-width="0.9"/><circle cx="919.40" cy="200.60" r="1.90" fill="white" stroke="rgb(234,108,108)" stroke-width="0.9"/><circle cx="920.96" cy="201.46" r="1.90" fill="white" stroke="rgb(234,108,108)" stroke-width="0.9"/><circle cx="922.52" cy="203.69" r="1.90" fill="white" stroke="rgb(234,108,108)" stroke-width="0.9"/><circle cx="924.08" cy="206.69" r="1.90" fill="white" stroke="rgb(234,108,108)" stroke-width="0.9"/><circle cx="925.64" cy="210.03" r="1.90" fill="white" stroke="rgb(234,108,108)" stroke-width="0.9"/><circle cx="927.20" cy="213.45" r="1.90" fill="white" stroke="rgb(234,108,108)" stroke-width="0.9"/><circle cx="928.76" cy="216.76" r="1.90" fill="white" stroke="rgb(234,108,108)" stroke-width="0.9"/><circle cx="930.31" cy="219.89" r="1.90" fill="white" stroke="rgb(234,108,108)" stroke-width="0.9"/><circle cx="931.87" cy="222.79" r="1.90" fill="white" stroke="rgb(234,108,108)" stroke-width="0.9"/><circle cx="933.43" cy="225.43" r="1.90" fill="white" stroke="rgb(234,108,108)" stroke-width="0.9"/><circle cx="934.99" cy="227.83" r="1.90" fill="white" stroke="rgb(234,108,108)" stroke-width="0.9"/><circle cx="936.55" cy="229.98" r="1.90" fill="white" stroke="rgb(234,108,108)" stroke-width="0.9"/><circle cx="938.11" cy="231.93" r="1.90" fill="white" stroke="rgb(234,108,108)" stroke-width="0.9"/><circle cx="939.67" cy="233.67" r="1.90" fill="white" stroke="rgb(234,108,108)" stroke-width="0.9"/><circle cx="941.23" cy="235.23" r="1.90" fill="white" stroke="rgb(234,108,108)" stroke-width="0.9"/><circle cx="942.79" cy="236.64" r="1.90" fill="white" stroke="rgb(234,108,108)" stroke-width="0.9"/><circle cx="944.35" cy="237.90" r="1.90" fill="white" stroke="rgb(234,108,108)" stroke-width="0.9"/><circle cx="945.91" cy="239.04" r="1.90" fill="white" stroke="rgb(234,108,108)" stroke-width="0.9"/><circle cx="947.47" cy="240.07" r="1.90" fill="white" stroke="rgb(234,108,108)" stroke-width="0.9"/><circle cx="949.03" cy="240.99" r="1.90" fill="white" stroke="rgb(234,108,108)" stroke-width="0.9"/><circle cx="950.59" cy="241.84" r="1.90" fill="white" stroke="rgb(234,108,108)" stroke-width="0.9"/><circle cx="952.15" cy="242.60" r="1.90" fill="white" stroke="rgb(234,108,108)" stroke-width="0.9"/><circle cx="953.70" cy="243.29" r="1.90" fill="white" stroke="rgb(234,108,108)" stroke-width="0.9"/><circle cx="955.26" cy="243.93" r="1.90" fill="white" stroke="rgb(234,108,108)" stroke-width="0.9"/><circle cx="956.82" cy="244.51" r="1.90" fill="white" stroke="rgb(234,108,108)" stroke-width="0.9"/><circle cx="958.38" cy="245.04" r="1.90" fill="white" stroke="rgb(234,108,108)" stroke-width="0.9"/><circle cx="959.94" cy="245.53" r="1.90" fill="white" stroke="rgb(234,108,108)" stroke-width="0.9"/><circle cx="961.50" cy="245.98" r="1.90" fill="white" stroke="rgb(234,108,108)" stroke-width="0.9"/><circle cx="963.06" cy="246.39" r="1.90" fill="white" stroke="rgb(234,108,108)" stroke-width="0.9"/><circle cx="964.62" cy="246.78" r="1.90" fill="white" stroke="rgb(234,108,108)" stroke-width="0.9"/><circle cx="966.18" cy="247.13" r="1.90" fill="white" stroke="rgb(234,108,108)" stroke-width="0.9"/><circle cx="967.74" cy="247.46" r="1.90" fill="white" stroke="rgb(234,108,108)" stroke-width="0.9"/><circle cx="969.30" cy="247.77" r="1.90" fill="white" stroke="rgb(234,108,108)" stroke-width="0.9"/><circle cx="970.86" cy="248.05" r="1.90" fill="white" stroke="rgb(234,108,108)" stroke-width="0.9"/><circle cx="972.42" cy="248.32" r="1.90" fill="white" stroke="rgb(234,108,108)" stroke-width="0.9"/><circle cx="973.98" cy="248.57" r="1.90" fill="white" stroke="rgb(234,108,108)" stroke-width="0.9"/><circle cx="975.54" cy="248.80" r="1.90" fill="white" stroke="rgb(234,108,108)" stroke-width="0.9"/><circle cx="977.09" cy="249.02" r="1.90" fill="white" stroke="rgb(234,108,108)" stroke-width="0.9"/><circle cx="978.65" cy="249.23" r="1.90" fill="white" stroke="rgb(234,108,108)" stroke-width="0.9"/><circle cx="980.21" cy="249.43" r="1.90" fill="white" stroke="rgb(234,108,108)" stroke-width="0.9"/><circle cx="981.77" cy="249.61" r="1.90" fill="white" stroke="rgb(234,108,108)" stroke-width="0.9"/><circle cx="983.33" cy="249.78" r="1.90" fill="white" stroke="rgb(234,108,108)" stroke-width="0.9"/><circle cx="984.89" cy="249.95" r="1.90" fill="white" stroke="rgb(234,108,108)" stroke-width="0.9"/><circle cx="986.45" cy="250.10" r="1.90" fill="white" stroke="rgb(234,108,108)" stroke-width="0.9"/><circle cx="988.01" cy="250.25" r="1.90" fill="white" stroke="rgb(234,108,108)" stroke-width="0.9"/><circle cx="989.57" cy="250.39" r="1.90" fill="white" stroke="rgb(234,108,108)" stroke-width="0.9"/><circle cx="991.13" cy="250.52" r="1.90" fill="white" stroke="rgb(234,108,108)" stroke-width="0.9"/><circle cx="992.69" cy="250.65" r="1.90" fill="white" stroke="rgb(234,108,108)" stroke-width="0.9"/><circle cx="994.25" cy="250.77" r="1.90" fill="white" stroke="rgb(234,108,108)" stroke-width="0.9"/><circle cx="995.81" cy="250.89" r="1.90" fill="white" stroke="rgb(234,108,108)" stroke-width="0.9"/><circle cx="997.37" cy="251.00" r="1.90" fill="white" stroke="rgb(234,108,108)" stroke-width="0.9"/><circle cx="998.93" cy="251.10" r="1.90" fill="white" stroke="rgb(234,108,108)" stroke-width="0.9"/><circle cx="1000.48" cy="251.20" r="1.90" fill="white" stroke="rgb(234,108,108)" stroke-width="0.9"/><circle cx="1002.04" cy="251.30" r="1.90" fill="white" stroke="rgb(234,108,108)" stroke-width="0.9"/><circle cx="1003.60" cy="251.39" r="1.90" fill="white" stroke="rgb(234,108,108)" stroke-width="0.9"/><circle cx="1005.16" cy="251.48" r="1.90" fill="white" stroke="rgb(234,108,108)" stroke-width="0.9"/><circle cx="1006.72" cy="251.57" r="1.90" fill="white" stroke="rgb(234,108,108)" stroke-width="0.9"/><circle cx="1008.28" cy="251.65" r="1.90" fill="white" stroke="rgb(234,108,108)" stroke-width="0.9"/><circle cx="1009.84" cy="251.73" r="1.90" fill="white" stroke="rgb(234,108,108)" stroke-width="0.9"/><circle cx="1011.40" cy="251.81" r="1.90" fill="white" stroke="rgb(234,108,108)" stroke-width="0.9"/><polyline points="777.50,256.56 779.06,256.55 780.62,256.55 782.18,256.54 783.74,256.53 785.30,256.52 786.86,256.52 788.42,256.51 789.97,256.50 791.53,256.49 793.09,256.48 794.65,256.48 796.21,256.47 797.77,256.46 799.33,256.45 800.89,256.44 802.45,256.42 804.01,256.41 805.57,256.40 807.13,256.39 808.69,256.37 810.25,256.36 811.81,256.35 813.36,256.33 814.92,256.31 816.48,256.30 818.04,256.28 819.60,256.26 821.16,256.24 822.72,256.22 824.28,256.20 825.84,256.17 827.40,256.15 828.96,256.12 830.52,256.10 832.08,256.07 833.64,256.04 835.20,256.00 836.75,255.97 838.31,255.93 839.87,255.89 841.43,255.85 842.99,255.80 844.55,255.75 846.11,255.70 847.67,255.64 849.23,255.58 850.79,255.51 852.35,255.44 853.91,255.36 855.47,255.28 857.03,255.18 858.59,255.08 860.14,254.97 861.70,254.85 863.26,254.71 864.82,254.56 866.38,254.40 867.94,254.21 869.50,254.00 871.06,253.77 872.62,253.51 874.18,253.21 875.74,252.87 877.30,252.48 878.86,252.03 880.42,251.51 881.98,250.90 883.53,250.17 885.09,249.31 886.65,248.27 888.21,247.00 889.77,245.43 891.33,243.47 892.89,240.96 894.45,237.71 896.01,233.39 897.57,227.52 899.13,219.34 900.69,207.62 902.25,190.44 903.81,165.07 905.37,129.12 906.92,86.12 908.48,56.08 910.04,64.54 911.60,103.35 913.16,144.80 914.72,176.40 916.28,198.12 917.84,212.84 919.40,222.95 920.96,230.09 922.52,235.27 924.08,239.11 925.64,242.04 927.20,244.31 928.76,246.10 930.31,247.54 931.87,248.71 933.43,249.67 934.99,250.48 936.55,251.15 938.11,251.73 939.67,252.22 941.23,252.64 942.79,253.01 944.35,253.33 945.91,253.62 947.47,253.87 949.03,254.09 950.59,254.29 952.15,254.46 953.70,254.62 955.26,254.77 956.82,254.90 958.38,255.01 959.94,255.12 961.50,255.22 963.06,255.31 964.62,255.39 966.18,255.47 967.74,255.54 969.30,255.60 970.86,255.66 972.42,255.72 973.98,255.77 975.54,255.82 977.09,255.86 978.65,255.91 980.21,255.94 981.77,255.98 983.33,256.02 984.89,256.05 986.45,256.08 988.01,256.11 989.57,256.13 991.13,256.16 992.69,256.18 994.25,256.21 995.81,256.23 997.37,256.25 998.93,256.27 1000.48,256.29 1002.04,256.30 1003.60,256.32 1005.16,256.34 1006.72,256.35 1008.28,256.37 1009.84,256.38 1011.40,256.39" fill="none" stroke="rgb(78,134,222)" stroke-width="1.0" stroke-linejoin="round" /><path d="M777.50,253.66 L780.00,258.36 L775.00,258.36 Z" fill="white" stroke="rgb(78,134,222)" stroke-width="0.9"/><path d="M779.06,253.65 L781.56,258.35 L776.56,258.35 Z" fill="white" stroke="rgb(78,134,222)" stroke-width="0.9"/><path d="M780.62,253.65 L783.12,258.35 L778.12,258.35 Z" fill="white" stroke="rgb(78,134,222)" stroke-width="0.9"/><path d="M782.18,253.64 L784.68,258.34 L779.68,258.34 Z" fill="white" stroke="rgb(78,134,222)" stroke-width="0.9"/><path d="M783.74,253.63 L786.24,258.33 L781.24,258.33 Z" fill="white" stroke="rgb(78,134,222)" stroke-width="0.9"/><path d="M785.30,253.62 L787.80,258.32 L782.80,258.32 Z" fill="white" stroke="rgb(78,134,222)" stroke-width="0.9"/><path d="M786.86,253.62 L789.36,258.32 L784.36,258.32 Z" fill="white" stroke="rgb(78,134,222)" stroke-width="0.9"/><path d="M788.42,253.61 L790.92,258.31 L785.92,258.31 Z" fill="white" stroke="rgb(78,134,222)" stroke-width="0.9"/><path d="M789.97,253.60 L792.47,258.30 L787.47,258.30 Z" fill="white" stroke="rgb(78,134,222)" stroke-width="0.9"/><path d="M791.53,253.59 L794.03,258.29 L789.03,258.29 Z" fill="white" stroke="rgb(78,134,222)" stroke-width="0.9"/><path d="M793.09,253.58 L795.59,258.28 L790.59,258.28 Z" fill="white" stroke="rgb(78,134,222)" stroke-width="0.9"/><path d="M794.65,253.58 L797.15,258.28 L792.15,258.28 Z" fill="white" stroke="rgb(78,134,222)" stroke-width="0.9"/><path d="M796.21,253.57 L798.71,258.27 L793.71,258.27 Z" fill="white" stroke="rgb(78,134,222)" stroke-width="0.9"/><path d="M797.77,253.56 L800.27,258.26 L795.27,258.26 Z" fill="white" stroke="rgb(78,134,222)" stroke-width="0.9"/><path d="M799.33,253.55 L801.83,258.25 L796.83,258.25 Z" fill="white" stroke="rgb(78,134,222)" stroke-width="0.9"/><path d="M800.89,253.54 L803.39,258.24 L798.39,258.24 Z" fill="white" stroke="rgb(78,134,222)" stroke-width="0.9"/><path d="M802.45,253.52 L804.95,258.22 L799.95,258.22 Z" fill="white" stroke="rgb(78,134,222)" stroke-width="0.9"/><path d="M804.01,253.51 L806.51,258.21 L801.51,258.21 Z" fill="white" stroke="rgb(78,134,222)" stroke-width="0.9"/><path d="M805.57,253.50 L808.07,258.20 L803.07,258.20 Z" fill="white" stroke="rgb(78,134,222)" stroke-width="0.9"/><path d="M807.13,253.49 L809.63,258.19 L804.63,258.19 Z" fill="white" stroke="rgb(78,134,222)" stroke-width="0.9"/><path d="M808.69,253.47 L811.19,258.17 L806.19,258.17 Z" fill="white" stroke="rgb(78,134,222)" stroke-width="0.9"/><path d="M810.25,253.46 L812.75,258.16 L807.75,258.16 Z" fill="white" stroke="rgb(78,134,222)" stroke-width="0.9"/><path d="M811.81,253.45 L814.31,258.15 L809.31,258.15 Z" fill="white" stroke="rgb(78,134,222)" stroke-width="0.9"/><path d="M813.36,253.43 L815.86,258.13 L810.86,258.13 Z" fill="white" stroke="rgb(78,134,222)" stroke-width="0.9"/><path d="M814.92,253.41 L817.42,258.11 L812.42,258.11 Z" fill="white" stroke="rgb(78,134,222)" stroke-width="0.9"/><path d="M816.48,253.40 L818.98,258.10 L813.98,258.10 Z" fill="white" stroke="rgb(78,134,222)" stroke-width="0.9"/><path d="M818.04,253.38 L820.54,258.08 L815.54,258.08 Z" fill="white" stroke="rgb(78,134,222)" stroke-width="0.9"/><path d="M819.60,253.36 L822.10,258.06 L817.10,258.06 Z" fill="white" stroke="rgb(78,134,222)" stroke-width="0.9"/><path d="M821.16,253.34 L823.66,258.04 L818.66,258.04 Z" fill="white" stroke="rgb(78,134,222)" stroke-width="0.9"/><path d="M822.72,253.32 L825.22,258.02 L820.22,258.02 Z" fill="white" stroke="rgb(78,134,222)" stroke-width="0.9"/><path d="M824.28,253.30 L826.78,258.00 L821.78,258.00 Z" fill="white" stroke="rgb(78,134,222)" stroke-width="0.9"/><path d="M825.84,253.27 L828.34,257.97 L823.34,257.97 Z" fill="white" stroke="rgb(78,134,222)" stroke-width="0.9"/><path d="M827.40,253.25 L829.90,257.95 L824.90,257.95 Z" fill="white" stroke="rgb(78,134,222)" stroke-width="0.9"/><path d="M828.96,253.22 L831.46,257.92 L826.46,257.92 Z" fill="white" stroke="rgb(78,134,222)" stroke-width="0.9"/><path d="M830.52,253.20 L833.02,257.90 L828.02,257.90 Z" fill="white" stroke="rgb(78,134,222)" stroke-width="0.9"/><path d="M832.08,253.17 L834.58,257.87 L829.58,257.87 Z" fill="white" stroke="rgb(78,134,222)" stroke-width="0.9"/><path d="M833.64,253.14 L836.14,257.84 L831.14,257.84 Z" fill="white" stroke="rgb(78,134,222)" stroke-width="0.9"/><path d="M835.20,253.10 L837.70,257.80 L832.70,257.80 Z" fill="white" stroke="rgb(78,134,222)" stroke-width="0.9"/><path d="M836.75,253.07 L839.25,257.77 L834.25,257.77 Z" fill="white" stroke="rgb(78,134,222)" stroke-width="0.9"/><path d="M838.31,253.03 L840.81,257.73 L835.81,257.73 Z" fill="white" stroke="rgb(78,134,222)" stroke-width="0.9"/><path d="M839.87,252.99 L842.37,257.69 L837.37,257.69 Z" fill="white" stroke="rgb(78,134,222)" stroke-width="0.9"/><path d="M841.43,252.95 L843.93,257.65 L838.93,257.65 Z" fill="white" stroke="rgb(78,134,222)" stroke-width="0.9"/><path d="M842.99,252.90 L845.49,257.60 L840.49,257.60 Z" fill="white" stroke="rgb(78,134,222)" stroke-width="0.9"/><path d="M844.55,252.85 L847.05,257.55 L842.05,257.55 Z" fill="white" stroke="rgb(78,134,222)" stroke-width="0.9"/><path d="M846.11,252.80 L848.61,257.50 L843.61,257.50 Z" fill="white" stroke="rgb(78,134,222)" stroke-width="0.9"/><path d="M847.67,252.74 L850.17,257.44 L845.17,257.44 Z" fill="white" stroke="rgb(78,134,222)" stroke-width="0.9"/><path d="M849.23,252.68 L851.73,257.38 L846.73,257.38 Z" fill="white" stroke="rgb(78,134,222)" stroke-width="0.9"/><path d="M850.79,252.61 L853.29,257.31 L848.29,257.31 Z" fill="white" stroke="rgb(78,134,222)" stroke-width="0.9"/><path d="M852.35,252.54 L854.85,257.24 L849.85,257.24 Z" fill="white" stroke="rgb(78,134,222)" stroke-width="0.9"/><path d="M853.91,252.46 L856.41,257.16 L851.41,257.16 Z" fill="white" stroke="rgb(78,134,222)" stroke-width="0.9"/><path d="M855.47,252.38 L857.97,257.08 L852.97,257.08 Z" fill="white" stroke="rgb(78,134,222)" stroke-width="0.9"/><path d="M857.03,252.28 L859.53,256.98 L854.53,256.98 Z" fill="white" stroke="rgb(78,134,222)" stroke-width="0.9"/><path d="M858.59,252.18 L861.09,256.88 L856.09,256.88 Z" fill="white" stroke="rgb(78,134,222)" stroke-width="0.9"/><path d="M860.14,252.07 L862.64,256.77 L857.64,256.77 Z" fill="white" stroke="rgb(78,134,222)" stroke-width="0.9"/><path d="M861.70,251.95 L864.20,256.65 L859.20,256.65 Z" fill="white" stroke="rgb(78,134,222)" stroke-width="0.9"/><path d="M863.26,251.81 L865.76,256.51 L860.76,256.51 Z" fill="white" stroke="rgb(78,134,222)" stroke-width="0.9"/><path d="M864.82,251.66 L867.32,256.36 L862.32,256.36 Z" fill="white" stroke="rgb(78,134,222)" stroke-width="0.9"/><path d="M866.38,251.50 L868.88,256.20 L863.88,256.20 Z" fill="white" stroke="rgb(78,134,222)" stroke-width="0.9"/><path d="M867.94,251.31 L870.44,256.01 L865.44,256.01 Z" fill="white" stroke="rgb(78,134,222)" stroke-width="0.9"/><path d="M869.50,251.10 L872.00,255.80 L867.00,255.80 Z" fill="white" stroke="rgb(78,134,222)" stroke-width="0.9"/><path d="M871.06,250.87 L873.56,255.57 L868.56,255.57 Z" fill="white" stroke="rgb(78,134,222)" stroke-width="0.9"/><path d="M872.62,250.61 L875.12,255.31 L870.12,255.31 Z" fill="white" stroke="rgb(78,134,222)" stroke-width="0.9"/><path d="M874.18,250.31 L876.68,255.01 L871.68,255.01 Z" fill="white" stroke="rgb(78,134,222)" stroke-width="0.9"/><path d="M875.74,249.97 L878.24,254.67 L873.24,254.67 Z" fill="white" stroke="rgb(78,134,222)" stroke-width="0.9"/><path d="M877.30,249.58 L879.80,254.28 L874.80,254.28 Z" fill="white" stroke="rgb(78,134,222)" stroke-width="0.9"/><path d="M878.86,249.13 L881.36,253.83 L876.36,253.83 Z" fill="white" stroke="rgb(78,134,222)" stroke-width="0.9"/><path d="M880.42,248.61 L882.92,253.31 L877.92,253.31 Z" fill="white" stroke="rgb(78,134,222)" stroke-width="0.9"/><path d="M881.98,248.00 L884.48,252.70 L879.48,252.70 Z" fill="white" stroke="rgb(78,134,222)" stroke-width="0.9"/><path d="M883.53,247.27 L886.03,251.97 L881.03,251.97 Z" fill="white" stroke="rgb(78,134,222)" stroke-width="0.9"/><path d="M885.09,246.41 L887.59,251.11 L882.59,251.11 Z" fill="white" stroke="rgb(78,134,222)" stroke-width="0.9"/><path d="M886.65,245.37 L889.15,250.07 L884.15,250.07 Z" fill="white" stroke="rgb(78,134,222)" stroke-width="0.9"/><path d="M888.21,244.10 L890.71,248.80 L885.71,248.80 Z" fill="white" stroke="rgb(78,134,222)" stroke-width="0.9"/><path d="M889.77,242.53 L892.27,247.23 L887.27,247.23 Z" fill="white" stroke="rgb(78,134,222)" stroke-width="0.9"/><path d="M891.33,240.57 L893.83,245.27 L888.83,245.27 Z" fill="white" stroke="rgb(78,134,222)" stroke-width="0.9"/><path d="M892.89,238.06 L895.39,242.76 L890.39,242.76 Z" fill="white" stroke="rgb(78,134,222)" stroke-width="0.9"/><path d="M894.45,234.81 L896.95,239.51 L891.95,239.51 Z" fill="white" stroke="rgb(78,134,222)" stroke-width="0.9"/><path d="M896.01,230.49 L898.51,235.19 L893.51,235.19 Z" fill="white" stroke="rgb(78,134,222)" stroke-width="0.9"/><path d="M897.57,224.62 L900.07,229.32 L895.07,229.32 Z" fill="white" stroke="rgb(78,134,222)" stroke-width="0.9"/><path d="M899.13,216.44 L901.63,221.14 L896.63,221.14 Z" fill="white" stroke="rgb(78,134,222)" stroke-width="0.9"/><path d="M900.69,204.72 L903.19,209.42 L898.19,209.42 Z" fill="white" stroke="rgb(78,134,222)" stroke-width="0.9"/><path d="M902.25,187.54 L904.75,192.24 L899.75,192.24 Z" fill="white" stroke="rgb(78,134,222)" stroke-width="0.9"/><path d="M903.81,162.17 L906.31,166.87 L901.31,166.87 Z" fill="white" stroke="rgb(78,134,222)" stroke-width="0.9"/><path d="M905.37,126.22 L907.87,130.92 L902.87,130.92 Z" fill="white" stroke="rgb(78,134,222)" stroke-width="0.9"/><path d="M906.92,83.22 L909.42,87.92 L904.42,87.92 Z" fill="white" stroke="rgb(78,134,222)" stroke-width="0.9"/><path d="M908.48,53.18 L910.98,57.88 L905.98,57.88 Z" fill="white" stroke="rgb(78,134,222)" stroke-width="0.9"/><path d="M910.04,61.64 L912.54,66.34 L907.54,66.34 Z" fill="white" stroke="rgb(78,134,222)" stroke-width="0.9"/><path d="M911.60,100.45 L914.10,105.15 L909.10,105.15 Z" fill="white" stroke="rgb(78,134,222)" stroke-width="0.9"/><path d="M913.16,141.90 L915.66,146.60 L910.66,146.60 Z" fill="white" stroke="rgb(78,134,222)" stroke-width="0.9"/><path d="M914.72,173.50 L917.22,178.20 L912.22,178.20 Z" fill="white" stroke="rgb(78,134,222)" stroke-width="0.9"/><path d="M916.28,195.22 L918.78,199.92 L913.78,199.92 Z" fill="white" stroke="rgb(78,134,222)" stroke-width="0.9"/><path d="M917.84,209.94 L920.34,214.64 L915.34,214.64 Z" fill="white" stroke="rgb(78,134,222)" stroke-width="0.9"/><path d="M919.40,220.05 L921.90,224.75 L916.90,224.75 Z" fill="white" stroke="rgb(78,134,222)" stroke-width="0.9"/><path d="M920.96,227.19 L923.46,231.89 L918.46,231.89 Z" fill="white" stroke="rgb(78,134,222)" stroke-width="0.9"/><path d="M922.52,232.37 L925.02,237.07 L920.02,237.07 Z" fill="white" stroke="rgb(78,134,222)" stroke-width="0.9"/><path d="M924.08,236.21 L926.58,240.91 L921.58,240.91 Z" fill="white" stroke="rgb(78,134,222)" stroke-width="0.9"/><path d="M925.64,239.14 L928.14,243.84 L923.14,243.84 Z" fill="white" stroke="rgb(78,134,222)" stroke-width="0.9"/><path d="M927.20,241.41 L929.70,246.11 L924.70,246.11 Z" fill="white" stroke="rgb(78,134,222)" stroke-width="0.9"/><path d="M928.76,243.20 L931.26,247.90 L926.26,247.90 Z" fill="white" stroke="rgb(78,134,222)" stroke-width="0.9"/><path d="M930.31,244.64 L932.81,249.34 L927.81,249.34 Z" fill="white" stroke="rgb(78,134,222)" stroke-width="0.9"/><path d="M931.87,245.81 L934.37,250.51 L929.37,250.51 Z" fill="white" stroke="rgb(78,134,222)" stroke-width="0.9"/><path d="M933.43,246.77 L935.93,251.47 L930.93,251.47 Z" fill="white" stroke="rgb(78,134,222)" stroke-width="0.9"/><path d="M934.99,247.58 L937.49,252.28 L932.49,252.28 Z" fill="white" stroke="rgb(78,134,222)" stroke-width="0.9"/><path d="M936.55,248.25 L939.05,252.95 L934.05,252.95 Z" fill="white" stroke="rgb(78,134,222)" stroke-width="0.9"/><path d="M938.11,248.83 L940.61,253.53 L935.61,253.53 Z" fill="white" stroke="rgb(78,134,222)" stroke-width="0.9"/><path d="M939.67,249.32 L942.17,254.02 L937.17,254.02 Z" fill="white" stroke="rgb(78,134,222)" stroke-width="0.9"/><path d="M941.23,249.74 L943.73,254.44 L938.73,254.44 Z" fill="white" stroke="rgb(78,134,222)" stroke-width="0.9"/><path d="M942.79,250.11 L945.29,254.81 L940.29,254.81 Z" fill="white" stroke="rgb(78,134,222)" stroke-width="0.9"/><path d="M944.35,250.43 L946.85,255.13 L941.85,255.13 Z" fill="white" stroke="rgb(78,134,222)" stroke-width="0.9"/><path d="M945.91,250.72 L948.41,255.42 L943.41,255.42 Z" fill="white" stroke="rgb(78,134,222)" stroke-width="0.9"/><path d="M947.47,250.97 L949.97,255.67 L944.97,255.67 Z" fill="white" stroke="rgb(78,134,222)" stroke-width="0.9"/><path d="M949.03,251.19 L951.53,255.89 L946.53,255.89 Z" fill="white" stroke="rgb(78,134,222)" stroke-width="0.9"/><path d="M950.59,251.39 L953.09,256.09 L948.09,256.09 Z" fill="white" stroke="rgb(78,134,222)" stroke-width="0.9"/><path d="M952.15,251.56 L954.65,256.26 L949.65,256.26 Z" fill="white" stroke="rgb(78,134,222)" stroke-width="0.9"/><path d="M953.70,251.72 L956.20,256.42 L951.20,256.42 Z" fill="white" stroke="rgb(78,134,222)" stroke-width="0.9"/><path d="M955.26,251.87 L957.76,256.57 L952.76,256.57 Z" fill="white" stroke="rgb(78,134,222)" stroke-width="0.9"/><path d="M956.82,252.00 L959.32,256.70 L954.32,256.70 Z" fill="white" stroke="rgb(78,134,222)" stroke-width="0.9"/><path d="M958.38,252.11 L960.88,256.81 L955.88,256.81 Z" fill="white" stroke="rgb(78,134,222)" stroke-width="0.9"/><path d="M959.94,252.22 L962.44,256.92 L957.44,256.92 Z" fill="white" stroke="rgb(78,134,222)" stroke-width="0.9"/><path d="M961.50,252.32 L964.00,257.02 L959.00,257.02 Z" fill="white" stroke="rgb(78,134,222)" stroke-width="0.9"/><path d="M963.06,252.41 L965.56,257.11 L960.56,257.11 Z" fill="white" stroke="rgb(78,134,222)" stroke-width="0.9"/><path d="M964.62,252.49 L967.12,257.19 L962.12,257.19 Z" fill="white" stroke="rgb(78,134,222)" stroke-width="0.9"/><path d="M966.18,252.57 L968.68,257.27 L963.68,257.27 Z" fill="white" stroke="rgb(78,134,222)" stroke-width="0.9"/><path d="M967.74,252.64 L970.24,257.34 L965.24,257.34 Z" fill="white" stroke="rgb(78,134,222)" stroke-width="0.9"/><path d="M969.30,252.70 L971.80,257.40 L966.80,257.40 Z" fill="white" stroke="rgb(78,134,222)" stroke-width="0.9"/><path d="M970.86,252.76 L973.36,257.46 L968.36,257.46 Z" fill="white" stroke="rgb(78,134,222)" stroke-width="0.9"/><path d="M972.42,252.82 L974.92,257.52 L969.92,257.52 Z" fill="white" stroke="rgb(78,134,222)" stroke-width="0.9"/><path d="M973.98,252.87 L976.48,257.57 L971.48,257.57 Z" fill="white" stroke="rgb(78,134,222)" stroke-width="0.9"/><path d="M975.54,252.92 L978.04,257.62 L973.04,257.62 Z" fill="white" stroke="rgb(78,134,222)" stroke-width="0.9"/><path d="M977.09,252.96 L979.59,257.66 L974.59,257.66 Z" fill="white" stroke="rgb(78,134,222)" stroke-width="0.9"/><path d="M978.65,253.01 L981.15,257.71 L976.15,257.71 Z" fill="white" stroke="rgb(78,134,222)" stroke-width="0.9"/><path d="M980.21,253.04 L982.71,257.74 L977.71,257.74 Z" fill="white" stroke="rgb(78,134,222)" stroke-width="0.9"/><path d="M981.77,253.08 L984.27,257.78 L979.27,257.78 Z" fill="white" stroke="rgb(78,134,222)" stroke-width="0.9"/><path d="M983.33,253.12 L985.83,257.82 L980.83,257.82 Z" fill="white" stroke="rgb(78,134,222)" stroke-width="0.9"/><path d="M984.89,253.15 L987.39,257.85 L982.39,257.85 Z" fill="white" stroke="rgb(78,134,222)" stroke-width="0.9"/><path d="M986.45,253.18 L988.95,257.88 L983.95,257.88 Z" fill="white" stroke="rgb(78,134,222)" stroke-width="0.9"/><path d="M988.01,253.21 L990.51,257.91 L985.51,257.91 Z" fill="white" stroke="rgb(78,134,222)" stroke-width="0.9"/><path d="M989.57,253.23 L992.07,257.93 L987.07,257.93 Z" fill="white" stroke="rgb(78,134,222)" stroke-width="0.9"/><path d="M991.13,253.26 L993.63,257.96 L988.63,257.96 Z" fill="white" stroke="rgb(78,134,222)" stroke-width="0.9"/><path d="M992.69,253.28 L995.19,257.98 L990.19,257.98 Z" fill="white" stroke="rgb(78,134,222)" stroke-width="0.9"/><path d="M994.25,253.31 L996.75,258.01 L991.75,258.01 Z" fill="white" stroke="rgb(78,134,222)" stroke-width="0.9"/><path d="M995.81,253.33 L998.31,258.03 L993.31,258.03 Z" fill="white" stroke="rgb(78,134,222)" stroke-width="0.9"/><path d="M997.37,253.35 L999.87,258.05 L994.87,258.05 Z" fill="white" stroke="rgb(78,134,222)" stroke-width="0.9"/><path d="M998.93,253.37 L1001.43,258.07 L996.43,258.07 Z" fill="white" stroke="rgb(78,134,222)" stroke-width="0.9"/><path d="M1000.48,253.39 L1002.98,258.09 L997.98,258.09 Z" fill="white" stroke="rgb(78,134,222)" stroke-width="0.9"/><path d="M1002.04,253.40 L1004.54,258.10 L999.54,258.10 Z" fill="white" stroke="rgb(78,134,222)" stroke-width="0.9"/><path d="M1003.60,253.42 L1006.10,258.12 L1001.10,258.12 Z" fill="white" stroke="rgb(78,134,222)" stroke-width="0.9"/><path d="M1005.16,253.44 L1007.66,258.14 L1002.66,258.14 Z" fill="white" stroke="rgb(78,134,222)" stroke-width="0.9"/><path d="M1006.72,253.45 L1009.22,258.15 L1004.22,258.15 Z" fill="white" stroke="rgb(78,134,222)" stroke-width="0.9"/><path d="M1008.28,253.47 L1010.78,258.17 L1005.78,258.17 Z" fill="white" stroke="rgb(78,134,222)" stroke-width="0.9"/><path d="M1009.84,253.48 L1012.34,258.18 L1007.34,258.18 Z" fill="white" stroke="rgb(78,134,222)" stroke-width="0.9"/><path d="M1011.40,253.49 L1013.90,258.19 L1008.90,258.19 Z" fill="white" stroke="rgb(78,134,222)" stroke-width="0.9"/><rect x="777.5" y="19.9" width="233.89999999999998" height="258.90000000000003" fill="none" stroke="#383838" stroke-width="1"/><line x1="777.50" y1="278.80" x2="777.50" y2="282.80" stroke="#383838" stroke-width="1" /><line x1="777.50" y1="19.90" x2="777.50" y2="23.90" stroke="#383838" stroke-width="1" /><text x="777.50" y="297.80" style="font-family:'Liberation Sans',sans-serif;font-size:15.2px;" text-anchor="middle" fill="#151515">600</text><line x1="816.48" y1="278.80" x2="816.48" y2="281.30" stroke="#383838" stroke-width="1" /><line x1="816.48" y1="19.90" x2="816.48" y2="22.40" stroke="#383838" stroke-width="1" /><line x1="855.47" y1="278.80" x2="855.47" y2="282.80" stroke="#383838" stroke-width="1" /><line x1="855.47" y1="19.90" x2="855.47" y2="23.90" stroke="#383838" stroke-width="1" /><text x="855.47" y="297.80" style="font-family:'Liberation Sans',sans-serif;font-size:15.2px;" text-anchor="middle" fill="#151515">700</text><line x1="894.45" y1="278.80" x2="894.45" y2="281.30" stroke="#383838" stroke-width="1" /><line x1="894.45" y1="19.90" x2="894.45" y2="22.40" stroke="#383838" stroke-width="1" /><line x1="933.43" y1="278.80" x2="933.43" y2="282.80" stroke="#383838" stroke-width="1" /><line x1="933.43" y1="19.90" x2="933.43" y2="23.90" stroke="#383838" stroke-width="1" /><text x="933.43" y="297.80" style="font-family:'Liberation Sans',sans-serif;font-size:15.2px;" text-anchor="middle" fill="#151515">800</text><line x1="972.42" y1="278.80" x2="972.42" y2="281.30" stroke="#383838" stroke-width="1" /><line x1="972.42" y1="19.90" x2="972.42" y2="22.40" stroke="#383838" stroke-width="1" /><line x1="1011.40" y1="278.80" x2="1011.40" y2="282.80" stroke="#383838" stroke-width="1" /><line x1="1011.40" y1="19.90" x2="1011.40" y2="23.90" stroke="#383838" stroke-width="1" /><text x="1011.40" y="297.80" style="font-family:'Liberation Sans',sans-serif;font-size:15.2px;" text-anchor="middle" fill="#151515">900</text><line x1="773.50" y1="255.40" x2="777.50" y2="255.40" stroke="#383838" stroke-width="1" /><line x1="1007.40" y1="255.40" x2="1011.40" y2="255.40" stroke="#383838" stroke-width="1" /><line x1="775.00" y1="208.25" x2="777.50" y2="208.25" stroke="#383838" stroke-width="1" /><line x1="1008.90" y1="208.25" x2="1011.40" y2="208.25" stroke="#383838" stroke-width="1" /><line x1="773.50" y1="161.10" x2="777.50" y2="161.10" stroke="#383838" stroke-width="1" /><line x1="1007.40" y1="161.10" x2="1011.40" y2="161.10" stroke="#383838" stroke-width="1" /><line x1="775.00" y1="113.95" x2="777.50" y2="113.95" stroke="#383838" stroke-width="1" /><line x1="1008.90" y1="113.95" x2="1011.40" y2="113.95" stroke="#383838" stroke-width="1" /><line x1="773.50" y1="66.80" x2="777.50" y2="66.80" stroke="#383838" stroke-width="1" /><line x1="1007.40" y1="66.80" x2="1011.40" y2="66.80" stroke="#383838" stroke-width="1" /><text x="770.00" y="259.80" style="font-family:'Liberation Sans',sans-serif;font-size:15.2px;" text-anchor="end" fill="#151515">0E+00</text><text x="770.00" y="165.50" style="font-family:'Liberation Sans',sans-serif;font-size:15.2px;" text-anchor="end" fill="#151515">2E−18</text><text x="770.00" y="71.20" style="font-family:'Liberation Sans',sans-serif;font-size:15.2px;" text-anchor="end" fill="#151515">4E−18</text><text x="900.50" y="318.20" style="font-family:'Liberation Sans',sans-serif;font-size:15.3px;" text-anchor="middle" fill="#151515" textLength="115.5" lengthAdjust="spacingAndGlyphs">Wavelength (nm)</text><text x="894.20" y="14.30" style="font-family:'Liberation Sans',sans-serif;font-size:18.0px;" text-anchor="middle" fill="#151515" textLength="145.1" lengthAdjust="spacingAndGlyphs">Chiral absorption</text><text x="712.80" y="149.30" style="font-family:'Liberation Sans',sans-serif;font-size:15.5px;" text-anchor="middle" fill="#151515" textLength="115.5" lengthAdjust="spacingAndGlyphs" transform="rotate(-90 712.80 149.30)">Chiral absorption</text><line x1="787.50" y1="37.70" x2="821.70" y2="37.70" stroke="rgb(95,95,95)" stroke-width="1.0" /><rect x="802.40" y="35.50" width="4.40" height="4.40" fill="white" stroke="rgb(95,95,95)" stroke-width="0.9"/><text x="826.30" y="42.30" style="font-family:'Liberation Sans',sans-serif;font-size:15.2px;" text-anchor="start" fill="#151515">MD</text><line x1="787.50" y1="56.20" x2="821.70" y2="56.20" stroke="rgb(234,108,108)" stroke-width="1.0" /><circle cx="804.60" cy="56.20" r="2.09" fill="white" stroke="rgb(234,108,108)" stroke-width="0.9"/><text x="826.30" y="60.80" style="font-family:'Liberation Sans',sans-serif;font-size:15.2px;" text-anchor="start" fill="#151515">ED</text><line x1="787.50" y1="74.60" x2="821.70" y2="74.60" stroke="rgb(78,134,222)" stroke-width="1.0" /><path d="M804.60,71.41 L807.35,76.58 L801.85,76.58 Z" fill="white" stroke="rgb(78,134,222)" stroke-width="0.9"/><text x="826.30" y="79.20" style="font-family:'Liberation Sans',sans-serif;font-size:15.2px;" text-anchor="start" fill="#151515">EQ</text><rect x="66.60" y="360" width="179.00" height="4" fill="rgb(4,4,255)"/><rect x="66.60" y="364" width="179.00" height="3" fill="rgb(4,4,255)"/><rect x="66.60" y="367" width="179.00" height="3" fill="rgb(4,4,255)"/><rect x="66.60" y="370" width="179.00" height="4" fill="rgb(4,4,255)"/><rect x="66.60" y="374" width="179.00" height="3" fill="rgb(4,4,255)"/><rect x="66.60" y="377" width="179.00" height="4" fill="rgb(4,4,255)"/><rect x="66.60" y="381" width="179.00" height="3" fill="rgb(4,4,255)"/><rect x="66.60" y="384" width="179.00" height="3" fill="rgb(4,4,255)"/><rect x="66.60" y="387" width="179.00" height="4" fill="rgb(4,4,255)"/><rect x="66.60" y="391" width="179.00" height="3" fill="rgb(4,4,255)"/><rect x="66.60" y="394" width="179.00" height="3" fill="rgb(4,4,255)"/><rect x="66.60" y="397" width="179.00" height="4" fill="rgb(4,4,255)"/><rect x="66.60" y="401" width="179.00" height="3" fill="rgb(4,4,255)"/><rect x="66.60" y="404" width="179.00" height="4" fill="rgb(4,4,255)"/><rect x="66.60" y="408" width="179.00" height="3" fill="rgb(4,4,255)"/><rect x="66.60" y="411" width="179.00" height="3" fill="rgb(4,4,255)"/><rect x="66.60" y="414" width="179.00" height="4" fill="rgb(4,4,255)"/><rect x="66.60" y="418" width="179.00" height="3" fill="rgb(4,4,255)"/><rect x="66.60" y="421" width="179.00" height="3" fill="rgb(4,4,255)"/><rect x="66.60" y="424" width="179.00" height="4" fill="rgb(4,4,255)"/><rect x="66.60" y="428" width="179.00" height="3" fill="rgb(4,4,255)"/><rect x="66.60" y="431" width="179.00" height="4" fill="rgb(4,4,255)"/><rect x="66.60" y="435" width="179.00" height="3" fill="rgb(4,4,255)"/><rect x="66.60" y="438" width="179.00" height="3" fill="rgb(4,4,255)"/><rect x="66.60" y="441" width="179.00" height="4" fill="rgb(4,4,255)"/><rect x="66.60" y="445" width="179.00" height="3" fill="rgb(4,4,255)"/><rect x="66.60" y="448" width="179.00" height="3" fill="rgb(4,4,255)"/><rect x="66.60" y="451" width="179.00" height="4" fill="rgb(4,4,255)"/><rect x="66.60" y="455" width="179.00" height="3" fill="rgb(4,4,255)"/><rect x="66.60" y="458" width="179.00" height="4" fill="rgb(4,4,255)"/><rect x="66.60" y="462" width="179.00" height="3" fill="rgb(4,4,255)"/><rect x="66.60" y="465" width="179.00" height="3" fill="rgb(4,4,255)"/><rect x="66.60" y="468" width="179.00" height="4" fill="rgb(4,4,255)"/><rect x="66.60" y="472" width="179.00" height="3" fill="rgb(4,4,255)"/><rect x="66.60" y="475" width="179.00" height="3" fill="rgb(4,4,255)"/><rect x="66.60" y="478" width="179.00" height="4" fill="rgb(4,4,255)"/><rect x="66.60" y="482" width="179.00" height="3" fill="rgb(4,4,255)"/><rect x="66.60" y="485" width="179.00" height="4" fill="rgb(4,4,255)"/><rect x="66.60" y="489" width="179.00" height="3" fill="rgb(4,4,255)"/><rect x="66.60" y="492" width="179.00" height="3" fill="rgb(4,4,255)"/><rect x="66.60" y="495" width="179.00" height="4" fill="rgb(4,4,255)"/><rect x="66.60" y="499" width="179.00" height="3" fill="rgb(4,4,255)"/><rect x="66.60" y="502" width="179.00" height="3" fill="rgb(4,4,255)"/><rect x="66.60" y="505" width="179.00" height="4" fill="rgb(4,4,255)"/><rect x="66.60" y="509" width="179.00" height="3" fill="rgb(4,4,255)"/><rect x="66.60" y="512" width="179.00" height="4" fill="rgb(4,4,255)"/><rect x="66.60" y="516" width="179.00" height="3" fill="rgb(4,4,255)"/><rect x="66.60" y="519" width="179.00" height="3" fill="rgb(4,4,255)"/><rect x="66.60" y="522" width="179.00" height="4" fill="rgb(4,4,255)"/><rect x="66.60" y="526" width="179.00" height="3" fill="rgb(4,4,255)"/><rect x="296.20" y="360" width="177.70" height="4" fill="rgb(74,74,255)"/><rect x="296.20" y="364" width="177.70" height="3" fill="rgb(74,74,255)"/><rect x="296.20" y="367" width="177.70" height="3" fill="rgb(74,74,255)"/><rect x="296.20" y="370" width="177.70" height="4" fill="rgb(75,75,255)"/><rect x="296.20" y="374" width="177.70" height="3" fill="rgb(75,75,255)"/><rect x="296.20" y="377" width="177.70" height="4" fill="rgb(75,75,255)"/><rect x="296.20" y="381" width="177.70" height="3" fill="rgb(76,76,255)"/><rect x="296.20" y="384" width="177.70" height="3" fill="rgb(76,76,255)"/><rect x="296.20" y="387" width="177.70" height="4" fill="rgb(76,76,255)"/><rect x="296.20" y="391" width="177.70" height="3" fill="rgb(77,77,255)"/><rect x="296.20" y="394" width="177.70" height="3" fill="rgb(77,77,255)"/><rect x="296.20" y="397" width="177.70" height="4" fill="rgb(77,77,255)"/><rect x="296.20" y="401" width="177.70" height="3" fill="rgb(78,78,255)"/><rect x="296.20" y="404" width="177.70" height="4" fill="rgb(78,78,255)"/><rect x="296.20" y="408" width="177.70" height="3" fill="rgb(79,79,255)"/><rect x="296.20" y="411" width="177.70" height="3" fill="rgb(79,79,255)"/><rect x="296.20" y="414" width="177.70" height="4" fill="rgb(80,80,255)"/><rect x="296.20" y="418" width="177.70" height="3" fill="rgb(81,81,255)"/><rect x="296.20" y="421" width="177.70" height="3" fill="rgb(81,81,255)"/><rect x="296.20" y="424" width="177.70" height="4" fill="rgb(82,82,255)"/><rect x="296.20" y="428" width="177.70" height="3" fill="rgb(83,83,255)"/><rect x="296.20" y="431" width="177.70" height="4" fill="rgb(83,83,255)"/><rect x="296.20" y="435" width="177.70" height="3" fill="rgb(84,84,255)"/><rect x="296.20" y="438" width="177.70" height="3" fill="rgb(85,85,255)"/><rect x="296.20" y="441" width="177.70" height="4" fill="rgb(86,86,255)"/><rect x="296.20" y="445" width="177.70" height="3" fill="rgb(87,87,255)"/><rect x="296.20" y="448" width="177.70" height="3" fill="rgb(88,88,255)"/><rect x="296.20" y="451" width="177.70" height="4" fill="rgb(89,89,255)"/><rect x="296.20" y="455" width="177.70" height="3" fill="rgb(90,90,255)"/><rect x="296.20" y="458" width="177.70" height="4" fill="rgb(91,91,255)"/><rect x="296.20" y="462" width="177.70" height="3" fill="rgb(93,93,255)"/><rect x="296.20" y="465" width="177.70" height="3" fill="rgb(94,94,255)"/><rect x="296.20" y="468" width="177.70" height="4" fill="rgb(95,95,255)"/><rect x="296.20" y="472" width="177.70" height="3" fill="rgb(97,97,255)"/><rect x="296.20" y="475" width="177.70" height="3" fill="rgb(98,98,255)"/><rect x="296.20" y="478" width="177.70" height="4" fill="rgb(100,100,255)"/><rect x="296.20" y="482" width="177.70" height="3" fill="rgb(102,102,255)"/><rect x="296.20" y="485" width="177.70" height="4" fill="rgb(104,104,255)"/><rect x="296.20" y="489" width="177.70" height="3" fill="rgb(106,106,255)"/><rect x="296.20" y="492" width="177.70" height="3" fill="rgb(109,109,255)"/><rect x="296.20" y="495" width="177.70" height="4" fill="rgb(111,111,255)"/><rect x="296.20" y="499" width="177.70" height="3" fill="rgb(113,113,255)"/><rect x="296.20" y="502" width="177.70" height="3" fill="rgb(116,116,255)"/><rect x="296.20" y="505" width="177.70" height="4" fill="rgb(118,118,255)"/><rect x="296.20" y="509" width="177.70" height="3" fill="rgb(120,120,255)"/><rect x="296.20" y="512" width="177.70" height="4" fill="rgb(123,123,255)"/><rect x="296.20" y="516" width="177.70" height="3" fill="rgb(126,126,255)"/><rect x="296.20" y="519" width="177.70" height="3" fill="rgb(130,130,255)"/><rect x="296.20" y="522" width="177.70" height="4" fill="rgb(134,134,255)"/><rect x="296.20" y="526" width="177.70" height="3" fill="rgb(139,139,255)"/><rect x="533.20" y="360" width="175.20" height="4" fill="rgb(0,0,255)"/><rect x="533.20" y="364" width="175.20" height="3" fill="rgb(0,0,255)"/><rect x="533.20" y="367" width="175.20" height="3" fill="rgb(0,0,255)"/><rect x="533.20" y="370" width="175.20" height="4" fill="rgb(0,0,255)"/><rect x="533.20" y="374" width="175.20" height="3" fill="rgb(0,0,255)"/><rect x="533.20" y="377" width="175.20" height="4" fill="rgb(0,0,255)"/><rect x="533.20" y="381" width="175.20" height="3" fill="rgb(0,0,255)"/><rect x="533.20" y="384" width="175.20" height="3" fill="rgb(0,0,255)"/><rect x="533.20" y="387" width="175.20" height="4" fill="rgb(0,0,255)"/><rect x="533.20" y="391" width="175.20" height="3" fill="rgb(0,0,255)"/><rect x="533.20" y="394" width="175.20" height="3" fill="rgb(0,0,255)"/><rect x="533.20" y="397" width="175.20" height="4" fill="rgb(0,0,255)"/><rect x="533.20" y="401" width="175.20" height="3" fill="rgb(0,0,255)"/><rect x="533.20" y="404" width="175.20" height="4" fill="rgb(0,0,255)"/><rect x="533.20" y="408" width="175.20" height="3" fill="rgb(0,0,255)"/><rect x="533.20" y="411" width="175.20" height="3" fill="rgb(0,0,255)"/><rect x="533.20" y="414" width="175.20" height="4" fill="rgb(0,0,255)"/><rect x="533.20" y="418" width="175.20" height="3" fill="rgb(0,0,255)"/><rect x="533.20" y="421" width="175.20" height="3" fill="rgb(0,0,255)"/><rect x="533.20" y="424" width="175.20" height="4" fill="rgb(0,0,255)"/><rect x="533.20" y="428" width="175.20" height="3" fill="rgb(0,0,255)"/><rect x="533.20" y="431" width="175.20" height="4" fill="rgb(0,0,255)"/><rect x="533.20" y="435" width="175.20" height="3" fill="rgb(0,0,255)"/><rect x="533.20" y="438" width="175.20" height="3" fill="rgb(0,0,255)"/><rect x="533.20" y="441" width="175.20" height="4" fill="rgb(0,0,255)"/><rect x="533.20" y="445" width="175.20" height="3" fill="rgb(0,0,255)"/><rect x="533.20" y="448" width="175.20" height="3" fill="rgb(0,0,255)"/><rect x="533.20" y="451" width="175.20" height="4" fill="rgb(0,0,255)"/><rect x="533.20" y="455" width="175.20" height="3" fill="rgb(0,0,255)"/><rect x="533.20" y="458" width="175.20" height="4" fill="rgb(1,1,255)"/><rect x="533.20" y="462" width="175.20" height="3" fill="rgb(4,4,255)"/><rect x="533.20" y="465" width="175.20" height="3" fill="rgb(7,7,255)"/><rect x="533.20" y="468" width="175.20" height="4" fill="rgb(10,10,255)"/><rect x="533.20" y="472" width="175.20" height="3" fill="rgb(14,14,255)"/><rect x="533.20" y="475" width="175.20" height="3" fill="rgb(20,20,255)"/><rect x="533.20" y="478" width="175.20" height="4" fill="rgb(26,26,255)"/><rect x="533.20" y="482" width="175.20" height="3" fill="rgb(31,31,255)"/><rect x="533.20" y="485" width="175.20" height="4" fill="rgb(37,37,255)"/><rect x="533.20" y="489" width="175.20" height="3" fill="rgb(44,44,255)"/><rect x="533.20" y="492" width="175.20" height="3" fill="rgb(53,53,255)"/><rect x="533.20" y="495" width="175.20" height="4" fill="rgb(60,60,255)"/><rect x="533.20" y="499" width="175.20" height="3" fill="rgb(67,67,255)"/><rect x="533.20" y="502" width="175.20" height="3" fill="rgb(79,79,255)"/><rect x="533.20" y="505" width="175.20" height="4" fill="rgb(93,93,255)"/><rect x="533.20" y="509" width="175.20" height="3" fill="rgb(111,111,255)"/><rect x="533.20" y="512" width="175.20" height="4" fill="rgb(132,132,255)"/><rect x="533.20" y="516" width="175.20" height="3" fill="rgb(149,149,255)"/><rect x="533.20" y="519" width="175.20" height="3" fill="rgb(191,191,255)"/><rect x="533.20" y="522" width="175.20" height="4" fill="rgb(247,247,255)"/><rect x="533.20" y="526" width="175.20" height="3" fill="rgb(255,213,213)"/><rect x="764.10" y="360" width="176.80" height="4" fill="rgb(61,61,255)"/><rect x="764.10" y="364" width="176.80" height="3" fill="rgb(61,61,255)"/><rect x="764.10" y="367" width="176.80" height="3" fill="rgb(62,62,255)"/><rect x="764.10" y="370" width="176.80" height="4" fill="rgb(62,62,255)"/><rect x="764.10" y="374" width="176.80" height="3" fill="rgb(62,62,255)"/><rect x="764.10" y="377" width="176.80" height="4" fill="rgb(63,63,255)"/><rect x="764.10" y="381" width="176.80" height="3" fill="rgb(63,63,255)"/><rect x="764.10" y="384" width="176.80" height="3" fill="rgb(64,64,255)"/><rect x="764.10" y="387" width="176.80" height="4" fill="rgb(64,64,255)"/><rect x="764.10" y="391" width="176.80" height="3" fill="rgb(65,65,255)"/><rect x="764.10" y="394" width="176.80" height="3" fill="rgb(66,66,255)"/><rect x="764.10" y="397" width="176.80" height="4" fill="rgb(66,66,255)"/><rect x="764.10" y="401" width="176.80" height="3" fill="rgb(67,67,255)"/><rect x="764.10" y="404" width="176.80" height="4" fill="rgb(67,67,255)"/><rect x="764.10" y="408" width="176.80" height="3" fill="rgb(68,68,255)"/><rect x="764.10" y="411" width="176.80" height="3" fill="rgb(69,69,255)"/><rect x="764.10" y="414" width="176.80" height="4" fill="rgb(70,70,255)"/><rect x="764.10" y="418" width="176.80" height="3" fill="rgb(71,71,255)"/><rect x="764.10" y="421" width="176.80" height="3" fill="rgb(72,72,255)"/><rect x="764.10" y="424" width="176.80" height="4" fill="rgb(73,73,255)"/><rect x="764.10" y="428" width="176.80" height="3" fill="rgb(75,75,255)"/><rect x="764.10" y="431" width="176.80" height="4" fill="rgb(76,76,255)"/><rect x="764.10" y="435" width="176.80" height="3" fill="rgb(77,77,255)"/><rect x="764.10" y="438" width="176.80" height="3" fill="rgb(79,79,255)"/><rect x="764.10" y="441" width="176.80" height="4" fill="rgb(80,80,255)"/><rect x="764.10" y="445" width="176.80" height="3" fill="rgb(82,82,255)"/><rect x="764.10" y="448" width="176.80" height="3" fill="rgb(84,84,255)"/><rect x="764.10" y="451" width="176.80" height="4" fill="rgb(87,87,255)"/><rect x="764.10" y="455" width="176.80" height="3" fill="rgb(89,89,255)"/><rect x="764.10" y="458" width="176.80" height="4" fill="rgb(92,92,255)"/><rect x="764.10" y="462" width="176.80" height="3" fill="rgb(95,95,255)"/><rect x="764.10" y="465" width="176.80" height="3" fill="rgb(99,99,255)"/><rect x="764.10" y="468" width="176.80" height="4" fill="rgb(103,103,255)"/><rect x="764.10" y="472" width="176.80" height="3" fill="rgb(108,108,255)"/><rect x="764.10" y="475" width="176.80" height="3" fill="rgb(113,113,255)"/><rect x="764.10" y="478" width="176.80" height="4" fill="rgb(120,120,255)"/><rect x="764.10" y="482" width="176.80" height="3" fill="rgb(126,126,255)"/><rect x="764.10" y="485" width="176.80" height="4" fill="rgb(134,134,255)"/><rect x="764.10" y="489" width="176.80" height="3" fill="rgb(143,143,255)"/><rect x="764.10" y="492" width="176.80" height="3" fill="rgb(153,153,255)"/><rect x="764.10" y="495" width="176.80" height="4" fill="rgb(163,163,255)"/><rect x="764.10" y="499" width="176.80" height="3" fill="rgb(175,175,255)"/><rect x="764.10" y="502" width="176.80" height="3" fill="rgb(189,189,255)"/><rect x="764.10" y="505" width="176.80" height="4" fill="rgb(208,208,255)"/><rect x="764.10" y="509" width="176.80" height="3" fill="rgb(231,231,255)"/><rect x="764.10" y="512" width="176.80" height="4" fill="rgb(251,251,255)"/><rect x="764.10" y="516" width="176.80" height="3" fill="rgb(255,233,233)"/><rect x="764.10" y="519" width="176.80" height="3" fill="rgb(255,192,192)"/><rect x="764.10" y="522" width="176.80" height="4" fill="rgb(255,144,144)"/><rect x="764.10" y="526" width="176.80" height="3" fill="rgb(255,75,75)"/><rect x="66.90" y="587" width="179.50" height="3" fill="url(#g0_0)"/><rect x="66.90" y="590" width="179.50" height="4" fill="url(#g0_1)"/><rect x="66.90" y="594" width="179.50" height="3" fill="url(#g0_2)"/><rect x="66.90" y="597" width="179.50" height="3" fill="url(#g0_3)"/><rect x="66.90" y="600" width="179.50" height="4" fill="url(#g0_4)"/><rect x="66.90" y="604" width="179.50" height="3" fill="url(#g0_5)"/><rect x="66.90" y="607" width="179.50" height="3" fill="url(#g0_6)"/><rect x="66.90" y="610" width="179.50" height="4" fill="url(#g0_7)"/><rect x="66.90" y="614" width="179.50" height="3" fill="url(#g0_8)"/><rect x="66.90" y="617" width="179.50" height="3" fill="url(#g0_9)"/><rect x="66.90" y="620" width="179.50" height="4" fill="url(#g0_10)"/><rect x="66.90" y="624" width="179.50" height="3" fill="url(#g0_11)"/><rect x="66.90" y="627" width="179.50" height="3" fill="url(#g0_12)"/><rect x="66.90" y="630" width="179.50" height="4" fill="url(#g0_13)"/><rect x="66.90" y="634" width="179.50" height="3" fill="url(#g0_14)"/><rect x="66.90" y="637" width="179.50" height="4" fill="url(#g0_15)"/><rect x="66.90" y="641" width="179.50" height="3" fill="url(#g0_16)"/><rect x="66.90" y="644" width="179.50" height="3" fill="url(#g0_17)"/><rect x="66.90" y="647" width="179.50" height="4" fill="url(#g0_18)"/><rect x="66.90" y="651" width="179.50" height="3" fill="url(#g0_19)"/><rect x="66.90" y="654" width="179.50" height="3" fill="url(#g0_20)"/><rect x="66.90" y="657" width="179.50" height="4" fill="url(#g0_21)"/><rect x="66.90" y="661" width="179.50" height="3" fill="url(#g0_22)"/><rect x="66.90" y="664" width="179.50" height="3" fill="url(#g0_23)"/><rect x="66.90" y="667" width="179.50" height="4" fill="url(#g0_24)"/><rect x="66.90" y="671" width="179.50" height="3" fill="url(#g0_25)"/><rect x="66.90" y="674" width="179.50" height="3" fill="url(#g0_26)"/><rect x="66.90" y="677" width="179.50" height="4" fill="url(#g0_27)"/><rect x="66.90" y="681" width="179.50" height="3" fill="url(#g0_28)"/><rect x="66.90" y="684" width="179.50" height="4" fill="url(#g0_29)"/><rect x="66.90" y="688" width="179.50" height="3" fill="url(#g0_30)"/><rect x="66.90" y="691" width="179.50" height="3" fill="url(#g0_31)"/><rect x="66.90" y="694" width="179.50" height="4" fill="url(#g0_32)"/><rect x="66.90" y="698" width="179.50" height="3" fill="url(#g0_33)"/><rect x="66.90" y="701" width="179.50" height="3" fill="url(#g0_34)"/><rect x="66.90" y="704" width="179.50" height="4" fill="url(#g0_35)"/><rect x="66.90" y="708" width="179.50" height="3" fill="url(#g0_36)"/><rect x="66.90" y="711" width="179.50" height="3" fill="url(#g0_37)"/><rect x="66.90" y="714" width="179.50" height="4" fill="url(#g0_38)"/><rect x="66.90" y="718" width="179.50" height="3" fill="url(#g0_39)"/><rect x="66.90" y="721" width="179.50" height="3" fill="url(#g0_40)"/><rect x="66.90" y="724" width="179.50" height="4" fill="url(#g0_41)"/><rect x="66.90" y="728" width="179.50" height="3" fill="url(#g0_42)"/><rect x="66.90" y="731" width="179.50" height="4" fill="url(#g0_43)"/><rect x="66.90" y="735" width="179.50" height="3" fill="url(#g0_44)"/><rect x="66.90" y="738" width="179.50" height="3" fill="url(#g0_45)"/><rect x="66.90" y="741" width="179.50" height="4" fill="url(#g0_46)"/><rect x="66.90" y="745" width="179.50" height="3" fill="url(#g0_47)"/><rect x="66.90" y="748" width="179.50" height="3" fill="url(#g0_48)"/><rect x="66.90" y="751" width="179.50" height="4" fill="url(#g0_49)"/><rect x="297.30" y="587" width="175.20" height="3" fill="url(#g1_0)"/><rect x="297.30" y="590" width="175.20" height="4" fill="url(#g1_1)"/><rect x="297.30" y="594" width="175.20" height="3" fill="url(#g1_2)"/><rect x="297.30" y="597" width="175.20" height="3" fill="url(#g1_3)"/><rect x="297.30" y="600" width="175.20" height="4" fill="url(#g1_4)"/><rect x="297.30" y="604" width="175.20" height="3" fill="url(#g1_5)"/><rect x="297.30" y="607" width="175.20" height="3" fill="url(#g1_6)"/><rect x="297.30" y="610" width="175.20" height="4" fill="url(#g1_7)"/><rect x="297.30" y="614" width="175.20" height="3" fill="url(#g1_8)"/><rect x="297.30" y="617" width="175.20" height="3" fill="url(#g1_9)"/><rect x="297.30" y="620" width="175.20" height="4" fill="url(#g1_10)"/><rect x="297.30" y="624" width="175.20" height="3" fill="url(#g1_11)"/><rect x="297.30" y="627" width="175.20" height="3" fill="url(#g1_12)"/><rect x="297.30" y="630" width="175.20" height="4" fill="url(#g1_13)"/><rect x="297.30" y="634" width="175.20" height="3" fill="url(#g1_14)"/><rect x="297.30" y="637" width="175.20" height="4" fill="url(#g1_15)"/><rect x="297.30" y="641" width="175.20" height="3" fill="url(#g1_16)"/><rect x="297.30" y="644" width="175.20" height="3" fill="url(#g1_17)"/><rect x="297.30" y="647" width="175.20" height="4" fill="url(#g1_18)"/><rect x="297.30" y="651" width="175.20" height="3" fill="url(#g1_19)"/><rect x="297.30" y="654" width="175.20" height="3" fill="url(#g1_20)"/><rect x="297.30" y="657" width="175.20" height="4" fill="url(#g1_21)"/><rect x="297.30" y="661" width="175.20" height="3" fill="url(#g1_22)"/><rect x="297.30" y="664" width="175.20" height="3" fill="url(#g1_23)"/><rect x="297.30" y="667" width="175.20" height="4" fill="url(#g1_24)"/><rect x="297.30" y="671" width="175.20" height="3" fill="url(#g1_25)"/><rect x="297.30" y="674" width="175.20" height="3" fill="url(#g1_26)"/><rect x="297.30" y="677" width="175.20" height="4" fill="url(#g1_27)"/><rect x="297.30" y="681" width="175.20" height="3" fill="url(#g1_28)"/><rect x="297.30" y="684" width="175.20" height="4" fill="url(#g1_29)"/><rect x="297.30" y="688" width="175.20" height="3" fill="url(#g1_30)"/><rect x="297.30" y="691" width="175.20" height="3" fill="url(#g1_31)"/><rect x="297.30" y="694" width="175.20" height="4" fill="url(#g1_32)"/><rect x="297.30" y="698" width="175.20" height="3" fill="url(#g1_33)"/><rect x="297.30" y="701" width="175.20" height="3" fill="url(#g1_34)"/><rect x="297.30" y="704" width="175.20" height="4" fill="url(#g1_35)"/><rect x="297.30" y="708" width="175.20" height="3" fill="url(#g1_36)"/><rect x="297.30" y="711" width="175.20" height="3" fill="url(#g1_37)"/><rect x="297.30" y="714" width="175.20" height="4" fill="url(#g1_38)"/><rect x="297.30" y="718" width="175.20" height="3" fill="url(#g1_39)"/><rect x="297.30" y="721" width="175.20" height="3" fill="url(#g1_40)"/><rect x="297.30" y="724" width="175.20" height="4" fill="url(#g1_41)"/><rect x="297.30" y="728" width="175.20" height="3" fill="url(#g1_42)"/><rect x="297.30" y="731" width="175.20" height="4" fill="url(#g1_43)"/><rect x="297.30" y="735" width="175.20" height="3" fill="url(#g1_44)"/><rect x="297.30" y="738" width="175.20" height="3" fill="url(#g1_45)"/><rect x="297.30" y="741" width="175.20" height="4" fill="url(#g1_46)"/><rect x="297.30" y="745" width="175.20" height="3" fill="url(#g1_47)"/><rect x="297.30" y="748" width="175.20" height="3" fill="url(#g1_48)"/><rect x="297.30" y="751" width="175.20" height="4" fill="url(#g1_49)"/><rect x="531.40" y="587" width="179.60" height="3" fill="url(#g2_0)"/><rect x="531.40" y="590" width="179.60" height="4" fill="url(#g2_1)"/><rect x="531.40" y="594" width="179.60" height="3" fill="url(#g2_2)"/><rect x="531.40" y="597" width="179.60" height="3" fill="url(#g2_3)"/><rect x="531.40" y="600" width="179.60" height="4" fill="url(#g2_4)"/><rect x="531.40" y="604" width="179.60" height="3" fill="url(#g2_5)"/><rect x="531.40" y="607" width="179.60" height="3" fill="url(#g2_6)"/><rect x="531.40" y="610" width="179.60" height="4" fill="url(#g2_7)"/><rect x="531.40" y="614" width="179.60" height="3" fill="url(#g2_8)"/><rect x="531.40" y="617" width="179.60" height="3" fill="url(#g2_9)"/><rect x="531.40" y="620" width="179.60" height="4" fill="url(#g2_10)"/><rect x="531.40" y="624" width="179.60" height="3" fill="url(#g2_11)"/><rect x="531.40" y="627" width="179.60" height="3" fill="url(#g2_12)"/><rect x="531.40" y="630" width="179.60" height="4" fill="url(#g2_13)"/><rect x="531.40" y="634" width="179.60" height="3" fill="url(#g2_14)"/><rect x="531.40" y="637" width="179.60" height="4" fill="url(#g2_15)"/><rect x="531.40" y="641" width="179.60" height="3" fill="url(#g2_16)"/><rect x="531.40" y="644" width="179.60" height="3" fill="url(#g2_17)"/><rect x="531.40" y="647" width="179.60" height="4" fill="url(#g2_18)"/><rect x="531.40" y="651" width="179.60" height="3" fill="url(#g2_19)"/><rect x="531.40" y="654" width="179.60" height="3" fill="url(#g2_20)"/><rect x="531.40" y="657" width="179.60" height="4" fill="url(#g2_21)"/><rect x="531.40" y="661" width="179.60" height="3" fill="url(#g2_22)"/><rect x="531.40" y="664" width="179.60" height="3" fill="url(#g2_23)"/><rect x="531.40" y="667" width="179.60" height="4" fill="url(#g2_24)"/><rect x="531.40" y="671" width="179.60" height="3" fill="url(#g2_25)"/><rect x="531.40" y="674" width="179.60" height="3" fill="url(#g2_26)"/><rect x="531.40" y="677" width="179.60" height="4" fill="url(#g2_27)"/><rect x="531.40" y="681" width="179.60" height="3" fill="url(#g2_28)"/><rect x="531.40" y="684" width="179.60" height="4" fill="url(#g2_29)"/><rect x="531.40" y="688" width="179.60" height="3" fill="url(#g2_30)"/><rect x="531.40" y="691" width="179.60" height="3" fill="url(#g2_31)"/><rect x="531.40" y="694" width="179.60" height="4" fill="url(#g2_32)"/><rect x="531.40" y="698" width="179.60" height="3" fill="url(#g2_33)"/><rect x="531.40" y="701" width="179.60" height="3" fill="url(#g2_34)"/><rect x="531.40" y="704" width="179.60" height="4" fill="url(#g2_35)"/><rect x="531.40" y="708" width="179.60" height="3" fill="url(#g2_36)"/><rect x="531.40" y="711" width="179.60" height="3" fill="url(#g2_37)"/><rect x="531.40" y="714" width="179.60" height="4" fill="url(#g2_38)"/><rect x="531.40" y="718" width="179.60" height="3" fill="url(#g2_39)"/><rect x="531.40" y="721" width="179.60" height="3" fill="url(#g2_40)"/><rect x="531.40" y="724" width="179.60" height="4" fill="url(#g2_41)"/><rect x="531.40" y="728" width="179.60" height="3" fill="url(#g2_42)"/><rect x="531.40" y="731" width="179.60" height="4" fill="url(#g2_43)"/><rect x="531.40" y="735" width="179.60" height="3" fill="url(#g2_44)"/><rect x="531.40" y="738" width="179.60" height="3" fill="url(#g2_45)"/><rect x="531.40" y="741" width="179.60" height="4" fill="url(#g2_46)"/><rect x="531.40" y="745" width="179.60" height="3" fill="url(#g2_47)"/><rect x="531.40" y="748" width="179.60" height="3" fill="url(#g2_48)"/><rect x="531.40" y="751" width="179.60" height="4" fill="url(#g2_49)"/><rect x="766.00" y="587" width="171.30" height="3" fill="url(#g3_0)"/><rect x="766.00" y="590" width="171.30" height="4" fill="url(#g3_1)"/><rect x="766.00" y="594" width="171.30" height="3" fill="url(#g3_2)"/><rect x="766.00" y="597" width="171.30" height="3" fill="url(#g3_3)"/><rect x="766.00" y="600" width="171.30" height="4" fill="url(#g3_4)"/><rect x="766.00" y="604" width="171.30" height="3" fill="url(#g3_5)"/><rect x="766.00" y="607" width="171.30" height="3" fill="url(#g3_6)"/><rect x="766.00" y="610" width="171.30" height="4" fill="url(#g3_7)"/><rect x="766.00" y="614" width="171.30" height="3" fill="url(#g3_8)"/><rect x="766.00" y="617" width="171.30" height="3" fill="url(#g3_9)"/><rect x="766.00" y="620" width="171.30" height="4" fill="url(#g3_10)"/><rect x="766.00" y="624" width="171.30" height="3" fill="url(#g3_11)"/><rect x="766.00" y="627" width="171.30" height="3" fill="url(#g3_12)"/><rect x="766.00" y="630" width="171.30" height="4" fill="url(#g3_13)"/><rect x="766.00" y="634" width="171.30" height="3" fill="url(#g3_14)"/><rect x="766.00" y="637" width="171.30" height="4" fill="url(#g3_15)"/><rect x="766.00" y="641" width="171.30" height="3" fill="url(#g3_16)"/><rect x="766.00" y="644" width="171.30" height="3" fill="url(#g3_17)"/><rect x="766.00" y="647" width="171.30" height="4" fill="url(#g3_18)"/><rect x="766.00" y="651" width="171.30" height="3" fill="url(#g3_19)"/><rect x="766.00" y="654" width="171.30" height="3" fill="url(#g3_20)"/><rect x="766.00" y="657" width="171.30" height="4" fill="url(#g3_21)"/><rect x="766.00" y="661" width="171.30" height="3" fill="url(#g3_22)"/><rect x="766.00" y="664" width="171.30" height="3" fill="url(#g3_23)"/><rect x="766.00" y="667" width="171.30" height="4" fill="url(#g3_24)"/><rect x="766.00" y="671" width="171.30" height="3" fill="url(#g3_25)"/><rect x="766.00" y="674" width="171.30" height="3" fill="url(#g3_26)"/><rect x="766.00" y="677" width="171.30" height="4" fill="url(#g3_27)"/><rect x="766.00" y="681" width="171.30" height="3" fill="url(#g3_28)"/><rect x="766.00" y="684" width="171.30" height="4" fill="url(#g3_29)"/><rect x="766.00" y="688" width="171.30" height="3" fill="url(#g3_30)"/><rect x="766.00" y="691" width="171.30" height="3" fill="url(#g3_31)"/><rect x="766.00" y="694" width="171.30" height="4" fill="url(#g3_32)"/><rect x="766.00" y="698" width="171.30" height="3" fill="url(#g3_33)"/><rect x="766.00" y="701" width="171.30" height="3" fill="url(#g3_34)"/><rect x="766.00" y="704" width="171.30" height="4" fill="url(#g3_35)"/><rect x="766.00" y="708" width="171.30" height="3" fill="url(#g3_36)"/><rect x="766.00" y="711" width="171.30" height="3" fill="url(#g3_37)"/><rect x="766.00" y="714" width="171.30" height="4" fill="url(#g3_38)"/><rect x="766.00" y="718" width="171.30" height="3" fill="url(#g3_39)"/><rect x="766.00" y="721" width="171.30" height="3" fill="url(#g3_40)"/><rect x="766.00" y="724" width="171.30" height="4" fill="url(#g3_41)"/><rect x="766.00" y="728" width="171.30" height="3" fill="url(#g3_42)"/><rect x="766.00" y="731" width="171.30" height="4" fill="url(#g3_43)"/><rect x="766.00" y="735" width="171.30" height="3" fill="url(#g3_44)"/><rect x="766.00" y="738" width="171.30" height="3" fill="url(#g3_45)"/><rect x="766.00" y="741" width="171.30" height="4" fill="url(#g3_46)"/><rect x="766.00" y="745" width="171.30" height="3" fill="url(#g3_47)"/><rect x="766.00" y="748" width="171.30" height="3" fill="url(#g3_48)"/><rect x="766.00" y="751" width="171.30" height="4" fill="url(#g3_49)"/><rect x="951.5" y="360.3" width="11.5" height="166.49999999999994" fill="url(#cb360)" stroke="#999" stroke-width="0.8"/><rect x="951.5" y="587.4" width="11.5" height="167.60000000000002" fill="url(#cb587)" stroke="#999" stroke-width="0.8"/><text x="0.50" y="352.50" style="font-family:'Liberation Sans',sans-serif;font-size:20px;" text-anchor="start" fill="#151515">(c)</text><text x="158.60" y="352.00" style="font-family:'Liberation Sans',sans-serif;font-size:18.8px;" text-anchor="middle" fill="#151515">MD</text><text x="63.90" y="374.00" style="font-family:'Liberation Sans',sans-serif;font-size:18.0px;" text-anchor="end" fill="#151515">0.1</text><text x="63.90" y="525.50" style="font-family:'Liberation Sans',sans-serif;font-size:18.0px;" text-anchor="end" fill="#151515">-0.1</text><text x="69.80" y="550.60" style="font-family:'Liberation Sans',sans-serif;font-size:18.0px;" text-anchor="middle" fill="#151515">0</text><text x="244.20" y="550.60" style="font-family:'Liberation Sans',sans-serif;font-size:18.0px;" text-anchor="middle" fill="#151515" textLength="36.3" lengthAdjust="spacingAndGlyphs">5E-5</text><text x="154.00" y="552.30" style="font-family:'Liberation Serif',serif;font-size:22px;font-style:italic" text-anchor="middle" fill="#151515">κ</text><text x="55.00" y="443.70" style="font-family:'Liberation Serif',serif;font-size:22.5px;font-style:italic" text-anchor="middle" textLength="55.4" lengthAdjust="spacingAndGlyphs" fill="#151515" transform="rotate(-90 55.00 443.70)">γ (μm)</text><text x="383.70" y="352.00" style="font-family:'Liberation Sans',sans-serif;font-size:18.8px;" text-anchor="middle" fill="#151515">ED</text><text x="292.80" y="378.40" style="font-family:'Liberation Sans',sans-serif;font-size:18.0px;" text-anchor="end" fill="#151515">0.1</text><text x="294.30" y="529.00" style="font-family:'Liberation Sans',sans-serif;font-size:18.0px;" text-anchor="end" fill="#151515">-0.1</text><text x="299.00" y="554.30" style="font-family:'Liberation Sans',sans-serif;font-size:18.0px;" text-anchor="middle" fill="#151515">0</text><text x="473.90" y="554.30" style="font-family:'Liberation Sans',sans-serif;font-size:18.0px;" text-anchor="middle" fill="#151515" textLength="36.3" lengthAdjust="spacingAndGlyphs">5E-5</text><text x="383.50" y="556.60" style="font-family:'Liberation Serif',serif;font-size:22px;font-style:italic" text-anchor="middle" fill="#151515">κ</text><text x="283.90" y="447.50" style="font-family:'Liberation Serif',serif;font-size:22.5px;font-style:italic" text-anchor="middle" textLength="55.4" lengthAdjust="spacingAndGlyphs" fill="#151515" transform="rotate(-90 283.90 447.50)">γ (μm)</text><text x="620.00" y="352.00" style="font-family:'Liberation Sans',sans-serif;font-size:18.8px;" text-anchor="middle" fill="#151515">EQ</text><text x="527.50" y="378.40" style="font-family:'Liberation Sans',sans-serif;font-size:18.0px;" text-anchor="end" fill="#151515">0.1</text><text x="528.50" y="529.00" style="font-family:'Liberation Sans',sans-serif;font-size:18.0px;" text-anchor="end" fill="#151515">-0.1</text><text x="533.40" y="554.00" style="font-family:'Liberation Sans',sans-serif;font-size:18.0px;" text-anchor="middle" fill="#151515">0</text><text x="708.30" y="554.00" style="font-family:'Liberation Sans',sans-serif;font-size:18.0px;" text-anchor="middle" fill="#151515" textLength="36.3" lengthAdjust="spacingAndGlyphs">5E-5</text><text x="616.90" y="555.80" style="font-family:'Liberation Serif',serif;font-size:22px;font-style:italic" text-anchor="middle" fill="#151515">κ</text><text x="518.20" y="447.50" style="font-family:'Liberation Serif',serif;font-size:22.5px;font-style:italic" text-anchor="middle" textLength="55.4" lengthAdjust="spacingAndGlyphs" fill="#151515" transform="rotate(-90 518.20 447.50)">γ (μm)</text><text x="859.10" y="352.00" style="font-family:'Liberation Sans',sans-serif;font-size:18.8px;" text-anchor="middle" fill="#151515">Total</text><text x="760.70" y="379.90" style="font-family:'Liberation Sans',sans-serif;font-size:18.0px;" text-anchor="end" fill="#151515">0.1</text><text x="761.50" y="529.90" style="font-family:'Liberation Sans',sans-serif;font-size:18.0px;" text-anchor="end" fill="#151515">-0.1</text><text x="767.70" y="555.70" style="font-family:'Liberation Sans',sans-serif;font-size:18.0px;" text-anchor="middle" fill="#151515">0</text><text x="942.20" y="555.70" style="font-family:'Liberation Sans',sans-serif;font-size:18.0px;" text-anchor="middle" fill="#151515" textLength="36.3" lengthAdjust="spacingAndGlyphs">5E-5</text><text x="851.50" y="557.20" style="font-family:'Liberation Serif',serif;font-size:22px;font-style:italic" text-anchor="middle" fill="#151515">κ</text><text x="752.80" y="448.00" style="font-family:'Liberation Serif',serif;font-size:22.5px;font-style:italic" text-anchor="middle" textLength="55.4" lengthAdjust="spacingAndGlyphs" fill="#151515" transform="rotate(-90 752.80 448.00)">γ (μm)</text><text x="154.20" y="579.00" style="font-family:'Liberation Sans',sans-serif;font-size:18.8px;" text-anchor="middle" fill="#151515">(x1)</text><text x="63.90" y="598.10" style="font-family:'Liberation Sans',sans-serif;font-size:18.0px;" text-anchor="end" fill="#151515">0.1</text><text x="63.90" y="763.40" style="font-family:'Liberation Sans',sans-serif;font-size:18.0px;" text-anchor="end" fill="#151515">-0.1</text><text x="69.00" y="779.50" style="font-family:'Liberation Sans',sans-serif;font-size:18.0px;" text-anchor="middle" fill="#151515">0</text><text x="246.80" y="779.50" style="font-family:'Liberation Sans',sans-serif;font-size:18.0px;" text-anchor="middle" fill="#151515" textLength="36.3" lengthAdjust="spacingAndGlyphs">5E-5</text><text x="151.00" y="785.40" style="font-family:'Liberation Serif',serif;font-size:22px;font-style:italic" text-anchor="middle" fill="#151515">κ</text><text x="53.80" y="668.80" style="font-family:'Liberation Serif',serif;font-size:22.5px;font-style:italic" text-anchor="middle" textLength="55.4" lengthAdjust="spacingAndGlyphs" fill="#151515" transform="rotate(-90 53.80 668.80)">γ (μm)</text><text x="382.90" y="578.00" style="font-family:'Liberation Sans',sans-serif;font-size:18.8px;" text-anchor="middle" fill="#151515">(x4)</text><text x="294.50" y="591.70" style="font-family:'Liberation Sans',sans-serif;font-size:18.0px;" text-anchor="end" fill="#151515">0.1</text><text x="295.10" y="756.10" style="font-family:'Liberation Sans',sans-serif;font-size:18.0px;" text-anchor="end" fill="#151515">-0.1</text><text x="299.80" y="772.50" style="font-family:'Liberation Sans',sans-serif;font-size:18.0px;" text-anchor="middle" fill="#151515">0</text><text x="477.50" y="772.50" style="font-family:'Liberation Sans',sans-serif;font-size:18.0px;" text-anchor="middle" fill="#151515" textLength="36.3" lengthAdjust="spacingAndGlyphs">5E-5</text><text x="384.00" y="779.00" style="font-family:'Liberation Serif',serif;font-size:22px;font-style:italic" text-anchor="middle" fill="#151515">κ</text><text x="285.00" y="662.50" style="font-family:'Liberation Serif',serif;font-size:22.5px;font-style:italic" text-anchor="middle" textLength="55.4" lengthAdjust="spacingAndGlyphs" fill="#151515" transform="rotate(-90 285.00 662.50)">γ (μm)</text><text x="619.70" y="579.00" style="font-family:'Liberation Sans',sans-serif;font-size:18.8px;" text-anchor="middle" fill="#151515">(x20)</text><text x="529.50" y="597.60" style="font-family:'Liberation Sans',sans-serif;font-size:18.0px;" text-anchor="end" fill="#151515">0.1</text><text x="529.60" y="763.40" style="font-family:'Liberation Sans',sans-serif;font-size:18.0px;" text-anchor="end" fill="#151515">-0.1</text><text x="536.10" y="779.50" style="font-family:'Liberation Sans',sans-serif;font-size:18.0px;" text-anchor="middle" fill="#151515">0</text><text x="713.60" y="779.50" style="font-family:'Liberation Sans',sans-serif;font-size:18.0px;" text-anchor="middle" fill="#151515" textLength="36.3" lengthAdjust="spacingAndGlyphs">5E-5</text><text x="617.40" y="785.40" style="font-family:'Liberation Serif',serif;font-size:22px;font-style:italic" text-anchor="middle" fill="#151515">κ</text><text x="519.00" y="668.80" style="font-family:'Liberation Serif',serif;font-size:22.5px;font-style:italic" text-anchor="middle" textLength="55.4" lengthAdjust="spacingAndGlyphs" fill="#151515" transform="rotate(-90 519.00 668.80)">γ (μm)</text><text x="852.70" y="579.00" style="font-family:'Liberation Sans',sans-serif;font-size:18.8px;" text-anchor="middle" fill="#151515">(x0.5)</text><text x="762.80" y="598.10" style="font-family:'Liberation Sans',sans-serif;font-size:18.0px;" text-anchor="end" fill="#151515">0.1</text><text x="762.90" y="763.40" style="font-family:'Liberation Sans',sans-serif;font-size:18.0px;" text-anchor="end" fill="#151515">-0.1</text><text x="768.50" y="779.50" style="font-family:'Liberation Sans',sans-serif;font-size:18.0px;" text-anchor="middle" fill="#151515">0</text><text x="946.60" y="779.50" style="font-family:'Liberation Sans',sans-serif;font-size:18.0px;" text-anchor="middle" fill="#151515" textLength="36.3" lengthAdjust="spacingAndGlyphs">5E-5</text><text x="851.50" y="785.40" style="font-family:'Liberation Serif',serif;font-size:22px;font-style:italic" text-anchor="middle" fill="#151515">κ</text><text x="753.00" y="668.80" style="font-family:'Liberation Serif',serif;font-size:22.5px;font-style:italic" text-anchor="middle" textLength="55.4" lengthAdjust="spacingAndGlyphs" fill="#151515" transform="rotate(-90 753.00 668.80)">γ (μm)</text><text x="15.00" y="446.00" style="font-family:'Liberation Sans',sans-serif;font-size:18.5px;" text-anchor="middle" fill="#151515" transform="rotate(-90 15.00 446.00)">Achiral</text><text x="15.00" y="670.00" style="font-family:'Liberation Sans',sans-serif;font-size:18.5px;" text-anchor="middle" fill="#151515" transform="rotate(-90 15.00 670.00)">Chiral</text><text x="970.70" y="372.80" style="font-family:'Liberation Sans',sans-serif;font-size:18.0px;" text-anchor="start" fill="#151515" textLength="46.6" lengthAdjust="spacingAndGlyphs">1E-14</text><text x="970.50" y="533.00" style="font-family:'Liberation Sans',sans-serif;font-size:18.0px;" text-anchor="start" fill="#151515">0</text><text x="969.00" y="601.70" style="font-family:'Liberation Sans',sans-serif;font-size:18.0px;" text-anchor="start" fill="#151515" textLength="49.0" lengthAdjust="spacingAndGlyphs">3E-18</text><text x="967.50" y="759.20" style="font-family:'Liberation Sans',sans-serif;font-size:18.0px;" text-anchor="start" fill="#151515" textLength="54.3" lengthAdjust="spacingAndGlyphs">-2E-18</text><text x="1003.20" y="451.00" style="font-family:'Liberation Sans',sans-serif;font-size:18.5px;" text-anchor="middle" fill="#151515" textLength="125.2" lengthAdjust="spacingAndGlyphs" transform="rotate(90 1003.20 451.00)">Absorption (W)</text><text x="1009.00" y="667.80" style="font-family:'Liberation Sans',sans-serif;font-size:18.5px;" text-anchor="middle" fill="#151515" textLength="125.3" lengthAdjust="spacingAndGlyphs" transform="rotate(90 1009.00 667.80)">Absorption (W)</text></svg></body></html>
